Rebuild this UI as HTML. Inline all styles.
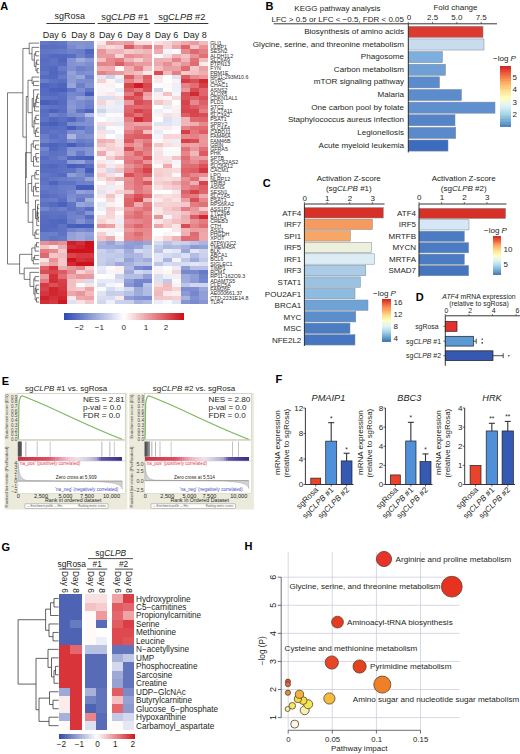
<!DOCTYPE html>
<html><head><meta charset="utf-8"><title>Figure</title>
<style>
html,body{margin:0;padding:0;background:#fff;width:520px;height:754px;overflow:hidden}
svg{display:block}
text{font-family:"Liberation Sans", sans-serif}
</style></head><body>
<svg width="520" height="754" viewBox="0 0 520 754" font-family="Liberation Sans, sans-serif" shape-rendering="auto" fill="#231f20">
<rect x="0" y="0" width="520" height="754" fill="#fff"/>
<text x="0.30" y="9.60" font-size="11" font-weight="bold" fill="#000">A</text>
<text x="69.80" y="19.40" font-size="9" text-anchor="middle">sgRosa</text>
<text x="124.80" y="19.60" font-size="9.3" text-anchor="middle">sg<tspan font-style="italic">CLPB</tspan> #1</text>
<text x="181.80" y="19.60" font-size="9.3" text-anchor="middle">sg<tspan font-style="italic">CLPB</tspan> #2</text>
<line x1="46.40" y1="23.50" x2="95.00" y2="23.50" stroke="#231f20" stroke-width="0.9"/>
<line x1="97.60" y1="23.50" x2="149.80" y2="23.50" stroke="#231f20" stroke-width="0.9"/>
<line x1="154.20" y1="23.50" x2="208.30" y2="23.50" stroke="#231f20" stroke-width="0.9"/>
<text x="54.40" y="37.90" font-size="9" text-anchor="middle">Day 6</text>
<text x="82.90" y="37.90" font-size="9" text-anchor="middle">Day 8</text>
<text x="110.80" y="37.90" font-size="9" text-anchor="middle">Day 6</text>
<text x="138.70" y="37.90" font-size="9" text-anchor="middle">Day 8</text>
<text x="166.60" y="37.90" font-size="9" text-anchor="middle">Day 6</text>
<text x="195.00" y="37.90" font-size="9" text-anchor="middle">Day 8</text>
<rect x="39.50" y="41.00" width="9.18" height="4.30" fill="#6478c6" shape-rendering="crispEdges"/>
<rect x="48.63" y="41.00" width="9.18" height="4.30" fill="#5f73c5" shape-rendering="crispEdges"/>
<rect x="57.77" y="41.00" width="9.18" height="4.30" fill="#6477c6" shape-rendering="crispEdges"/>
<rect x="66.90" y="41.00" width="9.18" height="4.30" fill="#8191d1" shape-rendering="crispEdges"/>
<rect x="76.03" y="41.00" width="9.18" height="4.30" fill="#8493d2" shape-rendering="crispEdges"/>
<rect x="85.17" y="41.00" width="9.18" height="4.30" fill="#8090d0" shape-rendering="crispEdges"/>
<rect x="96.50" y="41.00" width="9.30" height="4.30" fill="#fae7e8" shape-rendering="crispEdges"/>
<rect x="105.75" y="41.00" width="9.30" height="4.30" fill="#ea9ea2" shape-rendering="crispEdges"/>
<rect x="115.00" y="41.00" width="9.30" height="4.30" fill="#eda8ab" shape-rendering="crispEdges"/>
<rect x="124.25" y="41.00" width="9.30" height="4.30" fill="#ea9ca0" shape-rendering="crispEdges"/>
<rect x="133.50" y="41.00" width="9.30" height="4.30" fill="#f8dcde" shape-rendering="crispEdges"/>
<rect x="142.75" y="41.00" width="9.30" height="4.30" fill="#f8dedf" shape-rendering="crispEdges"/>
<rect x="153.80" y="41.00" width="9.13" height="4.30" fill="#f8e0e1" shape-rendering="crispEdges"/>
<rect x="162.88" y="41.00" width="9.13" height="4.30" fill="#f6d4d5" shape-rendering="crispEdges"/>
<rect x="171.97" y="41.00" width="9.13" height="4.30" fill="#f1bdc0" shape-rendering="crispEdges"/>
<rect x="181.05" y="41.00" width="9.13" height="4.30" fill="#edaaad" shape-rendering="crispEdges"/>
<rect x="190.13" y="41.00" width="9.13" height="4.30" fill="#ea999e" shape-rendering="crispEdges"/>
<rect x="199.22" y="41.00" width="9.13" height="4.30" fill="#f1bbbe" shape-rendering="crispEdges"/>
<rect x="39.50" y="45.25" width="9.18" height="4.30" fill="#5a6fc3" shape-rendering="crispEdges"/>
<rect x="48.63" y="45.25" width="9.18" height="4.30" fill="#5a6fc2" shape-rendering="crispEdges"/>
<rect x="57.77" y="45.25" width="9.18" height="4.30" fill="#5d71c4" shape-rendering="crispEdges"/>
<rect x="66.90" y="45.25" width="9.18" height="4.30" fill="#798ace" shape-rendering="crispEdges"/>
<rect x="76.03" y="45.25" width="9.18" height="4.30" fill="#8796d3" shape-rendering="crispEdges"/>
<rect x="85.17" y="45.25" width="9.18" height="4.30" fill="#7f90d0" shape-rendering="crispEdges"/>
<rect x="96.50" y="45.25" width="9.30" height="4.30" fill="#f4cdcf" shape-rendering="crispEdges"/>
<rect x="105.75" y="45.25" width="9.30" height="4.30" fill="#f8dcdd" shape-rendering="crispEdges"/>
<rect x="115.00" y="45.25" width="9.30" height="4.30" fill="#f5cfd1" shape-rendering="crispEdges"/>
<rect x="124.25" y="45.25" width="9.30" height="4.30" fill="#dc5b62" shape-rendering="crispEdges"/>
<rect x="133.50" y="45.25" width="9.30" height="4.30" fill="#e9969a" shape-rendering="crispEdges"/>
<rect x="142.75" y="45.25" width="9.30" height="4.30" fill="#e2777d" shape-rendering="crispEdges"/>
<rect x="153.80" y="45.25" width="9.13" height="4.30" fill="#e9999d" shape-rendering="crispEdges"/>
<rect x="162.88" y="45.25" width="9.13" height="4.30" fill="#f5d1d3" shape-rendering="crispEdges"/>
<rect x="171.97" y="45.25" width="9.13" height="4.30" fill="#eca4a8" shape-rendering="crispEdges"/>
<rect x="181.05" y="45.25" width="9.13" height="4.30" fill="#de646a" shape-rendering="crispEdges"/>
<rect x="190.13" y="45.25" width="9.13" height="4.30" fill="#f3c4c7" shape-rendering="crispEdges"/>
<rect x="199.22" y="45.25" width="9.13" height="4.30" fill="#e89398" shape-rendering="crispEdges"/>
<rect x="39.50" y="49.49" width="9.18" height="4.30" fill="#6276c5" shape-rendering="crispEdges"/>
<rect x="48.63" y="49.49" width="9.18" height="4.30" fill="#6478c6" shape-rendering="crispEdges"/>
<rect x="57.77" y="49.49" width="9.18" height="4.30" fill="#687bc8" shape-rendering="crispEdges"/>
<rect x="66.90" y="49.49" width="9.18" height="4.30" fill="#7082cb" shape-rendering="crispEdges"/>
<rect x="76.03" y="49.49" width="9.18" height="4.30" fill="#6c7ec9" shape-rendering="crispEdges"/>
<rect x="85.17" y="49.49" width="9.18" height="4.30" fill="#5167bf" shape-rendering="crispEdges"/>
<rect x="96.50" y="49.49" width="9.30" height="4.30" fill="#e99599" shape-rendering="crispEdges"/>
<rect x="105.75" y="49.49" width="9.30" height="4.30" fill="#f0b8bb" shape-rendering="crispEdges"/>
<rect x="115.00" y="49.49" width="9.30" height="4.30" fill="#efb4b7" shape-rendering="crispEdges"/>
<rect x="124.25" y="49.49" width="9.30" height="4.30" fill="#f4cacc" shape-rendering="crispEdges"/>
<rect x="133.50" y="49.49" width="9.30" height="4.30" fill="#f2c1c4" shape-rendering="crispEdges"/>
<rect x="142.75" y="49.49" width="9.30" height="4.30" fill="#efb5b8" shape-rendering="crispEdges"/>
<rect x="153.80" y="49.49" width="9.13" height="4.30" fill="#edacaf" shape-rendering="crispEdges"/>
<rect x="162.88" y="49.49" width="9.13" height="4.30" fill="#f3f5fb" shape-rendering="crispEdges"/>
<rect x="171.97" y="49.49" width="9.13" height="4.30" fill="#fefcfc" shape-rendering="crispEdges"/>
<rect x="181.05" y="49.49" width="9.13" height="4.30" fill="#e68b90" shape-rendering="crispEdges"/>
<rect x="190.13" y="49.49" width="9.13" height="4.30" fill="#df686e" shape-rendering="crispEdges"/>
<rect x="199.22" y="49.49" width="9.13" height="4.30" fill="#e48186" shape-rendering="crispEdges"/>
<rect x="39.50" y="53.74" width="9.18" height="4.30" fill="#5b70c3" shape-rendering="crispEdges"/>
<rect x="48.63" y="53.74" width="9.18" height="4.30" fill="#5469c0" shape-rendering="crispEdges"/>
<rect x="57.77" y="53.74" width="9.18" height="4.30" fill="#546ac1" shape-rendering="crispEdges"/>
<rect x="66.90" y="53.74" width="9.18" height="4.30" fill="#596ec2" shape-rendering="crispEdges"/>
<rect x="76.03" y="53.74" width="9.18" height="4.30" fill="#6f82ca" shape-rendering="crispEdges"/>
<rect x="85.17" y="53.74" width="9.18" height="4.30" fill="#5d72c4" shape-rendering="crispEdges"/>
<rect x="96.50" y="53.74" width="9.30" height="4.30" fill="#ea9b9f" shape-rendering="crispEdges"/>
<rect x="105.75" y="53.74" width="9.30" height="4.30" fill="#ea9a9e" shape-rendering="crispEdges"/>
<rect x="115.00" y="53.74" width="9.30" height="4.30" fill="#f7d7d9" shape-rendering="crispEdges"/>
<rect x="124.25" y="53.74" width="9.30" height="4.30" fill="#e78f93" shape-rendering="crispEdges"/>
<rect x="133.50" y="53.74" width="9.30" height="4.30" fill="#e9989c" shape-rendering="crispEdges"/>
<rect x="142.75" y="53.74" width="9.30" height="4.30" fill="#eca5a8" shape-rendering="crispEdges"/>
<rect x="153.80" y="53.74" width="9.13" height="4.30" fill="#fbfcfe" shape-rendering="crispEdges"/>
<rect x="162.88" y="53.74" width="9.13" height="4.30" fill="#f8ddde" shape-rendering="crispEdges"/>
<rect x="171.97" y="53.74" width="9.13" height="4.30" fill="#efb1b5" shape-rendering="crispEdges"/>
<rect x="181.05" y="53.74" width="9.13" height="4.30" fill="#f2c3c6" shape-rendering="crispEdges"/>
<rect x="190.13" y="53.74" width="9.13" height="4.30" fill="#e89498" shape-rendering="crispEdges"/>
<rect x="199.22" y="53.74" width="9.13" height="4.30" fill="#e17177" shape-rendering="crispEdges"/>
<rect x="39.50" y="57.98" width="9.18" height="4.30" fill="#576cc1" shape-rendering="crispEdges"/>
<rect x="48.63" y="57.98" width="9.18" height="4.30" fill="#5f73c4" shape-rendering="crispEdges"/>
<rect x="57.77" y="57.98" width="9.18" height="4.30" fill="#5167bf" shape-rendering="crispEdges"/>
<rect x="66.90" y="57.98" width="9.18" height="4.30" fill="#8494d2" shape-rendering="crispEdges"/>
<rect x="76.03" y="57.98" width="9.18" height="4.30" fill="#a0acdc" shape-rendering="crispEdges"/>
<rect x="85.17" y="57.98" width="9.18" height="4.30" fill="#8c9bd5" shape-rendering="crispEdges"/>
<rect x="96.50" y="57.98" width="9.30" height="4.30" fill="#f2bfc2" shape-rendering="crispEdges"/>
<rect x="105.75" y="57.98" width="9.30" height="4.30" fill="#e68a8f" shape-rendering="crispEdges"/>
<rect x="115.00" y="57.98" width="9.30" height="4.30" fill="#e37b80" shape-rendering="crispEdges"/>
<rect x="124.25" y="57.98" width="9.30" height="4.30" fill="#efb4b7" shape-rendering="crispEdges"/>
<rect x="133.50" y="57.98" width="9.30" height="4.30" fill="#f5cfd1" shape-rendering="crispEdges"/>
<rect x="142.75" y="57.98" width="9.30" height="4.30" fill="#edabaf" shape-rendering="crispEdges"/>
<rect x="153.80" y="57.98" width="9.13" height="4.30" fill="#eeafb2" shape-rendering="crispEdges"/>
<rect x="162.88" y="57.98" width="9.13" height="4.30" fill="#efb3b6" shape-rendering="crispEdges"/>
<rect x="171.97" y="57.98" width="9.13" height="4.30" fill="#e58187" shape-rendering="crispEdges"/>
<rect x="181.05" y="57.98" width="9.13" height="4.30" fill="#efb4b7" shape-rendering="crispEdges"/>
<rect x="190.13" y="57.98" width="9.13" height="4.30" fill="#e17177" shape-rendering="crispEdges"/>
<rect x="199.22" y="57.98" width="9.13" height="4.30" fill="#f1bbbe" shape-rendering="crispEdges"/>
<rect x="39.50" y="62.23" width="9.18" height="4.30" fill="#5a6fc3" shape-rendering="crispEdges"/>
<rect x="48.63" y="62.23" width="9.18" height="4.30" fill="#5d72c4" shape-rendering="crispEdges"/>
<rect x="57.77" y="62.23" width="9.18" height="4.30" fill="#586dc2" shape-rendering="crispEdges"/>
<rect x="66.90" y="62.23" width="9.18" height="4.30" fill="#8393d2" shape-rendering="crispEdges"/>
<rect x="76.03" y="62.23" width="9.18" height="4.30" fill="#8998d4" shape-rendering="crispEdges"/>
<rect x="85.17" y="62.23" width="9.18" height="4.30" fill="#7e8ed0" shape-rendering="crispEdges"/>
<rect x="96.50" y="62.23" width="9.30" height="4.30" fill="#e58388" shape-rendering="crispEdges"/>
<rect x="105.75" y="62.23" width="9.30" height="4.30" fill="#e6888d" shape-rendering="crispEdges"/>
<rect x="115.00" y="62.23" width="9.30" height="4.30" fill="#dd5e65" shape-rendering="crispEdges"/>
<rect x="124.25" y="62.23" width="9.30" height="4.30" fill="#e6888d" shape-rendering="crispEdges"/>
<rect x="133.50" y="62.23" width="9.30" height="4.30" fill="#ea9ea2" shape-rendering="crispEdges"/>
<rect x="142.75" y="62.23" width="9.30" height="4.30" fill="#ea9ca0" shape-rendering="crispEdges"/>
<rect x="153.80" y="62.23" width="9.13" height="4.30" fill="#edaaae" shape-rendering="crispEdges"/>
<rect x="162.88" y="62.23" width="9.13" height="4.30" fill="#e78f94" shape-rendering="crispEdges"/>
<rect x="171.97" y="62.23" width="9.13" height="4.30" fill="#efb4b7" shape-rendering="crispEdges"/>
<rect x="181.05" y="62.23" width="9.13" height="4.30" fill="#e9959a" shape-rendering="crispEdges"/>
<rect x="190.13" y="62.23" width="9.13" height="4.30" fill="#e06b71" shape-rendering="crispEdges"/>
<rect x="199.22" y="62.23" width="9.13" height="4.30" fill="#fbecec" shape-rendering="crispEdges"/>
<rect x="39.50" y="66.47" width="9.18" height="4.30" fill="#596ec2" shape-rendering="crispEdges"/>
<rect x="48.63" y="66.47" width="9.18" height="4.30" fill="#5369c0" shape-rendering="crispEdges"/>
<rect x="57.77" y="66.47" width="9.18" height="4.30" fill="#697cc8" shape-rendering="crispEdges"/>
<rect x="66.90" y="66.47" width="9.18" height="4.30" fill="#7f8fd0" shape-rendering="crispEdges"/>
<rect x="76.03" y="66.47" width="9.18" height="4.30" fill="#6e80ca" shape-rendering="crispEdges"/>
<rect x="85.17" y="66.47" width="9.18" height="4.30" fill="#7788cd" shape-rendering="crispEdges"/>
<rect x="96.50" y="66.47" width="9.30" height="4.30" fill="#eeafb3" shape-rendering="crispEdges"/>
<rect x="105.75" y="66.47" width="9.30" height="4.30" fill="#edabae" shape-rendering="crispEdges"/>
<rect x="115.00" y="66.47" width="9.30" height="4.30" fill="#fef8f9" shape-rendering="crispEdges"/>
<rect x="124.25" y="66.47" width="9.30" height="4.30" fill="#eeadb0" shape-rendering="crispEdges"/>
<rect x="133.50" y="66.47" width="9.30" height="4.30" fill="#e48187" shape-rendering="crispEdges"/>
<rect x="142.75" y="66.47" width="9.30" height="4.30" fill="#f2c1c3" shape-rendering="crispEdges"/>
<rect x="153.80" y="66.47" width="9.13" height="4.30" fill="#f1bdc0" shape-rendering="crispEdges"/>
<rect x="162.88" y="66.47" width="9.13" height="4.30" fill="#eb9fa3" shape-rendering="crispEdges"/>
<rect x="171.97" y="66.47" width="9.13" height="4.30" fill="#eba2a6" shape-rendering="crispEdges"/>
<rect x="181.05" y="66.47" width="9.13" height="4.30" fill="#e06a70" shape-rendering="crispEdges"/>
<rect x="190.13" y="66.47" width="9.13" height="4.30" fill="#f3c7c9" shape-rendering="crispEdges"/>
<rect x="199.22" y="66.47" width="9.13" height="4.30" fill="#eba0a4" shape-rendering="crispEdges"/>
<rect x="39.50" y="70.72" width="9.18" height="4.30" fill="#6175c5" shape-rendering="crispEdges"/>
<rect x="48.63" y="70.72" width="9.18" height="4.30" fill="#5066bf" shape-rendering="crispEdges"/>
<rect x="57.77" y="70.72" width="9.18" height="4.30" fill="#5d71c4" shape-rendering="crispEdges"/>
<rect x="66.90" y="70.72" width="9.18" height="4.30" fill="#94a2d8" shape-rendering="crispEdges"/>
<rect x="76.03" y="70.72" width="9.18" height="4.30" fill="#7b8ccf" shape-rendering="crispEdges"/>
<rect x="85.17" y="70.72" width="9.18" height="4.30" fill="#8191d1" shape-rendering="crispEdges"/>
<rect x="96.50" y="70.72" width="9.30" height="4.30" fill="#e58288" shape-rendering="crispEdges"/>
<rect x="105.75" y="70.72" width="9.30" height="4.30" fill="#e9969a" shape-rendering="crispEdges"/>
<rect x="115.00" y="70.72" width="9.30" height="4.30" fill="#ea9ca0" shape-rendering="crispEdges"/>
<rect x="124.25" y="70.72" width="9.30" height="4.30" fill="#efb2b5" shape-rendering="crispEdges"/>
<rect x="133.50" y="70.72" width="9.30" height="4.30" fill="#f2c0c3" shape-rendering="crispEdges"/>
<rect x="142.75" y="70.72" width="9.30" height="4.30" fill="#fae7e8" shape-rendering="crispEdges"/>
<rect x="153.80" y="70.72" width="9.13" height="4.30" fill="#d94a51" shape-rendering="crispEdges"/>
<rect x="162.88" y="70.72" width="9.13" height="4.30" fill="#f1bbbe" shape-rendering="crispEdges"/>
<rect x="171.97" y="70.72" width="9.13" height="4.30" fill="#e47f84" shape-rendering="crispEdges"/>
<rect x="181.05" y="70.72" width="9.13" height="4.30" fill="#f4cbcd" shape-rendering="crispEdges"/>
<rect x="190.13" y="70.72" width="9.13" height="4.30" fill="#f2c0c2" shape-rendering="crispEdges"/>
<rect x="199.22" y="70.72" width="9.13" height="4.30" fill="#eeafb2" shape-rendering="crispEdges"/>
<rect x="39.50" y="74.96" width="9.18" height="4.30" fill="#576cc1" shape-rendering="crispEdges"/>
<rect x="48.63" y="74.96" width="9.18" height="4.30" fill="#5369c0" shape-rendering="crispEdges"/>
<rect x="57.77" y="74.96" width="9.18" height="4.30" fill="#687bc8" shape-rendering="crispEdges"/>
<rect x="66.90" y="74.96" width="9.18" height="4.30" fill="#8c9bd5" shape-rendering="crispEdges"/>
<rect x="76.03" y="74.96" width="9.18" height="4.30" fill="#9aa7da" shape-rendering="crispEdges"/>
<rect x="85.17" y="74.96" width="9.18" height="4.30" fill="#6c7fc9" shape-rendering="crispEdges"/>
<rect x="96.50" y="74.96" width="9.30" height="4.30" fill="#e1e5f4" shape-rendering="crispEdges"/>
<rect x="105.75" y="74.96" width="9.30" height="4.30" fill="#ccd2ec" shape-rendering="crispEdges"/>
<rect x="115.00" y="74.96" width="9.30" height="4.30" fill="#f0f2f9" shape-rendering="crispEdges"/>
<rect x="124.25" y="74.96" width="9.30" height="4.30" fill="#dd5d64" shape-rendering="crispEdges"/>
<rect x="133.50" y="74.96" width="9.30" height="4.30" fill="#ea9ca0" shape-rendering="crispEdges"/>
<rect x="142.75" y="74.96" width="9.30" height="4.30" fill="#dd5e64" shape-rendering="crispEdges"/>
<rect x="153.80" y="74.96" width="9.13" height="4.30" fill="#f9e4e5" shape-rendering="crispEdges"/>
<rect x="162.88" y="74.96" width="9.13" height="4.30" fill="#fffdfd" shape-rendering="crispEdges"/>
<rect x="171.97" y="74.96" width="9.13" height="4.30" fill="#dee3f3" shape-rendering="crispEdges"/>
<rect x="181.05" y="74.96" width="9.13" height="4.30" fill="#dd5e65" shape-rendering="crispEdges"/>
<rect x="190.13" y="74.96" width="9.13" height="4.30" fill="#e68a8f" shape-rendering="crispEdges"/>
<rect x="199.22" y="74.96" width="9.13" height="4.30" fill="#e9989d" shape-rendering="crispEdges"/>
<rect x="39.50" y="79.21" width="9.18" height="4.30" fill="#6b7dc9" shape-rendering="crispEdges"/>
<rect x="48.63" y="79.21" width="9.18" height="4.30" fill="#5e73c4" shape-rendering="crispEdges"/>
<rect x="57.77" y="79.21" width="9.18" height="4.30" fill="#5a6fc3" shape-rendering="crispEdges"/>
<rect x="66.90" y="79.21" width="9.18" height="4.30" fill="#8e9cd6" shape-rendering="crispEdges"/>
<rect x="76.03" y="79.21" width="9.18" height="4.30" fill="#7d8ecf" shape-rendering="crispEdges"/>
<rect x="85.17" y="79.21" width="9.18" height="4.30" fill="#7d8ed0" shape-rendering="crispEdges"/>
<rect x="96.50" y="79.21" width="9.30" height="4.30" fill="#f5d0d2" shape-rendering="crispEdges"/>
<rect x="105.75" y="79.21" width="9.30" height="4.30" fill="#fdf5f6" shape-rendering="crispEdges"/>
<rect x="115.00" y="79.21" width="9.30" height="4.30" fill="#e1e5f4" shape-rendering="crispEdges"/>
<rect x="124.25" y="79.21" width="9.30" height="4.30" fill="#e5868b" shape-rendering="crispEdges"/>
<rect x="133.50" y="79.21" width="9.30" height="4.30" fill="#edabaf" shape-rendering="crispEdges"/>
<rect x="142.75" y="79.21" width="9.30" height="4.30" fill="#df676e" shape-rendering="crispEdges"/>
<rect x="153.80" y="79.21" width="9.13" height="4.30" fill="#fbeaeb" shape-rendering="crispEdges"/>
<rect x="162.88" y="79.21" width="9.13" height="4.30" fill="#fffefe" shape-rendering="crispEdges"/>
<rect x="171.97" y="79.21" width="9.13" height="4.30" fill="#fcf1f2" shape-rendering="crispEdges"/>
<rect x="181.05" y="79.21" width="9.13" height="4.30" fill="#d53941" shape-rendering="crispEdges"/>
<rect x="190.13" y="79.21" width="9.13" height="4.30" fill="#da4f56" shape-rendering="crispEdges"/>
<rect x="199.22" y="79.21" width="9.13" height="4.30" fill="#d22a33" shape-rendering="crispEdges"/>
<rect x="39.50" y="83.45" width="9.18" height="4.30" fill="#4f65bf" shape-rendering="crispEdges"/>
<rect x="48.63" y="83.45" width="9.18" height="4.30" fill="#556ac1" shape-rendering="crispEdges"/>
<rect x="57.77" y="83.45" width="9.18" height="4.30" fill="#4e65be" shape-rendering="crispEdges"/>
<rect x="66.90" y="83.45" width="9.18" height="4.30" fill="#98a5d9" shape-rendering="crispEdges"/>
<rect x="76.03" y="83.45" width="9.18" height="4.30" fill="#6c7fc9" shape-rendering="crispEdges"/>
<rect x="85.17" y="83.45" width="9.18" height="4.30" fill="#8493d2" shape-rendering="crispEdges"/>
<rect x="96.50" y="83.45" width="9.30" height="4.30" fill="#fdf4f4" shape-rendering="crispEdges"/>
<rect x="105.75" y="83.45" width="9.30" height="4.30" fill="#fcf0f1" shape-rendering="crispEdges"/>
<rect x="115.00" y="83.45" width="9.30" height="4.30" fill="#fefdfd" shape-rendering="crispEdges"/>
<rect x="124.25" y="83.45" width="9.30" height="4.30" fill="#d8444c" shape-rendering="crispEdges"/>
<rect x="133.50" y="83.45" width="9.30" height="4.30" fill="#cf1c26" shape-rendering="crispEdges"/>
<rect x="142.75" y="83.45" width="9.30" height="4.30" fill="#d94950" shape-rendering="crispEdges"/>
<rect x="153.80" y="83.45" width="9.13" height="4.30" fill="#fcfcfe" shape-rendering="crispEdges"/>
<rect x="162.88" y="83.45" width="9.13" height="4.30" fill="#fef9f9" shape-rendering="crispEdges"/>
<rect x="171.97" y="83.45" width="9.13" height="4.30" fill="#eef0f9" shape-rendering="crispEdges"/>
<rect x="181.05" y="83.45" width="9.13" height="4.30" fill="#e58388" shape-rendering="crispEdges"/>
<rect x="190.13" y="83.45" width="9.13" height="4.30" fill="#e16f75" shape-rendering="crispEdges"/>
<rect x="199.22" y="83.45" width="9.13" height="4.30" fill="#d73f47" shape-rendering="crispEdges"/>
<rect x="39.50" y="87.70" width="9.18" height="4.30" fill="#556bc1" shape-rendering="crispEdges"/>
<rect x="48.63" y="87.70" width="9.18" height="4.30" fill="#4b62bd" shape-rendering="crispEdges"/>
<rect x="57.77" y="87.70" width="9.18" height="4.30" fill="#485fbc" shape-rendering="crispEdges"/>
<rect x="66.90" y="87.70" width="9.18" height="4.30" fill="#6075c5" shape-rendering="crispEdges"/>
<rect x="76.03" y="87.70" width="9.18" height="4.30" fill="#7e8ed0" shape-rendering="crispEdges"/>
<rect x="85.17" y="87.70" width="9.18" height="4.30" fill="#6276c5" shape-rendering="crispEdges"/>
<rect x="96.50" y="87.70" width="9.30" height="4.30" fill="#f4f6fb" shape-rendering="crispEdges"/>
<rect x="105.75" y="87.70" width="9.30" height="4.30" fill="#f7f8fc" shape-rendering="crispEdges"/>
<rect x="115.00" y="87.70" width="9.30" height="4.30" fill="#e8ebf7" shape-rendering="crispEdges"/>
<rect x="124.25" y="87.70" width="9.30" height="4.30" fill="#dd5c63" shape-rendering="crispEdges"/>
<rect x="133.50" y="87.70" width="9.30" height="4.30" fill="#e2787d" shape-rendering="crispEdges"/>
<rect x="142.75" y="87.70" width="9.30" height="4.30" fill="#da5058" shape-rendering="crispEdges"/>
<rect x="153.80" y="87.70" width="9.13" height="4.30" fill="#cfd5ed" shape-rendering="crispEdges"/>
<rect x="162.88" y="87.70" width="9.13" height="4.30" fill="#fefcfc" shape-rendering="crispEdges"/>
<rect x="171.97" y="87.70" width="9.13" height="4.30" fill="#eff1f9" shape-rendering="crispEdges"/>
<rect x="181.05" y="87.70" width="9.13" height="4.30" fill="#e9999d" shape-rendering="crispEdges"/>
<rect x="190.13" y="87.70" width="9.13" height="4.30" fill="#d94b53" shape-rendering="crispEdges"/>
<rect x="199.22" y="87.70" width="9.13" height="4.30" fill="#df686e" shape-rendering="crispEdges"/>
<rect x="39.50" y="91.94" width="9.18" height="4.30" fill="#566bc1" shape-rendering="crispEdges"/>
<rect x="48.63" y="91.94" width="9.18" height="4.30" fill="#5369c0" shape-rendering="crispEdges"/>
<rect x="57.77" y="91.94" width="9.18" height="4.30" fill="#5b70c3" shape-rendering="crispEdges"/>
<rect x="66.90" y="91.94" width="9.18" height="4.30" fill="#7587cd" shape-rendering="crispEdges"/>
<rect x="76.03" y="91.94" width="9.18" height="4.30" fill="#7183cb" shape-rendering="crispEdges"/>
<rect x="85.17" y="91.94" width="9.18" height="4.30" fill="#465dbb" shape-rendering="crispEdges"/>
<rect x="96.50" y="91.94" width="9.30" height="4.30" fill="#fcf0f0" shape-rendering="crispEdges"/>
<rect x="105.75" y="91.94" width="9.30" height="4.30" fill="#fae7e8" shape-rendering="crispEdges"/>
<rect x="115.00" y="91.94" width="9.30" height="4.30" fill="#f6f7fc" shape-rendering="crispEdges"/>
<rect x="124.25" y="91.94" width="9.30" height="4.30" fill="#e47d83" shape-rendering="crispEdges"/>
<rect x="133.50" y="91.94" width="9.30" height="4.30" fill="#d74048" shape-rendering="crispEdges"/>
<rect x="142.75" y="91.94" width="9.30" height="4.30" fill="#eb9ea2" shape-rendering="crispEdges"/>
<rect x="153.80" y="91.94" width="9.13" height="4.30" fill="#fbeded" shape-rendering="crispEdges"/>
<rect x="162.88" y="91.94" width="9.13" height="4.30" fill="#f2c2c4" shape-rendering="crispEdges"/>
<rect x="171.97" y="91.94" width="9.13" height="4.30" fill="#f5f6fb" shape-rendering="crispEdges"/>
<rect x="181.05" y="91.94" width="9.13" height="4.30" fill="#d94d55" shape-rendering="crispEdges"/>
<rect x="190.13" y="91.94" width="9.13" height="4.30" fill="#d22a33" shape-rendering="crispEdges"/>
<rect x="199.22" y="91.94" width="9.13" height="4.30" fill="#de656b" shape-rendering="crispEdges"/>
<rect x="39.50" y="96.19" width="9.18" height="4.30" fill="#6074c5" shape-rendering="crispEdges"/>
<rect x="48.63" y="96.19" width="9.18" height="4.30" fill="#5f73c4" shape-rendering="crispEdges"/>
<rect x="57.77" y="96.19" width="9.18" height="4.30" fill="#596ec2" shape-rendering="crispEdges"/>
<rect x="66.90" y="96.19" width="9.18" height="4.30" fill="#7b8ccf" shape-rendering="crispEdges"/>
<rect x="76.03" y="96.19" width="9.18" height="4.30" fill="#93a0d7" shape-rendering="crispEdges"/>
<rect x="85.17" y="96.19" width="9.18" height="4.30" fill="#8493d2" shape-rendering="crispEdges"/>
<rect x="96.50" y="96.19" width="9.30" height="4.30" fill="#dadff2" shape-rendering="crispEdges"/>
<rect x="105.75" y="96.19" width="9.30" height="4.30" fill="#dadff2" shape-rendering="crispEdges"/>
<rect x="115.00" y="96.19" width="9.30" height="4.30" fill="#f8ddde" shape-rendering="crispEdges"/>
<rect x="124.25" y="96.19" width="9.30" height="4.30" fill="#d94d55" shape-rendering="crispEdges"/>
<rect x="133.50" y="96.19" width="9.30" height="4.30" fill="#dc5a61" shape-rendering="crispEdges"/>
<rect x="142.75" y="96.19" width="9.30" height="4.30" fill="#eeacb0" shape-rendering="crispEdges"/>
<rect x="153.80" y="96.19" width="9.13" height="4.30" fill="#fcf1f2" shape-rendering="crispEdges"/>
<rect x="162.88" y="96.19" width="9.13" height="4.30" fill="#fdf4f5" shape-rendering="crispEdges"/>
<rect x="171.97" y="96.19" width="9.13" height="4.30" fill="#f7dadb" shape-rendering="crispEdges"/>
<rect x="181.05" y="96.19" width="9.13" height="4.30" fill="#db535a" shape-rendering="crispEdges"/>
<rect x="190.13" y="96.19" width="9.13" height="4.30" fill="#de6268" shape-rendering="crispEdges"/>
<rect x="199.22" y="96.19" width="9.13" height="4.30" fill="#da5058" shape-rendering="crispEdges"/>
<rect x="39.50" y="100.43" width="9.18" height="4.30" fill="#485fbc" shape-rendering="crispEdges"/>
<rect x="48.63" y="100.43" width="9.18" height="4.30" fill="#4d64be" shape-rendering="crispEdges"/>
<rect x="57.77" y="100.43" width="9.18" height="4.30" fill="#556ac1" shape-rendering="crispEdges"/>
<rect x="66.90" y="100.43" width="9.18" height="4.30" fill="#8796d3" shape-rendering="crispEdges"/>
<rect x="76.03" y="100.43" width="9.18" height="4.30" fill="#7c8dcf" shape-rendering="crispEdges"/>
<rect x="85.17" y="100.43" width="9.18" height="4.30" fill="#7183cb" shape-rendering="crispEdges"/>
<rect x="96.50" y="100.43" width="9.30" height="4.30" fill="#f6d4d6" shape-rendering="crispEdges"/>
<rect x="105.75" y="100.43" width="9.30" height="4.30" fill="#fbeced" shape-rendering="crispEdges"/>
<rect x="115.00" y="100.43" width="9.30" height="4.30" fill="#e5e8f6" shape-rendering="crispEdges"/>
<rect x="124.25" y="100.43" width="9.30" height="4.30" fill="#e9989d" shape-rendering="crispEdges"/>
<rect x="133.50" y="100.43" width="9.30" height="4.30" fill="#d94b52" shape-rendering="crispEdges"/>
<rect x="142.75" y="100.43" width="9.30" height="4.30" fill="#dd5d64" shape-rendering="crispEdges"/>
<rect x="153.80" y="100.43" width="9.13" height="4.30" fill="#f3c6c8" shape-rendering="crispEdges"/>
<rect x="162.88" y="100.43" width="9.13" height="4.30" fill="#f8dcde" shape-rendering="crispEdges"/>
<rect x="171.97" y="100.43" width="9.13" height="4.30" fill="#fdfefe" shape-rendering="crispEdges"/>
<rect x="181.05" y="100.43" width="9.13" height="4.30" fill="#d7434a" shape-rendering="crispEdges"/>
<rect x="190.13" y="100.43" width="9.13" height="4.30" fill="#e6898e" shape-rendering="crispEdges"/>
<rect x="199.22" y="100.43" width="9.13" height="4.30" fill="#dd6067" shape-rendering="crispEdges"/>
<rect x="39.50" y="104.68" width="9.18" height="4.30" fill="#6276c6" shape-rendering="crispEdges"/>
<rect x="48.63" y="104.68" width="9.18" height="4.30" fill="#5f73c4" shape-rendering="crispEdges"/>
<rect x="57.77" y="104.68" width="9.18" height="4.30" fill="#5b6fc3" shape-rendering="crispEdges"/>
<rect x="66.90" y="104.68" width="9.18" height="4.30" fill="#8b9ad5" shape-rendering="crispEdges"/>
<rect x="76.03" y="104.68" width="9.18" height="4.30" fill="#7d8ed0" shape-rendering="crispEdges"/>
<rect x="85.17" y="104.68" width="9.18" height="4.30" fill="#6d7fca" shape-rendering="crispEdges"/>
<rect x="96.50" y="104.68" width="9.30" height="4.30" fill="#e1e5f4" shape-rendering="crispEdges"/>
<rect x="105.75" y="104.68" width="9.30" height="4.30" fill="#edeff8" shape-rendering="crispEdges"/>
<rect x="115.00" y="104.68" width="9.30" height="4.30" fill="#ebedf8" shape-rendering="crispEdges"/>
<rect x="124.25" y="104.68" width="9.30" height="4.30" fill="#df676d" shape-rendering="crispEdges"/>
<rect x="133.50" y="104.68" width="9.30" height="4.30" fill="#e06b71" shape-rendering="crispEdges"/>
<rect x="142.75" y="104.68" width="9.30" height="4.30" fill="#df666d" shape-rendering="crispEdges"/>
<rect x="153.80" y="104.68" width="9.13" height="4.30" fill="#ffffff" shape-rendering="crispEdges"/>
<rect x="162.88" y="104.68" width="9.13" height="4.30" fill="#eaecf7" shape-rendering="crispEdges"/>
<rect x="171.97" y="104.68" width="9.13" height="4.30" fill="#fcf3f3" shape-rendering="crispEdges"/>
<rect x="181.05" y="104.68" width="9.13" height="4.30" fill="#d94b52" shape-rendering="crispEdges"/>
<rect x="190.13" y="104.68" width="9.13" height="4.30" fill="#dd5d64" shape-rendering="crispEdges"/>
<rect x="199.22" y="104.68" width="9.13" height="4.30" fill="#e16f75" shape-rendering="crispEdges"/>
<rect x="39.50" y="108.92" width="9.18" height="4.30" fill="#586dc2" shape-rendering="crispEdges"/>
<rect x="48.63" y="108.92" width="9.18" height="4.30" fill="#4c63be" shape-rendering="crispEdges"/>
<rect x="57.77" y="108.92" width="9.18" height="4.30" fill="#586dc2" shape-rendering="crispEdges"/>
<rect x="66.90" y="108.92" width="9.18" height="4.30" fill="#8595d2" shape-rendering="crispEdges"/>
<rect x="76.03" y="108.92" width="9.18" height="4.30" fill="#6074c5" shape-rendering="crispEdges"/>
<rect x="85.17" y="108.92" width="9.18" height="4.30" fill="#4d64be" shape-rendering="crispEdges"/>
<rect x="96.50" y="108.92" width="9.30" height="4.30" fill="#ced4ed" shape-rendering="crispEdges"/>
<rect x="105.75" y="108.92" width="9.30" height="4.30" fill="#e6e9f6" shape-rendering="crispEdges"/>
<rect x="115.00" y="108.92" width="9.30" height="4.30" fill="#e6e9f6" shape-rendering="crispEdges"/>
<rect x="124.25" y="108.92" width="9.30" height="4.30" fill="#de636a" shape-rendering="crispEdges"/>
<rect x="133.50" y="108.92" width="9.30" height="4.30" fill="#d7424a" shape-rendering="crispEdges"/>
<rect x="142.75" y="108.92" width="9.30" height="4.30" fill="#db555d" shape-rendering="crispEdges"/>
<rect x="153.80" y="108.92" width="9.13" height="4.30" fill="#edf0f9" shape-rendering="crispEdges"/>
<rect x="162.88" y="108.92" width="9.13" height="4.30" fill="#f9fafd" shape-rendering="crispEdges"/>
<rect x="171.97" y="108.92" width="9.13" height="4.30" fill="#fcefef" shape-rendering="crispEdges"/>
<rect x="181.05" y="108.92" width="9.13" height="4.30" fill="#d8454d" shape-rendering="crispEdges"/>
<rect x="190.13" y="108.92" width="9.13" height="4.30" fill="#d7444c" shape-rendering="crispEdges"/>
<rect x="199.22" y="108.92" width="9.13" height="4.30" fill="#e48186" shape-rendering="crispEdges"/>
<rect x="39.50" y="113.17" width="9.18" height="4.30" fill="#5b70c3" shape-rendering="crispEdges"/>
<rect x="48.63" y="113.17" width="9.18" height="4.30" fill="#7082cb" shape-rendering="crispEdges"/>
<rect x="57.77" y="113.17" width="9.18" height="4.30" fill="#6679c7" shape-rendering="crispEdges"/>
<rect x="66.90" y="113.17" width="9.18" height="4.30" fill="#7b8ccf" shape-rendering="crispEdges"/>
<rect x="76.03" y="113.17" width="9.18" height="4.30" fill="#8191d1" shape-rendering="crispEdges"/>
<rect x="85.17" y="113.17" width="9.18" height="4.30" fill="#b0bae2" shape-rendering="crispEdges"/>
<rect x="96.50" y="113.17" width="9.30" height="4.30" fill="#eceff8" shape-rendering="crispEdges"/>
<rect x="105.75" y="113.17" width="9.30" height="4.30" fill="#fefafa" shape-rendering="crispEdges"/>
<rect x="115.00" y="113.17" width="9.30" height="4.30" fill="#fdf8f8" shape-rendering="crispEdges"/>
<rect x="124.25" y="113.17" width="9.30" height="4.30" fill="#db545b" shape-rendering="crispEdges"/>
<rect x="133.50" y="113.17" width="9.30" height="4.30" fill="#e17278" shape-rendering="crispEdges"/>
<rect x="142.75" y="113.17" width="9.30" height="4.30" fill="#da4f57" shape-rendering="crispEdges"/>
<rect x="153.80" y="113.17" width="9.13" height="4.30" fill="#fcf2f2" shape-rendering="crispEdges"/>
<rect x="162.88" y="113.17" width="9.13" height="4.30" fill="#f9e1e2" shape-rendering="crispEdges"/>
<rect x="171.97" y="113.17" width="9.13" height="4.30" fill="#fae9ea" shape-rendering="crispEdges"/>
<rect x="181.05" y="113.17" width="9.13" height="4.30" fill="#dd5d64" shape-rendering="crispEdges"/>
<rect x="190.13" y="113.17" width="9.13" height="4.30" fill="#d8454d" shape-rendering="crispEdges"/>
<rect x="199.22" y="113.17" width="9.13" height="4.30" fill="#da4e56" shape-rendering="crispEdges"/>
<rect x="39.50" y="117.41" width="9.18" height="4.30" fill="#5f73c4" shape-rendering="crispEdges"/>
<rect x="48.63" y="117.41" width="9.18" height="4.30" fill="#5369c0" shape-rendering="crispEdges"/>
<rect x="57.77" y="117.41" width="9.18" height="4.30" fill="#5b70c3" shape-rendering="crispEdges"/>
<rect x="66.90" y="117.41" width="9.18" height="4.30" fill="#5066bf" shape-rendering="crispEdges"/>
<rect x="76.03" y="117.41" width="9.18" height="4.30" fill="#697cc8" shape-rendering="crispEdges"/>
<rect x="85.17" y="117.41" width="9.18" height="4.30" fill="#8191d1" shape-rendering="crispEdges"/>
<rect x="96.50" y="117.41" width="9.30" height="4.30" fill="#fefeff" shape-rendering="crispEdges"/>
<rect x="105.75" y="117.41" width="9.30" height="4.30" fill="#f3f4fa" shape-rendering="crispEdges"/>
<rect x="115.00" y="117.41" width="9.30" height="4.30" fill="#eff1f9" shape-rendering="crispEdges"/>
<rect x="124.25" y="117.41" width="9.30" height="4.30" fill="#e48085" shape-rendering="crispEdges"/>
<rect x="133.50" y="117.41" width="9.30" height="4.30" fill="#d32d36" shape-rendering="crispEdges"/>
<rect x="142.75" y="117.41" width="9.30" height="4.30" fill="#da4e56" shape-rendering="crispEdges"/>
<rect x="153.80" y="117.41" width="9.13" height="4.30" fill="#fffdfd" shape-rendering="crispEdges"/>
<rect x="162.88" y="117.41" width="9.13" height="4.30" fill="#dbe0f2" shape-rendering="crispEdges"/>
<rect x="171.97" y="117.41" width="9.13" height="4.30" fill="#e9ebf7" shape-rendering="crispEdges"/>
<rect x="181.05" y="117.41" width="9.13" height="4.30" fill="#efb5b8" shape-rendering="crispEdges"/>
<rect x="190.13" y="117.41" width="9.13" height="4.30" fill="#df696f" shape-rendering="crispEdges"/>
<rect x="199.22" y="117.41" width="9.13" height="4.30" fill="#de646b" shape-rendering="crispEdges"/>
<rect x="39.50" y="121.66" width="9.18" height="4.30" fill="#4e64be" shape-rendering="crispEdges"/>
<rect x="48.63" y="121.66" width="9.18" height="4.30" fill="#485fbc" shape-rendering="crispEdges"/>
<rect x="57.77" y="121.66" width="9.18" height="4.30" fill="#5369c0" shape-rendering="crispEdges"/>
<rect x="66.90" y="121.66" width="9.18" height="4.30" fill="#798ace" shape-rendering="crispEdges"/>
<rect x="76.03" y="121.66" width="9.18" height="4.30" fill="#8090d1" shape-rendering="crispEdges"/>
<rect x="85.17" y="121.66" width="9.18" height="4.30" fill="#8291d1" shape-rendering="crispEdges"/>
<rect x="96.50" y="121.66" width="9.30" height="4.30" fill="#f8ddde" shape-rendering="crispEdges"/>
<rect x="105.75" y="121.66" width="9.30" height="4.30" fill="#f9e4e5" shape-rendering="crispEdges"/>
<rect x="115.00" y="121.66" width="9.30" height="4.30" fill="#e7eaf6" shape-rendering="crispEdges"/>
<rect x="124.25" y="121.66" width="9.30" height="4.30" fill="#e9979c" shape-rendering="crispEdges"/>
<rect x="133.50" y="121.66" width="9.30" height="4.30" fill="#eca5a9" shape-rendering="crispEdges"/>
<rect x="142.75" y="121.66" width="9.30" height="4.30" fill="#eca6aa" shape-rendering="crispEdges"/>
<rect x="153.80" y="121.66" width="9.13" height="4.30" fill="#e0e4f4" shape-rendering="crispEdges"/>
<rect x="162.88" y="121.66" width="9.13" height="4.30" fill="#e1e5f4" shape-rendering="crispEdges"/>
<rect x="171.97" y="121.66" width="9.13" height="4.30" fill="#eaedf7" shape-rendering="crispEdges"/>
<rect x="181.05" y="121.66" width="9.13" height="4.30" fill="#f0b7ba" shape-rendering="crispEdges"/>
<rect x="190.13" y="121.66" width="9.13" height="4.30" fill="#eeadb1" shape-rendering="crispEdges"/>
<rect x="199.22" y="121.66" width="9.13" height="4.30" fill="#e68a8f" shape-rendering="crispEdges"/>
<rect x="39.50" y="125.90" width="9.18" height="4.30" fill="#5c70c3" shape-rendering="crispEdges"/>
<rect x="48.63" y="125.90" width="9.18" height="4.30" fill="#576cc2" shape-rendering="crispEdges"/>
<rect x="57.77" y="125.90" width="9.18" height="4.30" fill="#5b70c3" shape-rendering="crispEdges"/>
<rect x="66.90" y="125.90" width="9.18" height="4.30" fill="#465dbb" shape-rendering="crispEdges"/>
<rect x="76.03" y="125.90" width="9.18" height="4.30" fill="#5e72c4" shape-rendering="crispEdges"/>
<rect x="85.17" y="125.90" width="9.18" height="4.30" fill="#7183cb" shape-rendering="crispEdges"/>
<rect x="96.50" y="125.90" width="9.30" height="4.30" fill="#dadef1" shape-rendering="crispEdges"/>
<rect x="105.75" y="125.90" width="9.30" height="4.30" fill="#fafbfd" shape-rendering="crispEdges"/>
<rect x="115.00" y="125.90" width="9.30" height="4.30" fill="#f9fafd" shape-rendering="crispEdges"/>
<rect x="124.25" y="125.90" width="9.30" height="4.30" fill="#ea9a9f" shape-rendering="crispEdges"/>
<rect x="133.50" y="125.90" width="9.30" height="4.30" fill="#e47e83" shape-rendering="crispEdges"/>
<rect x="142.75" y="125.90" width="9.30" height="4.30" fill="#e47f85" shape-rendering="crispEdges"/>
<rect x="153.80" y="125.90" width="9.13" height="4.30" fill="#fbeeef" shape-rendering="crispEdges"/>
<rect x="162.88" y="125.90" width="9.13" height="4.30" fill="#fbebec" shape-rendering="crispEdges"/>
<rect x="171.97" y="125.90" width="9.13" height="4.30" fill="#fef9f9" shape-rendering="crispEdges"/>
<rect x="181.05" y="125.90" width="9.13" height="4.30" fill="#e58388" shape-rendering="crispEdges"/>
<rect x="190.13" y="125.90" width="9.13" height="4.30" fill="#e06e74" shape-rendering="crispEdges"/>
<rect x="199.22" y="125.90" width="9.13" height="4.30" fill="#e06c72" shape-rendering="crispEdges"/>
<rect x="39.50" y="130.15" width="9.18" height="4.30" fill="#596ec2" shape-rendering="crispEdges"/>
<rect x="48.63" y="130.15" width="9.18" height="4.30" fill="#6175c5" shape-rendering="crispEdges"/>
<rect x="57.77" y="130.15" width="9.18" height="4.30" fill="#5e72c4" shape-rendering="crispEdges"/>
<rect x="66.90" y="130.15" width="9.18" height="4.30" fill="#7b8ccf" shape-rendering="crispEdges"/>
<rect x="76.03" y="130.15" width="9.18" height="4.30" fill="#8393d2" shape-rendering="crispEdges"/>
<rect x="85.17" y="130.15" width="9.18" height="4.30" fill="#7183cb" shape-rendering="crispEdges"/>
<rect x="96.50" y="130.15" width="9.30" height="4.30" fill="#f9e1e2" shape-rendering="crispEdges"/>
<rect x="105.75" y="130.15" width="9.30" height="4.30" fill="#e7eaf6" shape-rendering="crispEdges"/>
<rect x="115.00" y="130.15" width="9.30" height="4.30" fill="#fefcfc" shape-rendering="crispEdges"/>
<rect x="124.25" y="130.15" width="9.30" height="4.30" fill="#e47f85" shape-rendering="crispEdges"/>
<rect x="133.50" y="130.15" width="9.30" height="4.30" fill="#df666c" shape-rendering="crispEdges"/>
<rect x="142.75" y="130.15" width="9.30" height="4.30" fill="#f2bfc2" shape-rendering="crispEdges"/>
<rect x="153.80" y="130.15" width="9.13" height="4.30" fill="#e8ebf6" shape-rendering="crispEdges"/>
<rect x="162.88" y="130.15" width="9.13" height="4.30" fill="#fafbfd" shape-rendering="crispEdges"/>
<rect x="171.97" y="130.15" width="9.13" height="4.30" fill="#fefcfd" shape-rendering="crispEdges"/>
<rect x="181.05" y="130.15" width="9.13" height="4.30" fill="#d63e46" shape-rendering="crispEdges"/>
<rect x="190.13" y="130.15" width="9.13" height="4.30" fill="#e3797e" shape-rendering="crispEdges"/>
<rect x="199.22" y="130.15" width="9.13" height="4.30" fill="#dd5d63" shape-rendering="crispEdges"/>
<rect x="39.50" y="134.39" width="9.18" height="4.30" fill="#6b7dc9" shape-rendering="crispEdges"/>
<rect x="48.63" y="134.39" width="9.18" height="4.30" fill="#5a6fc3" shape-rendering="crispEdges"/>
<rect x="57.77" y="134.39" width="9.18" height="4.30" fill="#6477c6" shape-rendering="crispEdges"/>
<rect x="66.90" y="134.39" width="9.18" height="4.30" fill="#abb5e0" shape-rendering="crispEdges"/>
<rect x="76.03" y="134.39" width="9.18" height="4.30" fill="#7e8fd0" shape-rendering="crispEdges"/>
<rect x="85.17" y="134.39" width="9.18" height="4.30" fill="#8393d2" shape-rendering="crispEdges"/>
<rect x="96.50" y="134.39" width="9.30" height="4.30" fill="#fae6e7" shape-rendering="crispEdges"/>
<rect x="105.75" y="134.39" width="9.30" height="4.30" fill="#ffffff" shape-rendering="crispEdges"/>
<rect x="115.00" y="134.39" width="9.30" height="4.30" fill="#eff1f9" shape-rendering="crispEdges"/>
<rect x="124.25" y="134.39" width="9.30" height="4.30" fill="#df656b" shape-rendering="crispEdges"/>
<rect x="133.50" y="134.39" width="9.30" height="4.30" fill="#dd5d64" shape-rendering="crispEdges"/>
<rect x="142.75" y="134.39" width="9.30" height="4.30" fill="#dc5960" shape-rendering="crispEdges"/>
<rect x="153.80" y="134.39" width="9.13" height="4.30" fill="#f4f5fb" shape-rendering="crispEdges"/>
<rect x="162.88" y="134.39" width="9.13" height="4.30" fill="#f6d5d7" shape-rendering="crispEdges"/>
<rect x="171.97" y="134.39" width="9.13" height="4.30" fill="#f7d7d8" shape-rendering="crispEdges"/>
<rect x="181.05" y="134.39" width="9.13" height="4.30" fill="#e6898e" shape-rendering="crispEdges"/>
<rect x="190.13" y="134.39" width="9.13" height="4.30" fill="#e58187" shape-rendering="crispEdges"/>
<rect x="199.22" y="134.39" width="9.13" height="4.30" fill="#e9969a" shape-rendering="crispEdges"/>
<rect x="39.50" y="138.64" width="9.18" height="4.30" fill="#6f82ca" shape-rendering="crispEdges"/>
<rect x="48.63" y="138.64" width="9.18" height="4.30" fill="#6579c7" shape-rendering="crispEdges"/>
<rect x="57.77" y="138.64" width="9.18" height="4.30" fill="#6074c5" shape-rendering="crispEdges"/>
<rect x="66.90" y="138.64" width="9.18" height="4.30" fill="#7a8bce" shape-rendering="crispEdges"/>
<rect x="76.03" y="138.64" width="9.18" height="4.30" fill="#6a7dc9" shape-rendering="crispEdges"/>
<rect x="85.17" y="138.64" width="9.18" height="4.30" fill="#7183cb" shape-rendering="crispEdges"/>
<rect x="96.50" y="138.64" width="9.30" height="4.30" fill="#eeb0b3" shape-rendering="crispEdges"/>
<rect x="105.75" y="138.64" width="9.30" height="4.30" fill="#f0babd" shape-rendering="crispEdges"/>
<rect x="115.00" y="138.64" width="9.30" height="4.30" fill="#f9e4e5" shape-rendering="crispEdges"/>
<rect x="124.25" y="138.64" width="9.30" height="4.30" fill="#dc575e" shape-rendering="crispEdges"/>
<rect x="133.50" y="138.64" width="9.30" height="4.30" fill="#e89296" shape-rendering="crispEdges"/>
<rect x="142.75" y="138.64" width="9.30" height="4.30" fill="#e47e83" shape-rendering="crispEdges"/>
<rect x="153.80" y="138.64" width="9.13" height="4.30" fill="#fef8f9" shape-rendering="crispEdges"/>
<rect x="162.88" y="138.64" width="9.13" height="4.30" fill="#fae9ea" shape-rendering="crispEdges"/>
<rect x="171.97" y="138.64" width="9.13" height="4.30" fill="#eceff8" shape-rendering="crispEdges"/>
<rect x="181.05" y="138.64" width="9.13" height="4.30" fill="#d74048" shape-rendering="crispEdges"/>
<rect x="190.13" y="138.64" width="9.13" height="4.30" fill="#d94c54" shape-rendering="crispEdges"/>
<rect x="199.22" y="138.64" width="9.13" height="4.30" fill="#e9989c" shape-rendering="crispEdges"/>
<rect x="39.50" y="142.88" width="9.18" height="4.30" fill="#546ac0" shape-rendering="crispEdges"/>
<rect x="48.63" y="142.88" width="9.18" height="4.30" fill="#4d63be" shape-rendering="crispEdges"/>
<rect x="57.77" y="142.88" width="9.18" height="4.30" fill="#556bc1" shape-rendering="crispEdges"/>
<rect x="66.90" y="142.88" width="9.18" height="4.30" fill="#465dbb" shape-rendering="crispEdges"/>
<rect x="76.03" y="142.88" width="9.18" height="4.30" fill="#5d71c4" shape-rendering="crispEdges"/>
<rect x="85.17" y="142.88" width="9.18" height="4.30" fill="#6478c6" shape-rendering="crispEdges"/>
<rect x="96.50" y="142.88" width="9.30" height="4.30" fill="#f2c1c4" shape-rendering="crispEdges"/>
<rect x="105.75" y="142.88" width="9.30" height="4.30" fill="#f6d3d5" shape-rendering="crispEdges"/>
<rect x="115.00" y="142.88" width="9.30" height="4.30" fill="#f9e4e5" shape-rendering="crispEdges"/>
<rect x="124.25" y="142.88" width="9.30" height="4.30" fill="#e78d92" shape-rendering="crispEdges"/>
<rect x="133.50" y="142.88" width="9.30" height="4.30" fill="#ea9ea2" shape-rendering="crispEdges"/>
<rect x="142.75" y="142.88" width="9.30" height="4.30" fill="#df6970" shape-rendering="crispEdges"/>
<rect x="153.80" y="142.88" width="9.13" height="4.30" fill="#f3c8ca" shape-rendering="crispEdges"/>
<rect x="162.88" y="142.88" width="9.13" height="4.30" fill="#f8dfe0" shape-rendering="crispEdges"/>
<rect x="171.97" y="142.88" width="9.13" height="4.30" fill="#fae8e9" shape-rendering="crispEdges"/>
<rect x="181.05" y="142.88" width="9.13" height="4.30" fill="#eb9fa3" shape-rendering="crispEdges"/>
<rect x="190.13" y="142.88" width="9.13" height="4.30" fill="#eca6aa" shape-rendering="crispEdges"/>
<rect x="199.22" y="142.88" width="9.13" height="4.30" fill="#e9959a" shape-rendering="crispEdges"/>
<rect x="39.50" y="147.13" width="9.18" height="4.30" fill="#7486cc" shape-rendering="crispEdges"/>
<rect x="48.63" y="147.13" width="9.18" height="4.30" fill="#5167bf" shape-rendering="crispEdges"/>
<rect x="57.77" y="147.13" width="9.18" height="4.30" fill="#5b70c3" shape-rendering="crispEdges"/>
<rect x="66.90" y="147.13" width="9.18" height="4.30" fill="#8090d0" shape-rendering="crispEdges"/>
<rect x="76.03" y="147.13" width="9.18" height="4.30" fill="#7f8fd0" shape-rendering="crispEdges"/>
<rect x="85.17" y="147.13" width="9.18" height="4.30" fill="#8494d2" shape-rendering="crispEdges"/>
<rect x="96.50" y="147.13" width="9.30" height="4.30" fill="#f8dfe0" shape-rendering="crispEdges"/>
<rect x="105.75" y="147.13" width="9.30" height="4.30" fill="#f5cfd1" shape-rendering="crispEdges"/>
<rect x="115.00" y="147.13" width="9.30" height="4.30" fill="#f7d7d9" shape-rendering="crispEdges"/>
<rect x="124.25" y="147.13" width="9.30" height="4.30" fill="#d94d54" shape-rendering="crispEdges"/>
<rect x="133.50" y="147.13" width="9.30" height="4.30" fill="#e89195" shape-rendering="crispEdges"/>
<rect x="142.75" y="147.13" width="9.30" height="4.30" fill="#e2777d" shape-rendering="crispEdges"/>
<rect x="153.80" y="147.13" width="9.13" height="4.30" fill="#fae8e9" shape-rendering="crispEdges"/>
<rect x="162.88" y="147.13" width="9.13" height="4.30" fill="#fcfcfe" shape-rendering="crispEdges"/>
<rect x="171.97" y="147.13" width="9.13" height="4.30" fill="#fcfcfe" shape-rendering="crispEdges"/>
<rect x="181.05" y="147.13" width="9.13" height="4.30" fill="#e17177" shape-rendering="crispEdges"/>
<rect x="190.13" y="147.13" width="9.13" height="4.30" fill="#e9979b" shape-rendering="crispEdges"/>
<rect x="199.22" y="147.13" width="9.13" height="4.30" fill="#e17177" shape-rendering="crispEdges"/>
<rect x="39.50" y="151.37" width="9.18" height="4.30" fill="#6579c7" shape-rendering="crispEdges"/>
<rect x="48.63" y="151.37" width="9.18" height="4.30" fill="#5e72c4" shape-rendering="crispEdges"/>
<rect x="57.77" y="151.37" width="9.18" height="4.30" fill="#6175c5" shape-rendering="crispEdges"/>
<rect x="66.90" y="151.37" width="9.18" height="4.30" fill="#8897d3" shape-rendering="crispEdges"/>
<rect x="76.03" y="151.37" width="9.18" height="4.30" fill="#697cc8" shape-rendering="crispEdges"/>
<rect x="85.17" y="151.37" width="9.18" height="4.30" fill="#8595d3" shape-rendering="crispEdges"/>
<rect x="96.50" y="151.37" width="9.30" height="4.30" fill="#edaaae" shape-rendering="crispEdges"/>
<rect x="105.75" y="151.37" width="9.30" height="4.30" fill="#fae8e9" shape-rendering="crispEdges"/>
<rect x="115.00" y="151.37" width="9.30" height="4.30" fill="#f6d6d8" shape-rendering="crispEdges"/>
<rect x="124.25" y="151.37" width="9.30" height="4.30" fill="#e78e93" shape-rendering="crispEdges"/>
<rect x="133.50" y="151.37" width="9.30" height="4.30" fill="#de636a" shape-rendering="crispEdges"/>
<rect x="142.75" y="151.37" width="9.30" height="4.30" fill="#e58288" shape-rendering="crispEdges"/>
<rect x="153.80" y="151.37" width="9.13" height="4.30" fill="#f8dfe0" shape-rendering="crispEdges"/>
<rect x="162.88" y="151.37" width="9.13" height="4.30" fill="#f8f9fc" shape-rendering="crispEdges"/>
<rect x="171.97" y="151.37" width="9.13" height="4.30" fill="#fdf6f6" shape-rendering="crispEdges"/>
<rect x="181.05" y="151.37" width="9.13" height="4.30" fill="#e5858a" shape-rendering="crispEdges"/>
<rect x="190.13" y="151.37" width="9.13" height="4.30" fill="#f0b8bb" shape-rendering="crispEdges"/>
<rect x="199.22" y="151.37" width="9.13" height="4.30" fill="#dc5b62" shape-rendering="crispEdges"/>
<rect x="39.50" y="155.62" width="9.18" height="4.30" fill="#576cc2" shape-rendering="crispEdges"/>
<rect x="48.63" y="155.62" width="9.18" height="4.30" fill="#6175c5" shape-rendering="crispEdges"/>
<rect x="57.77" y="155.62" width="9.18" height="4.30" fill="#6e80ca" shape-rendering="crispEdges"/>
<rect x="66.90" y="155.62" width="9.18" height="4.30" fill="#5167bf" shape-rendering="crispEdges"/>
<rect x="76.03" y="155.62" width="9.18" height="4.30" fill="#4960bc" shape-rendering="crispEdges"/>
<rect x="85.17" y="155.62" width="9.18" height="4.30" fill="#465dbb" shape-rendering="crispEdges"/>
<rect x="96.50" y="155.62" width="9.30" height="4.30" fill="#fdf5f5" shape-rendering="crispEdges"/>
<rect x="105.75" y="155.62" width="9.30" height="4.30" fill="#f4cdcf" shape-rendering="crispEdges"/>
<rect x="115.00" y="155.62" width="9.30" height="4.30" fill="#edaaae" shape-rendering="crispEdges"/>
<rect x="124.25" y="155.62" width="9.30" height="4.30" fill="#e48085" shape-rendering="crispEdges"/>
<rect x="133.50" y="155.62" width="9.30" height="4.30" fill="#e5858a" shape-rendering="crispEdges"/>
<rect x="142.75" y="155.62" width="9.30" height="4.30" fill="#db5259" shape-rendering="crispEdges"/>
<rect x="153.80" y="155.62" width="9.13" height="4.30" fill="#f8dfe1" shape-rendering="crispEdges"/>
<rect x="162.88" y="155.62" width="9.13" height="4.30" fill="#f9e3e4" shape-rendering="crispEdges"/>
<rect x="171.97" y="155.62" width="9.13" height="4.30" fill="#f3c4c7" shape-rendering="crispEdges"/>
<rect x="181.05" y="155.62" width="9.13" height="4.30" fill="#e06c72" shape-rendering="crispEdges"/>
<rect x="190.13" y="155.62" width="9.13" height="4.30" fill="#ea9a9e" shape-rendering="crispEdges"/>
<rect x="199.22" y="155.62" width="9.13" height="4.30" fill="#eb9ea2" shape-rendering="crispEdges"/>
<rect x="39.50" y="159.86" width="9.18" height="4.30" fill="#5e73c4" shape-rendering="crispEdges"/>
<rect x="48.63" y="159.86" width="9.18" height="4.30" fill="#5e73c4" shape-rendering="crispEdges"/>
<rect x="57.77" y="159.86" width="9.18" height="4.30" fill="#5c71c3" shape-rendering="crispEdges"/>
<rect x="66.90" y="159.86" width="9.18" height="4.30" fill="#8c9bd5" shape-rendering="crispEdges"/>
<rect x="76.03" y="159.86" width="9.18" height="4.30" fill="#93a1d7" shape-rendering="crispEdges"/>
<rect x="85.17" y="159.86" width="9.18" height="4.30" fill="#7284cb" shape-rendering="crispEdges"/>
<rect x="96.50" y="159.86" width="9.30" height="4.30" fill="#fae7e8" shape-rendering="crispEdges"/>
<rect x="105.75" y="159.86" width="9.30" height="4.30" fill="#f0f2fa" shape-rendering="crispEdges"/>
<rect x="115.00" y="159.86" width="9.30" height="4.30" fill="#fefbfb" shape-rendering="crispEdges"/>
<rect x="124.25" y="159.86" width="9.30" height="4.30" fill="#e3797f" shape-rendering="crispEdges"/>
<rect x="133.50" y="159.86" width="9.30" height="4.30" fill="#df666c" shape-rendering="crispEdges"/>
<rect x="142.75" y="159.86" width="9.30" height="4.30" fill="#e9969b" shape-rendering="crispEdges"/>
<rect x="153.80" y="159.86" width="9.13" height="4.30" fill="#fae7e8" shape-rendering="crispEdges"/>
<rect x="162.88" y="159.86" width="9.13" height="4.30" fill="#f8e0e1" shape-rendering="crispEdges"/>
<rect x="171.97" y="159.86" width="9.13" height="4.30" fill="#f4f6fb" shape-rendering="crispEdges"/>
<rect x="181.05" y="159.86" width="9.13" height="4.30" fill="#e3797f" shape-rendering="crispEdges"/>
<rect x="190.13" y="159.86" width="9.13" height="4.30" fill="#e78e92" shape-rendering="crispEdges"/>
<rect x="199.22" y="159.86" width="9.13" height="4.30" fill="#e16f75" shape-rendering="crispEdges"/>
<rect x="39.50" y="164.11" width="9.18" height="4.30" fill="#556ac1" shape-rendering="crispEdges"/>
<rect x="48.63" y="164.11" width="9.18" height="4.30" fill="#5268c0" shape-rendering="crispEdges"/>
<rect x="57.77" y="164.11" width="9.18" height="4.30" fill="#5b6fc3" shape-rendering="crispEdges"/>
<rect x="66.90" y="164.11" width="9.18" height="4.30" fill="#465dbb" shape-rendering="crispEdges"/>
<rect x="76.03" y="164.11" width="9.18" height="4.30" fill="#4c63be" shape-rendering="crispEdges"/>
<rect x="85.17" y="164.11" width="9.18" height="4.30" fill="#596ec2" shape-rendering="crispEdges"/>
<rect x="96.50" y="164.11" width="9.30" height="4.30" fill="#f5cdcf" shape-rendering="crispEdges"/>
<rect x="105.75" y="164.11" width="9.30" height="4.30" fill="#fae7e8" shape-rendering="crispEdges"/>
<rect x="115.00" y="164.11" width="9.30" height="4.30" fill="#f7dbdd" shape-rendering="crispEdges"/>
<rect x="124.25" y="164.11" width="9.30" height="4.30" fill="#e89499" shape-rendering="crispEdges"/>
<rect x="133.50" y="164.11" width="9.30" height="4.30" fill="#e37c81" shape-rendering="crispEdges"/>
<rect x="142.75" y="164.11" width="9.30" height="4.30" fill="#dc5960" shape-rendering="crispEdges"/>
<rect x="153.80" y="164.11" width="9.13" height="4.30" fill="#fdf7f7" shape-rendering="crispEdges"/>
<rect x="162.88" y="164.11" width="9.13" height="4.30" fill="#eda9ac" shape-rendering="crispEdges"/>
<rect x="171.97" y="164.11" width="9.13" height="4.30" fill="#fdf5f6" shape-rendering="crispEdges"/>
<rect x="181.05" y="164.11" width="9.13" height="4.30" fill="#e17076" shape-rendering="crispEdges"/>
<rect x="190.13" y="164.11" width="9.13" height="4.30" fill="#e06b72" shape-rendering="crispEdges"/>
<rect x="199.22" y="164.11" width="9.13" height="4.30" fill="#db535a" shape-rendering="crispEdges"/>
<rect x="39.50" y="168.35" width="9.18" height="4.30" fill="#586dc2" shape-rendering="crispEdges"/>
<rect x="48.63" y="168.35" width="9.18" height="4.30" fill="#586dc2" shape-rendering="crispEdges"/>
<rect x="57.77" y="168.35" width="9.18" height="4.30" fill="#5d72c4" shape-rendering="crispEdges"/>
<rect x="66.90" y="168.35" width="9.18" height="4.30" fill="#5e73c4" shape-rendering="crispEdges"/>
<rect x="76.03" y="168.35" width="9.18" height="4.30" fill="#7788cd" shape-rendering="crispEdges"/>
<rect x="85.17" y="168.35" width="9.18" height="4.30" fill="#465dbb" shape-rendering="crispEdges"/>
<rect x="96.50" y="168.35" width="9.30" height="4.30" fill="#f9e2e3" shape-rendering="crispEdges"/>
<rect x="105.75" y="168.35" width="9.30" height="4.30" fill="#d5daf0" shape-rendering="crispEdges"/>
<rect x="115.00" y="168.35" width="9.30" height="4.30" fill="#f2c3c6" shape-rendering="crispEdges"/>
<rect x="124.25" y="168.35" width="9.30" height="4.30" fill="#e58388" shape-rendering="crispEdges"/>
<rect x="133.50" y="168.35" width="9.30" height="4.30" fill="#de6268" shape-rendering="crispEdges"/>
<rect x="142.75" y="168.35" width="9.30" height="4.30" fill="#d7424a" shape-rendering="crispEdges"/>
<rect x="153.80" y="168.35" width="9.13" height="4.30" fill="#f5cfd1" shape-rendering="crispEdges"/>
<rect x="162.88" y="168.35" width="9.13" height="4.30" fill="#f6d5d7" shape-rendering="crispEdges"/>
<rect x="171.97" y="168.35" width="9.13" height="4.30" fill="#f7dbdd" shape-rendering="crispEdges"/>
<rect x="181.05" y="168.35" width="9.13" height="4.30" fill="#de6369" shape-rendering="crispEdges"/>
<rect x="190.13" y="168.35" width="9.13" height="4.30" fill="#dd5d64" shape-rendering="crispEdges"/>
<rect x="199.22" y="168.35" width="9.13" height="4.30" fill="#d53840" shape-rendering="crispEdges"/>
<rect x="39.50" y="172.60" width="9.18" height="4.30" fill="#6376c6" shape-rendering="crispEdges"/>
<rect x="48.63" y="172.60" width="9.18" height="4.30" fill="#5c71c4" shape-rendering="crispEdges"/>
<rect x="57.77" y="172.60" width="9.18" height="4.30" fill="#556ac1" shape-rendering="crispEdges"/>
<rect x="66.90" y="172.60" width="9.18" height="4.30" fill="#919fd7" shape-rendering="crispEdges"/>
<rect x="76.03" y="172.60" width="9.18" height="4.30" fill="#7f8fd0" shape-rendering="crispEdges"/>
<rect x="85.17" y="172.60" width="9.18" height="4.30" fill="#6478c6" shape-rendering="crispEdges"/>
<rect x="96.50" y="172.60" width="9.30" height="4.30" fill="#f4cbce" shape-rendering="crispEdges"/>
<rect x="105.75" y="172.60" width="9.30" height="4.30" fill="#f8dee0" shape-rendering="crispEdges"/>
<rect x="115.00" y="172.60" width="9.30" height="4.30" fill="#f1f3fa" shape-rendering="crispEdges"/>
<rect x="124.25" y="172.60" width="9.30" height="4.30" fill="#da4e55" shape-rendering="crispEdges"/>
<rect x="133.50" y="172.60" width="9.30" height="4.30" fill="#e16e75" shape-rendering="crispEdges"/>
<rect x="142.75" y="172.60" width="9.30" height="4.30" fill="#de6067" shape-rendering="crispEdges"/>
<rect x="153.80" y="172.60" width="9.13" height="4.30" fill="#f4ccce" shape-rendering="crispEdges"/>
<rect x="162.88" y="172.60" width="9.13" height="4.30" fill="#f6d5d7" shape-rendering="crispEdges"/>
<rect x="171.97" y="172.60" width="9.13" height="4.30" fill="#fef9f9" shape-rendering="crispEdges"/>
<rect x="181.05" y="172.60" width="9.13" height="4.30" fill="#e06b71" shape-rendering="crispEdges"/>
<rect x="190.13" y="172.60" width="9.13" height="4.30" fill="#e6868b" shape-rendering="crispEdges"/>
<rect x="199.22" y="172.60" width="9.13" height="4.30" fill="#e78f94" shape-rendering="crispEdges"/>
<rect x="39.50" y="176.85" width="9.18" height="4.30" fill="#5c71c3" shape-rendering="crispEdges"/>
<rect x="48.63" y="176.85" width="9.18" height="4.30" fill="#6478c6" shape-rendering="crispEdges"/>
<rect x="57.77" y="176.85" width="9.18" height="4.30" fill="#697cc8" shape-rendering="crispEdges"/>
<rect x="66.90" y="176.85" width="9.18" height="4.30" fill="#6f81ca" shape-rendering="crispEdges"/>
<rect x="76.03" y="176.85" width="9.18" height="4.30" fill="#7485cc" shape-rendering="crispEdges"/>
<rect x="85.17" y="176.85" width="9.18" height="4.30" fill="#94a2d8" shape-rendering="crispEdges"/>
<rect x="96.50" y="176.85" width="9.30" height="4.30" fill="#f8dfe0" shape-rendering="crispEdges"/>
<rect x="105.75" y="176.85" width="9.30" height="4.30" fill="#f3c4c6" shape-rendering="crispEdges"/>
<rect x="115.00" y="176.85" width="9.30" height="4.30" fill="#edacaf" shape-rendering="crispEdges"/>
<rect x="124.25" y="176.85" width="9.30" height="4.30" fill="#e78f93" shape-rendering="crispEdges"/>
<rect x="133.50" y="176.85" width="9.30" height="4.30" fill="#e17076" shape-rendering="crispEdges"/>
<rect x="142.75" y="176.85" width="9.30" height="4.30" fill="#eba2a6" shape-rendering="crispEdges"/>
<rect x="153.80" y="176.85" width="9.13" height="4.30" fill="#f6d6d8" shape-rendering="crispEdges"/>
<rect x="162.88" y="176.85" width="9.13" height="4.30" fill="#f8dddf" shape-rendering="crispEdges"/>
<rect x="171.97" y="176.85" width="9.13" height="4.30" fill="#f7d8da" shape-rendering="crispEdges"/>
<rect x="181.05" y="176.85" width="9.13" height="4.30" fill="#e89296" shape-rendering="crispEdges"/>
<rect x="190.13" y="176.85" width="9.13" height="4.30" fill="#e06d73" shape-rendering="crispEdges"/>
<rect x="199.22" y="176.85" width="9.13" height="4.30" fill="#f3c6c9" shape-rendering="crispEdges"/>
<rect x="39.50" y="181.09" width="9.18" height="4.30" fill="#5e73c4" shape-rendering="crispEdges"/>
<rect x="48.63" y="181.09" width="9.18" height="4.30" fill="#4e65be" shape-rendering="crispEdges"/>
<rect x="57.77" y="181.09" width="9.18" height="4.30" fill="#6074c5" shape-rendering="crispEdges"/>
<rect x="66.90" y="181.09" width="9.18" height="4.30" fill="#5f73c4" shape-rendering="crispEdges"/>
<rect x="76.03" y="181.09" width="9.18" height="4.30" fill="#6f81ca" shape-rendering="crispEdges"/>
<rect x="85.17" y="181.09" width="9.18" height="4.30" fill="#7283cb" shape-rendering="crispEdges"/>
<rect x="96.50" y="181.09" width="9.30" height="4.30" fill="#fcfdfe" shape-rendering="crispEdges"/>
<rect x="105.75" y="181.09" width="9.30" height="4.30" fill="#f9e2e3" shape-rendering="crispEdges"/>
<rect x="115.00" y="181.09" width="9.30" height="4.30" fill="#fdf6f6" shape-rendering="crispEdges"/>
<rect x="124.25" y="181.09" width="9.30" height="4.30" fill="#e6898e" shape-rendering="crispEdges"/>
<rect x="133.50" y="181.09" width="9.30" height="4.30" fill="#e17177" shape-rendering="crispEdges"/>
<rect x="142.75" y="181.09" width="9.30" height="4.30" fill="#db575e" shape-rendering="crispEdges"/>
<rect x="153.80" y="181.09" width="9.13" height="4.30" fill="#f5cfd1" shape-rendering="crispEdges"/>
<rect x="162.88" y="181.09" width="9.13" height="4.30" fill="#f3c6c9" shape-rendering="crispEdges"/>
<rect x="171.97" y="181.09" width="9.13" height="4.30" fill="#eeb0b3" shape-rendering="crispEdges"/>
<rect x="181.05" y="181.09" width="9.13" height="4.30" fill="#e58287" shape-rendering="crispEdges"/>
<rect x="190.13" y="181.09" width="9.13" height="4.30" fill="#eeafb3" shape-rendering="crispEdges"/>
<rect x="199.22" y="181.09" width="9.13" height="4.30" fill="#d74149" shape-rendering="crispEdges"/>
<rect x="39.50" y="185.34" width="9.18" height="4.30" fill="#687bc8" shape-rendering="crispEdges"/>
<rect x="48.63" y="185.34" width="9.18" height="4.30" fill="#6276c6" shape-rendering="crispEdges"/>
<rect x="57.77" y="185.34" width="9.18" height="4.30" fill="#6b7dc9" shape-rendering="crispEdges"/>
<rect x="66.90" y="185.34" width="9.18" height="4.30" fill="#6c7fc9" shape-rendering="crispEdges"/>
<rect x="76.03" y="185.34" width="9.18" height="4.30" fill="#465dbb" shape-rendering="crispEdges"/>
<rect x="85.17" y="185.34" width="9.18" height="4.30" fill="#465dbb" shape-rendering="crispEdges"/>
<rect x="96.50" y="185.34" width="9.30" height="4.30" fill="#fae5e6" shape-rendering="crispEdges"/>
<rect x="105.75" y="185.34" width="9.30" height="4.30" fill="#ebeef8" shape-rendering="crispEdges"/>
<rect x="115.00" y="185.34" width="9.30" height="4.30" fill="#fbebec" shape-rendering="crispEdges"/>
<rect x="124.25" y="185.34" width="9.30" height="4.30" fill="#e78c91" shape-rendering="crispEdges"/>
<rect x="133.50" y="185.34" width="9.30" height="4.30" fill="#e2757b" shape-rendering="crispEdges"/>
<rect x="142.75" y="185.34" width="9.30" height="4.30" fill="#e89297" shape-rendering="crispEdges"/>
<rect x="153.80" y="185.34" width="9.13" height="4.30" fill="#f8dfe0" shape-rendering="crispEdges"/>
<rect x="162.88" y="185.34" width="9.13" height="4.30" fill="#f6d2d4" shape-rendering="crispEdges"/>
<rect x="171.97" y="185.34" width="9.13" height="4.30" fill="#f4c9cc" shape-rendering="crispEdges"/>
<rect x="181.05" y="185.34" width="9.13" height="4.30" fill="#e6898e" shape-rendering="crispEdges"/>
<rect x="190.13" y="185.34" width="9.13" height="4.30" fill="#e2757b" shape-rendering="crispEdges"/>
<rect x="199.22" y="185.34" width="9.13" height="4.30" fill="#dd5f66" shape-rendering="crispEdges"/>
<rect x="39.50" y="189.58" width="9.18" height="4.30" fill="#5f73c4" shape-rendering="crispEdges"/>
<rect x="48.63" y="189.58" width="9.18" height="4.30" fill="#6478c6" shape-rendering="crispEdges"/>
<rect x="57.77" y="189.58" width="9.18" height="4.30" fill="#687bc8" shape-rendering="crispEdges"/>
<rect x="66.90" y="189.58" width="9.18" height="4.30" fill="#7485cc" shape-rendering="crispEdges"/>
<rect x="76.03" y="189.58" width="9.18" height="4.30" fill="#96a3d9" shape-rendering="crispEdges"/>
<rect x="85.17" y="189.58" width="9.18" height="4.30" fill="#8d9bd5" shape-rendering="crispEdges"/>
<rect x="96.50" y="189.58" width="9.30" height="4.30" fill="#e1e5f4" shape-rendering="crispEdges"/>
<rect x="105.75" y="189.58" width="9.30" height="4.30" fill="#fbebec" shape-rendering="crispEdges"/>
<rect x="115.00" y="189.58" width="9.30" height="4.30" fill="#f6d4d6" shape-rendering="crispEdges"/>
<rect x="124.25" y="189.58" width="9.30" height="4.30" fill="#f2c0c3" shape-rendering="crispEdges"/>
<rect x="133.50" y="189.58" width="9.30" height="4.30" fill="#e37c81" shape-rendering="crispEdges"/>
<rect x="142.75" y="189.58" width="9.30" height="4.30" fill="#e78b90" shape-rendering="crispEdges"/>
<rect x="153.80" y="189.58" width="9.13" height="4.30" fill="#fffefe" shape-rendering="crispEdges"/>
<rect x="162.88" y="189.58" width="9.13" height="4.30" fill="#ffffff" shape-rendering="crispEdges"/>
<rect x="171.97" y="189.58" width="9.13" height="4.30" fill="#fae9ea" shape-rendering="crispEdges"/>
<rect x="181.05" y="189.58" width="9.13" height="4.30" fill="#de6168" shape-rendering="crispEdges"/>
<rect x="190.13" y="189.58" width="9.13" height="4.30" fill="#d74149" shape-rendering="crispEdges"/>
<rect x="199.22" y="189.58" width="9.13" height="4.30" fill="#df666d" shape-rendering="crispEdges"/>
<rect x="39.50" y="193.83" width="9.18" height="4.30" fill="#596ec2" shape-rendering="crispEdges"/>
<rect x="48.63" y="193.83" width="9.18" height="4.30" fill="#5c70c3" shape-rendering="crispEdges"/>
<rect x="57.77" y="193.83" width="9.18" height="4.30" fill="#6377c6" shape-rendering="crispEdges"/>
<rect x="66.90" y="193.83" width="9.18" height="4.30" fill="#7b8ccf" shape-rendering="crispEdges"/>
<rect x="76.03" y="193.83" width="9.18" height="4.30" fill="#7283cb" shape-rendering="crispEdges"/>
<rect x="85.17" y="193.83" width="9.18" height="4.30" fill="#7385cc" shape-rendering="crispEdges"/>
<rect x="96.50" y="193.83" width="9.30" height="4.30" fill="#fae7e8" shape-rendering="crispEdges"/>
<rect x="105.75" y="193.83" width="9.30" height="4.30" fill="#f2c3c6" shape-rendering="crispEdges"/>
<rect x="115.00" y="193.83" width="9.30" height="4.30" fill="#fcf0f0" shape-rendering="crispEdges"/>
<rect x="124.25" y="193.83" width="9.30" height="4.30" fill="#e2757b" shape-rendering="crispEdges"/>
<rect x="133.50" y="193.83" width="9.30" height="4.30" fill="#da5158" shape-rendering="crispEdges"/>
<rect x="142.75" y="193.83" width="9.30" height="4.30" fill="#df666c" shape-rendering="crispEdges"/>
<rect x="153.80" y="193.83" width="9.13" height="4.30" fill="#f7d9db" shape-rendering="crispEdges"/>
<rect x="162.88" y="193.83" width="9.13" height="4.30" fill="#f9e1e2" shape-rendering="crispEdges"/>
<rect x="171.97" y="193.83" width="9.13" height="4.30" fill="#f7d9da" shape-rendering="crispEdges"/>
<rect x="181.05" y="193.83" width="9.13" height="4.30" fill="#e2757b" shape-rendering="crispEdges"/>
<rect x="190.13" y="193.83" width="9.13" height="4.30" fill="#e47d83" shape-rendering="crispEdges"/>
<rect x="199.22" y="193.83" width="9.13" height="4.30" fill="#edabae" shape-rendering="crispEdges"/>
<rect x="39.50" y="198.07" width="9.18" height="4.30" fill="#6679c7" shape-rendering="crispEdges"/>
<rect x="48.63" y="198.07" width="9.18" height="4.30" fill="#6a7dc8" shape-rendering="crispEdges"/>
<rect x="57.77" y="198.07" width="9.18" height="4.30" fill="#5b6fc3" shape-rendering="crispEdges"/>
<rect x="66.90" y="198.07" width="9.18" height="4.30" fill="#8090d0" shape-rendering="crispEdges"/>
<rect x="76.03" y="198.07" width="9.18" height="4.30" fill="#677ac7" shape-rendering="crispEdges"/>
<rect x="85.17" y="198.07" width="9.18" height="4.30" fill="#a3afdd" shape-rendering="crispEdges"/>
<rect x="96.50" y="198.07" width="9.30" height="4.30" fill="#fbfcfe" shape-rendering="crispEdges"/>
<rect x="105.75" y="198.07" width="9.30" height="4.30" fill="#f7d8da" shape-rendering="crispEdges"/>
<rect x="115.00" y="198.07" width="9.30" height="4.30" fill="#f8f9fc" shape-rendering="crispEdges"/>
<rect x="124.25" y="198.07" width="9.30" height="4.30" fill="#df656b" shape-rendering="crispEdges"/>
<rect x="133.50" y="198.07" width="9.30" height="4.30" fill="#d74149" shape-rendering="crispEdges"/>
<rect x="142.75" y="198.07" width="9.30" height="4.30" fill="#f1bbbd" shape-rendering="crispEdges"/>
<rect x="153.80" y="198.07" width="9.13" height="4.30" fill="#fbebec" shape-rendering="crispEdges"/>
<rect x="162.88" y="198.07" width="9.13" height="4.30" fill="#f6d3d5" shape-rendering="crispEdges"/>
<rect x="171.97" y="198.07" width="9.13" height="4.30" fill="#f9e2e3" shape-rendering="crispEdges"/>
<rect x="181.05" y="198.07" width="9.13" height="4.30" fill="#eb9fa3" shape-rendering="crispEdges"/>
<rect x="190.13" y="198.07" width="9.13" height="4.30" fill="#d94d54" shape-rendering="crispEdges"/>
<rect x="199.22" y="198.07" width="9.13" height="4.30" fill="#e6898e" shape-rendering="crispEdges"/>
<rect x="39.50" y="202.32" width="9.18" height="4.30" fill="#5e72c4" shape-rendering="crispEdges"/>
<rect x="48.63" y="202.32" width="9.18" height="4.30" fill="#556ac1" shape-rendering="crispEdges"/>
<rect x="57.77" y="202.32" width="9.18" height="4.30" fill="#4a61bd" shape-rendering="crispEdges"/>
<rect x="66.90" y="202.32" width="9.18" height="4.30" fill="#6175c5" shape-rendering="crispEdges"/>
<rect x="76.03" y="202.32" width="9.18" height="4.30" fill="#98a5d9" shape-rendering="crispEdges"/>
<rect x="85.17" y="202.32" width="9.18" height="4.30" fill="#8f9dd6" shape-rendering="crispEdges"/>
<rect x="96.50" y="202.32" width="9.30" height="4.30" fill="#e8ebf7" shape-rendering="crispEdges"/>
<rect x="105.75" y="202.32" width="9.30" height="4.30" fill="#fcefef" shape-rendering="crispEdges"/>
<rect x="115.00" y="202.32" width="9.30" height="4.30" fill="#fef8f8" shape-rendering="crispEdges"/>
<rect x="124.25" y="202.32" width="9.30" height="4.30" fill="#de6269" shape-rendering="crispEdges"/>
<rect x="133.50" y="202.32" width="9.30" height="4.30" fill="#eeacb0" shape-rendering="crispEdges"/>
<rect x="142.75" y="202.32" width="9.30" height="4.30" fill="#e37a80" shape-rendering="crispEdges"/>
<rect x="153.80" y="202.32" width="9.13" height="4.30" fill="#f5cfd1" shape-rendering="crispEdges"/>
<rect x="162.88" y="202.32" width="9.13" height="4.30" fill="#f6d3d5" shape-rendering="crispEdges"/>
<rect x="171.97" y="202.32" width="9.13" height="4.30" fill="#f5cfd1" shape-rendering="crispEdges"/>
<rect x="181.05" y="202.32" width="9.13" height="4.30" fill="#f3c8cb" shape-rendering="crispEdges"/>
<rect x="190.13" y="202.32" width="9.13" height="4.30" fill="#e37c81" shape-rendering="crispEdges"/>
<rect x="199.22" y="202.32" width="9.13" height="4.30" fill="#e17278" shape-rendering="crispEdges"/>
<rect x="39.50" y="206.56" width="9.18" height="4.30" fill="#7586cc" shape-rendering="crispEdges"/>
<rect x="48.63" y="206.56" width="9.18" height="4.30" fill="#6679c7" shape-rendering="crispEdges"/>
<rect x="57.77" y="206.56" width="9.18" height="4.30" fill="#6e80ca" shape-rendering="crispEdges"/>
<rect x="66.90" y="206.56" width="9.18" height="4.30" fill="#5e72c4" shape-rendering="crispEdges"/>
<rect x="76.03" y="206.56" width="9.18" height="4.30" fill="#6a7dc9" shape-rendering="crispEdges"/>
<rect x="85.17" y="206.56" width="9.18" height="4.30" fill="#5a6fc3" shape-rendering="crispEdges"/>
<rect x="96.50" y="206.56" width="9.30" height="4.30" fill="#eef0f9" shape-rendering="crispEdges"/>
<rect x="105.75" y="206.56" width="9.30" height="4.30" fill="#f5ced0" shape-rendering="crispEdges"/>
<rect x="115.00" y="206.56" width="9.30" height="4.30" fill="#f9e2e3" shape-rendering="crispEdges"/>
<rect x="124.25" y="206.56" width="9.30" height="4.30" fill="#e9969a" shape-rendering="crispEdges"/>
<rect x="133.50" y="206.56" width="9.30" height="4.30" fill="#e58388" shape-rendering="crispEdges"/>
<rect x="142.75" y="206.56" width="9.30" height="4.30" fill="#e16f75" shape-rendering="crispEdges"/>
<rect x="153.80" y="206.56" width="9.13" height="4.30" fill="#f9e3e4" shape-rendering="crispEdges"/>
<rect x="162.88" y="206.56" width="9.13" height="4.30" fill="#f4cccf" shape-rendering="crispEdges"/>
<rect x="171.97" y="206.56" width="9.13" height="4.30" fill="#f1bcbf" shape-rendering="crispEdges"/>
<rect x="181.05" y="206.56" width="9.13" height="4.30" fill="#e47e84" shape-rendering="crispEdges"/>
<rect x="190.13" y="206.56" width="9.13" height="4.30" fill="#e9979c" shape-rendering="crispEdges"/>
<rect x="199.22" y="206.56" width="9.13" height="4.30" fill="#f4cbcd" shape-rendering="crispEdges"/>
<rect x="39.50" y="210.81" width="9.18" height="4.30" fill="#5d71c4" shape-rendering="crispEdges"/>
<rect x="48.63" y="210.81" width="9.18" height="4.30" fill="#5f73c4" shape-rendering="crispEdges"/>
<rect x="57.77" y="210.81" width="9.18" height="4.30" fill="#6074c5" shape-rendering="crispEdges"/>
<rect x="66.90" y="210.81" width="9.18" height="4.30" fill="#6e80ca" shape-rendering="crispEdges"/>
<rect x="76.03" y="210.81" width="9.18" height="4.30" fill="#6477c6" shape-rendering="crispEdges"/>
<rect x="85.17" y="210.81" width="9.18" height="4.30" fill="#8695d3" shape-rendering="crispEdges"/>
<rect x="96.50" y="210.81" width="9.30" height="4.30" fill="#fafbfd" shape-rendering="crispEdges"/>
<rect x="105.75" y="210.81" width="9.30" height="4.30" fill="#f6d3d4" shape-rendering="crispEdges"/>
<rect x="115.00" y="210.81" width="9.30" height="4.30" fill="#fffdfd" shape-rendering="crispEdges"/>
<rect x="124.25" y="210.81" width="9.30" height="4.30" fill="#e5858a" shape-rendering="crispEdges"/>
<rect x="133.50" y="210.81" width="9.30" height="4.30" fill="#e06b71" shape-rendering="crispEdges"/>
<rect x="142.75" y="210.81" width="9.30" height="4.30" fill="#e6898e" shape-rendering="crispEdges"/>
<rect x="153.80" y="210.81" width="9.13" height="4.30" fill="#fae8e9" shape-rendering="crispEdges"/>
<rect x="162.88" y="210.81" width="9.13" height="4.30" fill="#f6d4d6" shape-rendering="crispEdges"/>
<rect x="171.97" y="210.81" width="9.13" height="4.30" fill="#f5d2d4" shape-rendering="crispEdges"/>
<rect x="181.05" y="210.81" width="9.13" height="4.30" fill="#f2c0c2" shape-rendering="crispEdges"/>
<rect x="190.13" y="210.81" width="9.13" height="4.30" fill="#eb9fa3" shape-rendering="crispEdges"/>
<rect x="199.22" y="210.81" width="9.13" height="4.30" fill="#e6888d" shape-rendering="crispEdges"/>
<rect x="39.50" y="215.05" width="9.18" height="4.30" fill="#596ec2" shape-rendering="crispEdges"/>
<rect x="48.63" y="215.05" width="9.18" height="4.30" fill="#5b6fc3" shape-rendering="crispEdges"/>
<rect x="57.77" y="215.05" width="9.18" height="4.30" fill="#596ec2" shape-rendering="crispEdges"/>
<rect x="66.90" y="215.05" width="9.18" height="4.30" fill="#7082cb" shape-rendering="crispEdges"/>
<rect x="76.03" y="215.05" width="9.18" height="4.30" fill="#7385cc" shape-rendering="crispEdges"/>
<rect x="85.17" y="215.05" width="9.18" height="4.30" fill="#566bc1" shape-rendering="crispEdges"/>
<rect x="96.50" y="215.05" width="9.30" height="4.30" fill="#f8dedf" shape-rendering="crispEdges"/>
<rect x="105.75" y="215.05" width="9.30" height="4.30" fill="#f6d6d8" shape-rendering="crispEdges"/>
<rect x="115.00" y="215.05" width="9.30" height="4.30" fill="#fceeef" shape-rendering="crispEdges"/>
<rect x="124.25" y="215.05" width="9.30" height="4.30" fill="#e37a80" shape-rendering="crispEdges"/>
<rect x="133.50" y="215.05" width="9.30" height="4.30" fill="#e06d73" shape-rendering="crispEdges"/>
<rect x="142.75" y="215.05" width="9.30" height="4.30" fill="#e47e83" shape-rendering="crispEdges"/>
<rect x="153.80" y="215.05" width="9.13" height="4.30" fill="#e89499" shape-rendering="crispEdges"/>
<rect x="162.88" y="215.05" width="9.13" height="4.30" fill="#f4f5fb" shape-rendering="crispEdges"/>
<rect x="171.97" y="215.05" width="9.13" height="4.30" fill="#f5ced1" shape-rendering="crispEdges"/>
<rect x="181.05" y="215.05" width="9.13" height="4.30" fill="#eeacb0" shape-rendering="crispEdges"/>
<rect x="190.13" y="215.05" width="9.13" height="4.30" fill="#dc5a61" shape-rendering="crispEdges"/>
<rect x="199.22" y="215.05" width="9.13" height="4.30" fill="#d22a33" shape-rendering="crispEdges"/>
<rect x="39.50" y="219.30" width="9.18" height="4.30" fill="#566bc1" shape-rendering="crispEdges"/>
<rect x="48.63" y="219.30" width="9.18" height="4.30" fill="#5268c0" shape-rendering="crispEdges"/>
<rect x="57.77" y="219.30" width="9.18" height="4.30" fill="#4f66bf" shape-rendering="crispEdges"/>
<rect x="66.90" y="219.30" width="9.18" height="4.30" fill="#6c7ec9" shape-rendering="crispEdges"/>
<rect x="76.03" y="219.30" width="9.18" height="4.30" fill="#8393d2" shape-rendering="crispEdges"/>
<rect x="85.17" y="219.30" width="9.18" height="4.30" fill="#6e80ca" shape-rendering="crispEdges"/>
<rect x="96.50" y="219.30" width="9.30" height="4.30" fill="#f6d4d6" shape-rendering="crispEdges"/>
<rect x="105.75" y="219.30" width="9.30" height="4.30" fill="#fae7e8" shape-rendering="crispEdges"/>
<rect x="115.00" y="219.30" width="9.30" height="4.30" fill="#eef0f9" shape-rendering="crispEdges"/>
<rect x="124.25" y="219.30" width="9.30" height="4.30" fill="#e78f94" shape-rendering="crispEdges"/>
<rect x="133.50" y="219.30" width="9.30" height="4.30" fill="#e6898e" shape-rendering="crispEdges"/>
<rect x="142.75" y="219.30" width="9.30" height="4.30" fill="#e37b81" shape-rendering="crispEdges"/>
<rect x="153.80" y="219.30" width="9.13" height="4.30" fill="#fae6e7" shape-rendering="crispEdges"/>
<rect x="162.88" y="219.30" width="9.13" height="4.30" fill="#f5d1d3" shape-rendering="crispEdges"/>
<rect x="171.97" y="219.30" width="9.13" height="4.30" fill="#f2c0c3" shape-rendering="crispEdges"/>
<rect x="181.05" y="219.30" width="9.13" height="4.30" fill="#eeb1b4" shape-rendering="crispEdges"/>
<rect x="190.13" y="219.30" width="9.13" height="4.30" fill="#e89195" shape-rendering="crispEdges"/>
<rect x="199.22" y="219.30" width="9.13" height="4.30" fill="#e37b80" shape-rendering="crispEdges"/>
<rect x="39.50" y="223.54" width="9.18" height="4.30" fill="#5469c0" shape-rendering="crispEdges"/>
<rect x="48.63" y="223.54" width="9.18" height="4.30" fill="#5369c0" shape-rendering="crispEdges"/>
<rect x="57.77" y="223.54" width="9.18" height="4.30" fill="#5f73c4" shape-rendering="crispEdges"/>
<rect x="66.90" y="223.54" width="9.18" height="4.30" fill="#4960bc" shape-rendering="crispEdges"/>
<rect x="76.03" y="223.54" width="9.18" height="4.30" fill="#465dbb" shape-rendering="crispEdges"/>
<rect x="85.17" y="223.54" width="9.18" height="4.30" fill="#475ebc" shape-rendering="crispEdges"/>
<rect x="96.50" y="223.54" width="9.30" height="4.30" fill="#e89498" shape-rendering="crispEdges"/>
<rect x="105.75" y="223.54" width="9.30" height="4.30" fill="#eba2a6" shape-rendering="crispEdges"/>
<rect x="115.00" y="223.54" width="9.30" height="4.30" fill="#f9e5e6" shape-rendering="crispEdges"/>
<rect x="124.25" y="223.54" width="9.30" height="4.30" fill="#e47e83" shape-rendering="crispEdges"/>
<rect x="133.50" y="223.54" width="9.30" height="4.30" fill="#df656c" shape-rendering="crispEdges"/>
<rect x="142.75" y="223.54" width="9.30" height="4.30" fill="#e47e84" shape-rendering="crispEdges"/>
<rect x="153.80" y="223.54" width="9.13" height="4.30" fill="#eda7ab" shape-rendering="crispEdges"/>
<rect x="162.88" y="223.54" width="9.13" height="4.30" fill="#f4cbcd" shape-rendering="crispEdges"/>
<rect x="171.97" y="223.54" width="9.13" height="4.30" fill="#f9e5e6" shape-rendering="crispEdges"/>
<rect x="181.05" y="223.54" width="9.13" height="4.30" fill="#d94c54" shape-rendering="crispEdges"/>
<rect x="190.13" y="223.54" width="9.13" height="4.30" fill="#e58388" shape-rendering="crispEdges"/>
<rect x="199.22" y="223.54" width="9.13" height="4.30" fill="#e06c72" shape-rendering="crispEdges"/>
<rect x="39.50" y="227.79" width="9.18" height="4.30" fill="#5469c0" shape-rendering="crispEdges"/>
<rect x="48.63" y="227.79" width="9.18" height="4.30" fill="#586dc2" shape-rendering="crispEdges"/>
<rect x="57.77" y="227.79" width="9.18" height="4.30" fill="#5d72c4" shape-rendering="crispEdges"/>
<rect x="66.90" y="227.79" width="9.18" height="4.30" fill="#7284cb" shape-rendering="crispEdges"/>
<rect x="76.03" y="227.79" width="9.18" height="4.30" fill="#7b8ccf" shape-rendering="crispEdges"/>
<rect x="85.17" y="227.79" width="9.18" height="4.30" fill="#7385cc" shape-rendering="crispEdges"/>
<rect x="96.50" y="227.79" width="9.30" height="4.30" fill="#fcf2f2" shape-rendering="crispEdges"/>
<rect x="105.75" y="227.79" width="9.30" height="4.30" fill="#fcf0f0" shape-rendering="crispEdges"/>
<rect x="115.00" y="227.79" width="9.30" height="4.30" fill="#edf0f9" shape-rendering="crispEdges"/>
<rect x="124.25" y="227.79" width="9.30" height="4.30" fill="#ea9a9e" shape-rendering="crispEdges"/>
<rect x="133.50" y="227.79" width="9.30" height="4.30" fill="#e6898e" shape-rendering="crispEdges"/>
<rect x="142.75" y="227.79" width="9.30" height="4.30" fill="#e6888d" shape-rendering="crispEdges"/>
<rect x="153.80" y="227.79" width="9.13" height="4.30" fill="#fdfefe" shape-rendering="crispEdges"/>
<rect x="162.88" y="227.79" width="9.13" height="4.30" fill="#fcfdfe" shape-rendering="crispEdges"/>
<rect x="171.97" y="227.79" width="9.13" height="4.30" fill="#fae6e7" shape-rendering="crispEdges"/>
<rect x="181.05" y="227.79" width="9.13" height="4.30" fill="#efb4b7" shape-rendering="crispEdges"/>
<rect x="190.13" y="227.79" width="9.13" height="4.30" fill="#eb9fa3" shape-rendering="crispEdges"/>
<rect x="199.22" y="227.79" width="9.13" height="4.30" fill="#eca3a7" shape-rendering="crispEdges"/>
<rect x="39.50" y="232.03" width="9.18" height="4.30" fill="#6a7dc9" shape-rendering="crispEdges"/>
<rect x="48.63" y="232.03" width="9.18" height="4.30" fill="#6c7fc9" shape-rendering="crispEdges"/>
<rect x="57.77" y="232.03" width="9.18" height="4.30" fill="#5f73c4" shape-rendering="crispEdges"/>
<rect x="66.90" y="232.03" width="9.18" height="4.30" fill="#92a0d7" shape-rendering="crispEdges"/>
<rect x="76.03" y="232.03" width="9.18" height="4.30" fill="#9eaadb" shape-rendering="crispEdges"/>
<rect x="85.17" y="232.03" width="9.18" height="4.30" fill="#97a4d9" shape-rendering="crispEdges"/>
<rect x="96.50" y="232.03" width="9.30" height="4.30" fill="#f5d0d2" shape-rendering="crispEdges"/>
<rect x="105.75" y="232.03" width="9.30" height="4.30" fill="#f1f3fa" shape-rendering="crispEdges"/>
<rect x="115.00" y="232.03" width="9.30" height="4.30" fill="#ffffff" shape-rendering="crispEdges"/>
<rect x="124.25" y="232.03" width="9.30" height="4.30" fill="#e58489" shape-rendering="crispEdges"/>
<rect x="133.50" y="232.03" width="9.30" height="4.30" fill="#e06b71" shape-rendering="crispEdges"/>
<rect x="142.75" y="232.03" width="9.30" height="4.30" fill="#e78d92" shape-rendering="crispEdges"/>
<rect x="153.80" y="232.03" width="9.13" height="4.30" fill="#fefeff" shape-rendering="crispEdges"/>
<rect x="162.88" y="232.03" width="9.13" height="4.30" fill="#fcf3f4" shape-rendering="crispEdges"/>
<rect x="171.97" y="232.03" width="9.13" height="4.30" fill="#fefbfb" shape-rendering="crispEdges"/>
<rect x="181.05" y="232.03" width="9.13" height="4.30" fill="#eeaeb2" shape-rendering="crispEdges"/>
<rect x="190.13" y="232.03" width="9.13" height="4.30" fill="#df6a70" shape-rendering="crispEdges"/>
<rect x="199.22" y="232.03" width="9.13" height="4.30" fill="#eda8ab" shape-rendering="crispEdges"/>
<rect x="39.50" y="236.28" width="9.18" height="4.30" fill="#6a7dc8" shape-rendering="crispEdges"/>
<rect x="48.63" y="236.28" width="9.18" height="4.30" fill="#6276c6" shape-rendering="crispEdges"/>
<rect x="57.77" y="236.28" width="9.18" height="4.30" fill="#677ac7" shape-rendering="crispEdges"/>
<rect x="66.90" y="236.28" width="9.18" height="4.30" fill="#96a3d8" shape-rendering="crispEdges"/>
<rect x="76.03" y="236.28" width="9.18" height="4.30" fill="#9daadb" shape-rendering="crispEdges"/>
<rect x="85.17" y="236.28" width="9.18" height="4.30" fill="#909ed6" shape-rendering="crispEdges"/>
<rect x="96.50" y="236.28" width="9.30" height="4.30" fill="#f2c2c5" shape-rendering="crispEdges"/>
<rect x="105.75" y="236.28" width="9.30" height="4.30" fill="#edacaf" shape-rendering="crispEdges"/>
<rect x="115.00" y="236.28" width="9.30" height="4.30" fill="#fcf2f2" shape-rendering="crispEdges"/>
<rect x="124.25" y="236.28" width="9.30" height="4.30" fill="#e58489" shape-rendering="crispEdges"/>
<rect x="133.50" y="236.28" width="9.30" height="4.30" fill="#e37c81" shape-rendering="crispEdges"/>
<rect x="142.75" y="236.28" width="9.30" height="4.30" fill="#e89195" shape-rendering="crispEdges"/>
<rect x="153.80" y="236.28" width="9.13" height="4.30" fill="#fbeeef" shape-rendering="crispEdges"/>
<rect x="162.88" y="236.28" width="9.13" height="4.30" fill="#f6d2d4" shape-rendering="crispEdges"/>
<rect x="171.97" y="236.28" width="9.13" height="4.30" fill="#efb3b6" shape-rendering="crispEdges"/>
<rect x="181.05" y="236.28" width="9.13" height="4.30" fill="#df696f" shape-rendering="crispEdges"/>
<rect x="190.13" y="236.28" width="9.13" height="4.30" fill="#e17177" shape-rendering="crispEdges"/>
<rect x="199.22" y="236.28" width="9.13" height="4.30" fill="#eda8ac" shape-rendering="crispEdges"/>
<rect x="39.50" y="240.52" width="9.18" height="4.30" fill="#e89196" shape-rendering="crispEdges"/>
<rect x="48.63" y="240.52" width="9.18" height="4.30" fill="#e58388" shape-rendering="crispEdges"/>
<rect x="57.77" y="240.52" width="9.18" height="4.30" fill="#e89297" shape-rendering="crispEdges"/>
<rect x="66.90" y="240.52" width="9.18" height="4.30" fill="#d01f29" shape-rendering="crispEdges"/>
<rect x="76.03" y="240.52" width="9.18" height="4.30" fill="#d33039" shape-rendering="crispEdges"/>
<rect x="85.17" y="240.52" width="9.18" height="4.30" fill="#cd121c" shape-rendering="crispEdges"/>
<rect x="96.50" y="240.52" width="9.30" height="4.30" fill="#abb6e0" shape-rendering="crispEdges"/>
<rect x="105.75" y="240.52" width="9.30" height="4.30" fill="#95a3d8" shape-rendering="crispEdges"/>
<rect x="115.00" y="240.52" width="9.30" height="4.30" fill="#b4bee4" shape-rendering="crispEdges"/>
<rect x="124.25" y="240.52" width="9.30" height="4.30" fill="#92a0d7" shape-rendering="crispEdges"/>
<rect x="133.50" y="240.52" width="9.30" height="4.30" fill="#8d9cd5" shape-rendering="crispEdges"/>
<rect x="142.75" y="240.52" width="9.30" height="4.30" fill="#9aa6da" shape-rendering="crispEdges"/>
<rect x="153.80" y="240.52" width="9.13" height="4.30" fill="#d4daef" shape-rendering="crispEdges"/>
<rect x="162.88" y="240.52" width="9.13" height="4.30" fill="#b9c1e5" shape-rendering="crispEdges"/>
<rect x="171.97" y="240.52" width="9.13" height="4.30" fill="#ccd3ec" shape-rendering="crispEdges"/>
<rect x="181.05" y="240.52" width="9.13" height="4.30" fill="#c7ceeb" shape-rendering="crispEdges"/>
<rect x="190.13" y="240.52" width="9.13" height="4.30" fill="#b9c2e6" shape-rendering="crispEdges"/>
<rect x="199.22" y="240.52" width="9.13" height="4.30" fill="#aab4e0" shape-rendering="crispEdges"/>
<rect x="39.50" y="244.77" width="9.18" height="4.30" fill="#f3c6c8" shape-rendering="crispEdges"/>
<rect x="48.63" y="244.77" width="9.18" height="4.30" fill="#fae5e6" shape-rendering="crispEdges"/>
<rect x="57.77" y="244.77" width="9.18" height="4.30" fill="#eeadb1" shape-rendering="crispEdges"/>
<rect x="66.90" y="244.77" width="9.18" height="4.30" fill="#d32e37" shape-rendering="crispEdges"/>
<rect x="76.03" y="244.77" width="9.18" height="4.30" fill="#d1232d" shape-rendering="crispEdges"/>
<rect x="85.17" y="244.77" width="9.18" height="4.30" fill="#cd121c" shape-rendering="crispEdges"/>
<rect x="96.50" y="244.77" width="9.30" height="4.30" fill="#a4afde" shape-rendering="crispEdges"/>
<rect x="105.75" y="244.77" width="9.30" height="4.30" fill="#a2aedd" shape-rendering="crispEdges"/>
<rect x="115.00" y="244.77" width="9.30" height="4.30" fill="#9da9db" shape-rendering="crispEdges"/>
<rect x="124.25" y="244.77" width="9.30" height="4.30" fill="#8d9cd5" shape-rendering="crispEdges"/>
<rect x="133.50" y="244.77" width="9.30" height="4.30" fill="#97a4d9" shape-rendering="crispEdges"/>
<rect x="142.75" y="244.77" width="9.30" height="4.30" fill="#c1c9e8" shape-rendering="crispEdges"/>
<rect x="153.80" y="244.77" width="9.13" height="4.30" fill="#c2cae9" shape-rendering="crispEdges"/>
<rect x="162.88" y="244.77" width="9.13" height="4.30" fill="#abb6e0" shape-rendering="crispEdges"/>
<rect x="171.97" y="244.77" width="9.13" height="4.30" fill="#b2bce3" shape-rendering="crispEdges"/>
<rect x="181.05" y="244.77" width="9.13" height="4.30" fill="#a6b1de" shape-rendering="crispEdges"/>
<rect x="190.13" y="244.77" width="9.13" height="4.30" fill="#8b9ad5" shape-rendering="crispEdges"/>
<rect x="199.22" y="244.77" width="9.13" height="4.30" fill="#93a1d7" shape-rendering="crispEdges"/>
<rect x="39.50" y="249.01" width="9.18" height="4.30" fill="#e47e83" shape-rendering="crispEdges"/>
<rect x="48.63" y="249.01" width="9.18" height="4.30" fill="#e78b90" shape-rendering="crispEdges"/>
<rect x="57.77" y="249.01" width="9.18" height="4.30" fill="#f4cbcd" shape-rendering="crispEdges"/>
<rect x="66.90" y="249.01" width="9.18" height="4.30" fill="#cd121c" shape-rendering="crispEdges"/>
<rect x="76.03" y="249.01" width="9.18" height="4.30" fill="#cd121c" shape-rendering="crispEdges"/>
<rect x="85.17" y="249.01" width="9.18" height="4.30" fill="#ce151f" shape-rendering="crispEdges"/>
<rect x="96.50" y="249.01" width="9.30" height="4.30" fill="#cad1ec" shape-rendering="crispEdges"/>
<rect x="105.75" y="249.01" width="9.30" height="4.30" fill="#bac3e6" shape-rendering="crispEdges"/>
<rect x="115.00" y="249.01" width="9.30" height="4.30" fill="#c9d0eb" shape-rendering="crispEdges"/>
<rect x="124.25" y="249.01" width="9.30" height="4.30" fill="#a2addd" shape-rendering="crispEdges"/>
<rect x="133.50" y="249.01" width="9.30" height="4.30" fill="#d6dbf0" shape-rendering="crispEdges"/>
<rect x="142.75" y="249.01" width="9.30" height="4.30" fill="#c9d0eb" shape-rendering="crispEdges"/>
<rect x="153.80" y="249.01" width="9.13" height="4.30" fill="#bbc4e6" shape-rendering="crispEdges"/>
<rect x="162.88" y="249.01" width="9.13" height="4.30" fill="#eceff8" shape-rendering="crispEdges"/>
<rect x="171.97" y="249.01" width="9.13" height="4.30" fill="#e3e6f5" shape-rendering="crispEdges"/>
<rect x="181.05" y="249.01" width="9.13" height="4.30" fill="#9aa7da" shape-rendering="crispEdges"/>
<rect x="190.13" y="249.01" width="9.13" height="4.30" fill="#e1e5f4" shape-rendering="crispEdges"/>
<rect x="199.22" y="249.01" width="9.13" height="4.30" fill="#ced4ed" shape-rendering="crispEdges"/>
<rect x="39.50" y="253.26" width="9.18" height="4.30" fill="#df6970" shape-rendering="crispEdges"/>
<rect x="48.63" y="253.26" width="9.18" height="4.30" fill="#f3c6c9" shape-rendering="crispEdges"/>
<rect x="57.77" y="253.26" width="9.18" height="4.30" fill="#f1bdc0" shape-rendering="crispEdges"/>
<rect x="66.90" y="253.26" width="9.18" height="4.30" fill="#d8464e" shape-rendering="crispEdges"/>
<rect x="76.03" y="253.26" width="9.18" height="4.30" fill="#d53a42" shape-rendering="crispEdges"/>
<rect x="85.17" y="253.26" width="9.18" height="4.30" fill="#d63b43" shape-rendering="crispEdges"/>
<rect x="96.50" y="253.26" width="9.30" height="4.30" fill="#c7ceea" shape-rendering="crispEdges"/>
<rect x="105.75" y="253.26" width="9.30" height="4.30" fill="#c5ccea" shape-rendering="crispEdges"/>
<rect x="115.00" y="253.26" width="9.30" height="4.30" fill="#c0c8e8" shape-rendering="crispEdges"/>
<rect x="124.25" y="253.26" width="9.30" height="4.30" fill="#a9b4e0" shape-rendering="crispEdges"/>
<rect x="133.50" y="253.26" width="9.30" height="4.30" fill="#aeb8e1" shape-rendering="crispEdges"/>
<rect x="142.75" y="253.26" width="9.30" height="4.30" fill="#c8cfeb" shape-rendering="crispEdges"/>
<rect x="153.80" y="253.26" width="9.13" height="4.30" fill="#e1e5f4" shape-rendering="crispEdges"/>
<rect x="162.88" y="253.26" width="9.13" height="4.30" fill="#d4daef" shape-rendering="crispEdges"/>
<rect x="171.97" y="253.26" width="9.13" height="4.30" fill="#ccd3ed" shape-rendering="crispEdges"/>
<rect x="181.05" y="253.26" width="9.13" height="4.30" fill="#dce0f2" shape-rendering="crispEdges"/>
<rect x="190.13" y="253.26" width="9.13" height="4.30" fill="#b3bde3" shape-rendering="crispEdges"/>
<rect x="199.22" y="253.26" width="9.13" height="4.30" fill="#cbd1ec" shape-rendering="crispEdges"/>
<rect x="39.50" y="257.50" width="9.18" height="4.30" fill="#f9e3e4" shape-rendering="crispEdges"/>
<rect x="48.63" y="257.50" width="9.18" height="4.30" fill="#e89095" shape-rendering="crispEdges"/>
<rect x="57.77" y="257.50" width="9.18" height="4.30" fill="#f4c9cc" shape-rendering="crispEdges"/>
<rect x="66.90" y="257.50" width="9.18" height="4.30" fill="#ce141e" shape-rendering="crispEdges"/>
<rect x="76.03" y="257.50" width="9.18" height="4.30" fill="#d4313a" shape-rendering="crispEdges"/>
<rect x="85.17" y="257.50" width="9.18" height="4.30" fill="#d22a33" shape-rendering="crispEdges"/>
<rect x="96.50" y="257.50" width="9.30" height="4.30" fill="#c9d0eb" shape-rendering="crispEdges"/>
<rect x="105.75" y="257.50" width="9.30" height="4.30" fill="#bdc6e7" shape-rendering="crispEdges"/>
<rect x="115.00" y="257.50" width="9.30" height="4.30" fill="#c9d0eb" shape-rendering="crispEdges"/>
<rect x="124.25" y="257.50" width="9.30" height="4.30" fill="#96a3d9" shape-rendering="crispEdges"/>
<rect x="133.50" y="257.50" width="9.30" height="4.30" fill="#adb7e1" shape-rendering="crispEdges"/>
<rect x="142.75" y="257.50" width="9.30" height="4.30" fill="#a0acdc" shape-rendering="crispEdges"/>
<rect x="153.80" y="257.50" width="9.13" height="4.30" fill="#e2e6f4" shape-rendering="crispEdges"/>
<rect x="162.88" y="257.50" width="9.13" height="4.30" fill="#aab5e0" shape-rendering="crispEdges"/>
<rect x="171.97" y="257.50" width="9.13" height="4.30" fill="#f4f5fb" shape-rendering="crispEdges"/>
<rect x="181.05" y="257.50" width="9.13" height="4.30" fill="#bfc7e8" shape-rendering="crispEdges"/>
<rect x="190.13" y="257.50" width="9.13" height="4.30" fill="#9daadb" shape-rendering="crispEdges"/>
<rect x="199.22" y="257.50" width="9.13" height="4.30" fill="#c1c9e8" shape-rendering="crispEdges"/>
<rect x="39.50" y="261.75" width="9.18" height="4.30" fill="#f2c1c3" shape-rendering="crispEdges"/>
<rect x="48.63" y="261.75" width="9.18" height="4.30" fill="#eca3a7" shape-rendering="crispEdges"/>
<rect x="57.77" y="261.75" width="9.18" height="4.30" fill="#f4c9cb" shape-rendering="crispEdges"/>
<rect x="66.90" y="261.75" width="9.18" height="4.30" fill="#d22932" shape-rendering="crispEdges"/>
<rect x="76.03" y="261.75" width="9.18" height="4.30" fill="#cd121c" shape-rendering="crispEdges"/>
<rect x="85.17" y="261.75" width="9.18" height="4.30" fill="#cd121c" shape-rendering="crispEdges"/>
<rect x="96.50" y="261.75" width="9.30" height="4.30" fill="#c6cdea" shape-rendering="crispEdges"/>
<rect x="105.75" y="261.75" width="9.30" height="4.30" fill="#b9c2e5" shape-rendering="crispEdges"/>
<rect x="115.00" y="261.75" width="9.30" height="4.30" fill="#9eaadb" shape-rendering="crispEdges"/>
<rect x="124.25" y="261.75" width="9.30" height="4.30" fill="#a7b2df" shape-rendering="crispEdges"/>
<rect x="133.50" y="261.75" width="9.30" height="4.30" fill="#bac3e6" shape-rendering="crispEdges"/>
<rect x="142.75" y="261.75" width="9.30" height="4.30" fill="#b9c2e6" shape-rendering="crispEdges"/>
<rect x="153.80" y="261.75" width="9.13" height="4.30" fill="#bec6e7" shape-rendering="crispEdges"/>
<rect x="162.88" y="261.75" width="9.13" height="4.30" fill="#d8ddf1" shape-rendering="crispEdges"/>
<rect x="171.97" y="261.75" width="9.13" height="4.30" fill="#d4d9ef" shape-rendering="crispEdges"/>
<rect x="181.05" y="261.75" width="9.13" height="4.30" fill="#d9def1" shape-rendering="crispEdges"/>
<rect x="190.13" y="261.75" width="9.13" height="4.30" fill="#e1e5f4" shape-rendering="crispEdges"/>
<rect x="199.22" y="261.75" width="9.13" height="4.30" fill="#dbe0f2" shape-rendering="crispEdges"/>
<rect x="39.50" y="265.99" width="9.18" height="4.30" fill="#de6168" shape-rendering="crispEdges"/>
<rect x="48.63" y="265.99" width="9.18" height="4.30" fill="#d5363e" shape-rendering="crispEdges"/>
<rect x="57.77" y="265.99" width="9.18" height="4.30" fill="#eeaeb1" shape-rendering="crispEdges"/>
<rect x="66.90" y="265.99" width="9.18" height="4.30" fill="#e9989c" shape-rendering="crispEdges"/>
<rect x="76.03" y="265.99" width="9.18" height="4.30" fill="#e5868b" shape-rendering="crispEdges"/>
<rect x="85.17" y="265.99" width="9.18" height="4.30" fill="#f5d1d3" shape-rendering="crispEdges"/>
<rect x="96.50" y="265.99" width="9.30" height="4.30" fill="#e8ebf7" shape-rendering="crispEdges"/>
<rect x="105.75" y="265.99" width="9.30" height="4.30" fill="#fefafa" shape-rendering="crispEdges"/>
<rect x="115.00" y="265.99" width="9.30" height="4.30" fill="#fcf1f2" shape-rendering="crispEdges"/>
<rect x="124.25" y="265.99" width="9.30" height="4.30" fill="#b0bae2" shape-rendering="crispEdges"/>
<rect x="133.50" y="265.99" width="9.30" height="4.30" fill="#7a8bce" shape-rendering="crispEdges"/>
<rect x="142.75" y="265.99" width="9.30" height="4.30" fill="#6e81ca" shape-rendering="crispEdges"/>
<rect x="153.80" y="265.99" width="9.13" height="4.30" fill="#f4f5fb" shape-rendering="crispEdges"/>
<rect x="162.88" y="265.99" width="9.13" height="4.30" fill="#fefeff" shape-rendering="crispEdges"/>
<rect x="171.97" y="265.99" width="9.13" height="4.30" fill="#ebeef8" shape-rendering="crispEdges"/>
<rect x="181.05" y="265.99" width="9.13" height="4.30" fill="#909ed6" shape-rendering="crispEdges"/>
<rect x="190.13" y="265.99" width="9.13" height="4.30" fill="#b8c1e5" shape-rendering="crispEdges"/>
<rect x="199.22" y="265.99" width="9.13" height="4.30" fill="#b8c1e5" shape-rendering="crispEdges"/>
<rect x="39.50" y="270.24" width="9.18" height="4.30" fill="#d94d54" shape-rendering="crispEdges"/>
<rect x="48.63" y="270.24" width="9.18" height="4.30" fill="#d8464e" shape-rendering="crispEdges"/>
<rect x="57.77" y="270.24" width="9.18" height="4.30" fill="#dc5a61" shape-rendering="crispEdges"/>
<rect x="66.90" y="270.24" width="9.18" height="4.30" fill="#e6898e" shape-rendering="crispEdges"/>
<rect x="76.03" y="270.24" width="9.18" height="4.30" fill="#f6d4d6" shape-rendering="crispEdges"/>
<rect x="85.17" y="270.24" width="9.18" height="4.30" fill="#f1bbbe" shape-rendering="crispEdges"/>
<rect x="96.50" y="270.24" width="9.30" height="4.30" fill="#e2e5f4" shape-rendering="crispEdges"/>
<rect x="105.75" y="270.24" width="9.30" height="4.30" fill="#f5f6fb" shape-rendering="crispEdges"/>
<rect x="115.00" y="270.24" width="9.30" height="4.30" fill="#fcf0f1" shape-rendering="crispEdges"/>
<rect x="124.25" y="270.24" width="9.30" height="4.30" fill="#a0acdc" shape-rendering="crispEdges"/>
<rect x="133.50" y="270.24" width="9.30" height="4.30" fill="#d3d9ef" shape-rendering="crispEdges"/>
<rect x="142.75" y="270.24" width="9.30" height="4.30" fill="#c7ceeb" shape-rendering="crispEdges"/>
<rect x="153.80" y="270.24" width="9.13" height="4.30" fill="#fcf0f0" shape-rendering="crispEdges"/>
<rect x="162.88" y="270.24" width="9.13" height="4.30" fill="#fdf6f6" shape-rendering="crispEdges"/>
<rect x="171.97" y="270.24" width="9.13" height="4.30" fill="#f6d3d5" shape-rendering="crispEdges"/>
<rect x="181.05" y="270.24" width="9.13" height="4.30" fill="#7788cd" shape-rendering="crispEdges"/>
<rect x="190.13" y="270.24" width="9.13" height="4.30" fill="#7889ce" shape-rendering="crispEdges"/>
<rect x="199.22" y="270.24" width="9.13" height="4.30" fill="#667ac7" shape-rendering="crispEdges"/>
<rect x="39.50" y="274.48" width="9.18" height="4.30" fill="#ea9ca0" shape-rendering="crispEdges"/>
<rect x="48.63" y="274.48" width="9.18" height="4.30" fill="#d33038" shape-rendering="crispEdges"/>
<rect x="57.77" y="274.48" width="9.18" height="4.30" fill="#e17076" shape-rendering="crispEdges"/>
<rect x="66.90" y="274.48" width="9.18" height="4.30" fill="#eda9ac" shape-rendering="crispEdges"/>
<rect x="76.03" y="274.48" width="9.18" height="4.30" fill="#e9979b" shape-rendering="crispEdges"/>
<rect x="85.17" y="274.48" width="9.18" height="4.30" fill="#ea9a9f" shape-rendering="crispEdges"/>
<rect x="96.50" y="274.48" width="9.30" height="4.30" fill="#ffffff" shape-rendering="crispEdges"/>
<rect x="105.75" y="274.48" width="9.30" height="4.30" fill="#fefafa" shape-rendering="crispEdges"/>
<rect x="115.00" y="274.48" width="9.30" height="4.30" fill="#ced4ed" shape-rendering="crispEdges"/>
<rect x="124.25" y="274.48" width="9.30" height="4.30" fill="#b4bde4" shape-rendering="crispEdges"/>
<rect x="133.50" y="274.48" width="9.30" height="4.30" fill="#b3bde3" shape-rendering="crispEdges"/>
<rect x="142.75" y="274.48" width="9.30" height="4.30" fill="#93a0d7" shape-rendering="crispEdges"/>
<rect x="153.80" y="274.48" width="9.13" height="4.30" fill="#dadef1" shape-rendering="crispEdges"/>
<rect x="162.88" y="274.48" width="9.13" height="4.30" fill="#eceff8" shape-rendering="crispEdges"/>
<rect x="171.97" y="274.48" width="9.13" height="4.30" fill="#eff1f9" shape-rendering="crispEdges"/>
<rect x="181.05" y="274.48" width="9.13" height="4.30" fill="#9daadb" shape-rendering="crispEdges"/>
<rect x="190.13" y="274.48" width="9.13" height="4.30" fill="#909ed6" shape-rendering="crispEdges"/>
<rect x="199.22" y="274.48" width="9.13" height="4.30" fill="#7183cb" shape-rendering="crispEdges"/>
<rect x="39.50" y="278.73" width="9.18" height="4.30" fill="#e47d83" shape-rendering="crispEdges"/>
<rect x="48.63" y="278.73" width="9.18" height="4.30" fill="#d32d36" shape-rendering="crispEdges"/>
<rect x="57.77" y="278.73" width="9.18" height="4.30" fill="#d74048" shape-rendering="crispEdges"/>
<rect x="66.90" y="278.73" width="9.18" height="4.30" fill="#f2c0c3" shape-rendering="crispEdges"/>
<rect x="76.03" y="278.73" width="9.18" height="4.30" fill="#f5ced0" shape-rendering="crispEdges"/>
<rect x="85.17" y="278.73" width="9.18" height="4.30" fill="#d7dcf0" shape-rendering="crispEdges"/>
<rect x="96.50" y="278.73" width="9.30" height="4.30" fill="#e7eaf6" shape-rendering="crispEdges"/>
<rect x="105.75" y="278.73" width="9.30" height="4.30" fill="#e6e9f6" shape-rendering="crispEdges"/>
<rect x="115.00" y="278.73" width="9.30" height="4.30" fill="#dde1f2" shape-rendering="crispEdges"/>
<rect x="124.25" y="278.73" width="9.30" height="4.30" fill="#909ed6" shape-rendering="crispEdges"/>
<rect x="133.50" y="278.73" width="9.30" height="4.30" fill="#7486cc" shape-rendering="crispEdges"/>
<rect x="142.75" y="278.73" width="9.30" height="4.30" fill="#7586cc" shape-rendering="crispEdges"/>
<rect x="153.80" y="278.73" width="9.13" height="4.30" fill="#dbe0f2" shape-rendering="crispEdges"/>
<rect x="162.88" y="278.73" width="9.13" height="4.30" fill="#c2cae9" shape-rendering="crispEdges"/>
<rect x="171.97" y="278.73" width="9.13" height="4.30" fill="#fef8f9" shape-rendering="crispEdges"/>
<rect x="181.05" y="278.73" width="9.13" height="4.30" fill="#a2addd" shape-rendering="crispEdges"/>
<rect x="190.13" y="278.73" width="9.13" height="4.30" fill="#8c9ad5" shape-rendering="crispEdges"/>
<rect x="199.22" y="278.73" width="9.13" height="4.30" fill="#7687cd" shape-rendering="crispEdges"/>
<rect x="39.50" y="282.97" width="9.18" height="4.30" fill="#d63b43" shape-rendering="crispEdges"/>
<rect x="48.63" y="282.97" width="9.18" height="4.30" fill="#da5159" shape-rendering="crispEdges"/>
<rect x="57.77" y="282.97" width="9.18" height="4.30" fill="#d63c44" shape-rendering="crispEdges"/>
<rect x="66.90" y="282.97" width="9.18" height="4.30" fill="#f2c0c3" shape-rendering="crispEdges"/>
<rect x="76.03" y="282.97" width="9.18" height="4.30" fill="#fbfcfe" shape-rendering="crispEdges"/>
<rect x="85.17" y="282.97" width="9.18" height="4.30" fill="#f9e3e4" shape-rendering="crispEdges"/>
<rect x="96.50" y="282.97" width="9.30" height="4.30" fill="#d8ddf1" shape-rendering="crispEdges"/>
<rect x="105.75" y="282.97" width="9.30" height="4.30" fill="#f5f6fb" shape-rendering="crispEdges"/>
<rect x="115.00" y="282.97" width="9.30" height="4.30" fill="#fef9f9" shape-rendering="crispEdges"/>
<rect x="124.25" y="282.97" width="9.30" height="4.30" fill="#8695d3" shape-rendering="crispEdges"/>
<rect x="133.50" y="282.97" width="9.30" height="4.30" fill="#7082cb" shape-rendering="crispEdges"/>
<rect x="142.75" y="282.97" width="9.30" height="4.30" fill="#bac3e6" shape-rendering="crispEdges"/>
<rect x="153.80" y="282.97" width="9.13" height="4.30" fill="#f7dbdd" shape-rendering="crispEdges"/>
<rect x="162.88" y="282.97" width="9.13" height="4.30" fill="#f1bbbe" shape-rendering="crispEdges"/>
<rect x="171.97" y="282.97" width="9.13" height="4.30" fill="#f3f5fb" shape-rendering="crispEdges"/>
<rect x="181.05" y="282.97" width="9.13" height="4.30" fill="#bec6e7" shape-rendering="crispEdges"/>
<rect x="190.13" y="282.97" width="9.13" height="4.30" fill="#d1d7ee" shape-rendering="crispEdges"/>
<rect x="199.22" y="282.97" width="9.13" height="4.30" fill="#d0d6ee" shape-rendering="crispEdges"/>
<rect x="39.50" y="287.22" width="9.18" height="4.30" fill="#d7434b" shape-rendering="crispEdges"/>
<rect x="48.63" y="287.22" width="9.18" height="4.30" fill="#d1252e" shape-rendering="crispEdges"/>
<rect x="57.77" y="287.22" width="9.18" height="4.30" fill="#d5363f" shape-rendering="crispEdges"/>
<rect x="66.90" y="287.22" width="9.18" height="4.30" fill="#f2c2c5" shape-rendering="crispEdges"/>
<rect x="76.03" y="287.22" width="9.18" height="4.30" fill="#f4cdcf" shape-rendering="crispEdges"/>
<rect x="85.17" y="287.22" width="9.18" height="4.30" fill="#eca5a9" shape-rendering="crispEdges"/>
<rect x="96.50" y="287.22" width="9.30" height="4.30" fill="#fafbfd" shape-rendering="crispEdges"/>
<rect x="105.75" y="287.22" width="9.30" height="4.30" fill="#d7dcf0" shape-rendering="crispEdges"/>
<rect x="115.00" y="287.22" width="9.30" height="4.30" fill="#e9ebf7" shape-rendering="crispEdges"/>
<rect x="124.25" y="287.22" width="9.30" height="4.30" fill="#d0d6ee" shape-rendering="crispEdges"/>
<rect x="133.50" y="287.22" width="9.30" height="4.30" fill="#9daadb" shape-rendering="crispEdges"/>
<rect x="142.75" y="287.22" width="9.30" height="4.30" fill="#b3bce3" shape-rendering="crispEdges"/>
<rect x="153.80" y="287.22" width="9.13" height="4.30" fill="#f2c1c4" shape-rendering="crispEdges"/>
<rect x="162.88" y="287.22" width="9.13" height="4.30" fill="#f2bfc2" shape-rendering="crispEdges"/>
<rect x="171.97" y="287.22" width="9.13" height="4.30" fill="#f6d5d6" shape-rendering="crispEdges"/>
<rect x="181.05" y="287.22" width="9.13" height="4.30" fill="#7d8dcf" shape-rendering="crispEdges"/>
<rect x="190.13" y="287.22" width="9.13" height="4.30" fill="#7e8ed0" shape-rendering="crispEdges"/>
<rect x="199.22" y="287.22" width="9.13" height="4.30" fill="#9aa7da" shape-rendering="crispEdges"/>
<rect x="39.50" y="291.46" width="9.18" height="4.30" fill="#d4353e" shape-rendering="crispEdges"/>
<rect x="48.63" y="291.46" width="9.18" height="4.30" fill="#d12730" shape-rendering="crispEdges"/>
<rect x="57.77" y="291.46" width="9.18" height="4.30" fill="#d33039" shape-rendering="crispEdges"/>
<rect x="66.90" y="291.46" width="9.18" height="4.30" fill="#eca7ab" shape-rendering="crispEdges"/>
<rect x="76.03" y="291.46" width="9.18" height="4.30" fill="#e9959a" shape-rendering="crispEdges"/>
<rect x="85.17" y="291.46" width="9.18" height="4.30" fill="#f1babd" shape-rendering="crispEdges"/>
<rect x="96.50" y="291.46" width="9.30" height="4.30" fill="#dfe3f3" shape-rendering="crispEdges"/>
<rect x="105.75" y="291.46" width="9.30" height="4.30" fill="#c7ceeb" shape-rendering="crispEdges"/>
<rect x="115.00" y="291.46" width="9.30" height="4.30" fill="#c9d0eb" shape-rendering="crispEdges"/>
<rect x="124.25" y="291.46" width="9.30" height="4.30" fill="#b7c0e5" shape-rendering="crispEdges"/>
<rect x="133.50" y="291.46" width="9.30" height="4.30" fill="#9fabdc" shape-rendering="crispEdges"/>
<rect x="142.75" y="291.46" width="9.30" height="4.30" fill="#b2bbe3" shape-rendering="crispEdges"/>
<rect x="153.80" y="291.46" width="9.13" height="4.30" fill="#f1bbbe" shape-rendering="crispEdges"/>
<rect x="162.88" y="291.46" width="9.13" height="4.30" fill="#fae9ea" shape-rendering="crispEdges"/>
<rect x="171.97" y="291.46" width="9.13" height="4.30" fill="#fbeeef" shape-rendering="crispEdges"/>
<rect x="181.05" y="291.46" width="9.13" height="4.30" fill="#8b99d4" shape-rendering="crispEdges"/>
<rect x="190.13" y="291.46" width="9.13" height="4.30" fill="#7687cd" shape-rendering="crispEdges"/>
<rect x="199.22" y="291.46" width="9.13" height="4.30" fill="#919fd7" shape-rendering="crispEdges"/>
<rect x="39.50" y="295.71" width="9.18" height="4.30" fill="#d0222b" shape-rendering="crispEdges"/>
<rect x="48.63" y="295.71" width="9.18" height="4.30" fill="#d4323a" shape-rendering="crispEdges"/>
<rect x="57.77" y="295.71" width="9.18" height="4.30" fill="#d1262f" shape-rendering="crispEdges"/>
<rect x="66.90" y="295.71" width="9.18" height="4.30" fill="#fae9ea" shape-rendering="crispEdges"/>
<rect x="76.03" y="295.71" width="9.18" height="4.30" fill="#edaaae" shape-rendering="crispEdges"/>
<rect x="85.17" y="295.71" width="9.18" height="4.30" fill="#eba3a6" shape-rendering="crispEdges"/>
<rect x="96.50" y="295.71" width="9.30" height="4.30" fill="#d8ddf1" shape-rendering="crispEdges"/>
<rect x="105.75" y="295.71" width="9.30" height="4.30" fill="#d8ddf1" shape-rendering="crispEdges"/>
<rect x="115.00" y="295.71" width="9.30" height="4.30" fill="#fbeaeb" shape-rendering="crispEdges"/>
<rect x="124.25" y="295.71" width="9.30" height="4.30" fill="#8f9dd6" shape-rendering="crispEdges"/>
<rect x="133.50" y="295.71" width="9.30" height="4.30" fill="#8292d1" shape-rendering="crispEdges"/>
<rect x="142.75" y="295.71" width="9.30" height="4.30" fill="#7d8ed0" shape-rendering="crispEdges"/>
<rect x="153.80" y="295.71" width="9.13" height="4.30" fill="#f3c7c9" shape-rendering="crispEdges"/>
<rect x="162.88" y="295.71" width="9.13" height="4.30" fill="#f4cacc" shape-rendering="crispEdges"/>
<rect x="171.97" y="295.71" width="9.13" height="4.30" fill="#f5cfd1" shape-rendering="crispEdges"/>
<rect x="181.05" y="295.71" width="9.13" height="4.30" fill="#a9b4e0" shape-rendering="crispEdges"/>
<rect x="190.13" y="295.71" width="9.13" height="4.30" fill="#8292d1" shape-rendering="crispEdges"/>
<rect x="199.22" y="295.71" width="9.13" height="4.30" fill="#919fd7" shape-rendering="crispEdges"/>
<rect x="39.50" y="299.95" width="9.18" height="4.30" fill="#d32d35" shape-rendering="crispEdges"/>
<rect x="48.63" y="299.95" width="9.18" height="4.30" fill="#d53841" shape-rendering="crispEdges"/>
<rect x="57.77" y="299.95" width="9.18" height="4.30" fill="#ce1721" shape-rendering="crispEdges"/>
<rect x="66.90" y="299.95" width="9.18" height="4.30" fill="#dde1f2" shape-rendering="crispEdges"/>
<rect x="76.03" y="299.95" width="9.18" height="4.30" fill="#f9e2e3" shape-rendering="crispEdges"/>
<rect x="85.17" y="299.95" width="9.18" height="4.30" fill="#f3c6c9" shape-rendering="crispEdges"/>
<rect x="96.50" y="299.95" width="9.30" height="4.30" fill="#d1d7ee" shape-rendering="crispEdges"/>
<rect x="105.75" y="299.95" width="9.30" height="4.30" fill="#eef0f9" shape-rendering="crispEdges"/>
<rect x="115.00" y="299.95" width="9.30" height="4.30" fill="#cad1ec" shape-rendering="crispEdges"/>
<rect x="124.25" y="299.95" width="9.30" height="4.30" fill="#c8cfeb" shape-rendering="crispEdges"/>
<rect x="133.50" y="299.95" width="9.30" height="4.30" fill="#a7b2df" shape-rendering="crispEdges"/>
<rect x="142.75" y="299.95" width="9.30" height="4.30" fill="#b1bbe2" shape-rendering="crispEdges"/>
<rect x="153.80" y="299.95" width="9.13" height="4.30" fill="#ebedf8" shape-rendering="crispEdges"/>
<rect x="162.88" y="299.95" width="9.13" height="4.30" fill="#f7f8fc" shape-rendering="crispEdges"/>
<rect x="171.97" y="299.95" width="9.13" height="4.30" fill="#e1e4f4" shape-rendering="crispEdges"/>
<rect x="181.05" y="299.95" width="9.13" height="4.30" fill="#8595d2" shape-rendering="crispEdges"/>
<rect x="190.13" y="299.95" width="9.13" height="4.30" fill="#7b8bcf" shape-rendering="crispEdges"/>
<rect x="199.22" y="299.95" width="9.13" height="4.30" fill="#8796d3" shape-rendering="crispEdges"/>
<text x="210.20" y="44.97" font-size="5.3" fill="#2a2a2a">GLI1</text>
<text x="210.20" y="49.22" font-size="5.3" fill="#2a2a2a">ULBP1</text>
<text x="210.20" y="53.46" font-size="5.3" fill="#2a2a2a">SESN2</text>
<text x="210.20" y="57.71" font-size="5.3" fill="#2a2a2a">ALDH1L2</text>
<text x="210.20" y="61.95" font-size="5.3" fill="#2a2a2a">SLC6A9</text>
<text x="210.20" y="66.20" font-size="5.3" fill="#2a2a2a">PTPN13</text>
<text x="210.20" y="70.44" font-size="5.3" fill="#2a2a2a">FYN</text>
<text x="210.20" y="74.69" font-size="5.3" fill="#2a2a2a">PRM1E</text>
<text x="210.20" y="78.93" font-size="5.3" fill="#2a2a2a">RP11-293M10.6</text>
<text x="210.20" y="83.18" font-size="5.3" fill="#2a2a2a">GYPC</text>
<text x="210.20" y="87.42" font-size="5.3" fill="#2a2a2a">CHAC1</text>
<text x="210.20" y="91.67" font-size="5.3" fill="#2a2a2a">ASNS2</text>
<text x="210.20" y="95.91" font-size="5.3" fill="#2a2a2a">ALOX5</text>
<text x="210.20" y="100.16" font-size="5.3" fill="#2a2a2a">CDKN1AL1</text>
<text x="210.20" y="104.40" font-size="5.3" fill="#2a2a2a">PLD1</text>
<text x="210.20" y="108.65" font-size="5.3" fill="#2a2a2a">STC2</text>
<text x="210.20" y="112.90" font-size="5.3" fill="#2a2a2a">SLC7A11</text>
<text x="210.20" y="117.14" font-size="5.3" fill="#2a2a2a">SLC3A2</text>
<text x="210.20" y="121.39" font-size="5.3" fill="#2a2a2a">PSAT1</text>
<text x="210.20" y="125.63" font-size="5.3" fill="#2a2a2a">SPRY2</text>
<text x="210.20" y="129.88" font-size="5.3" fill="#2a2a2a">SLC4A4</text>
<text x="210.20" y="134.12" font-size="5.3" fill="#2a2a2a">CARD11</text>
<text x="210.20" y="138.37" font-size="5.3" fill="#2a2a2a">FAM46A</text>
<text x="210.20" y="142.61" font-size="5.3" fill="#2a2a2a">FAM46B</text>
<text x="210.20" y="146.86" font-size="5.3" fill="#2a2a2a">GRIN</text>
<text x="210.20" y="151.10" font-size="5.3" fill="#2a2a2a">GFRA5</text>
<text x="210.20" y="155.35" font-size="5.3" fill="#2a2a2a">PHK</text>
<text x="210.20" y="159.59" font-size="5.3" fill="#2a2a2a">SPTB</text>
<text x="210.20" y="163.84" font-size="5.3" fill="#2a2a2a">SOCS2AS2</text>
<text x="210.20" y="168.08" font-size="5.3" fill="#2a2a2a">SLC6A12</text>
<text x="210.20" y="172.33" font-size="5.3" fill="#2a2a2a">CACM1</text>
<text x="210.20" y="176.57" font-size="5.3" fill="#2a2a2a">LPO</text>
<text x="210.20" y="180.82" font-size="5.3" fill="#2a2a2a">NLRP12</text>
<text x="210.20" y="185.06" font-size="5.3" fill="#2a2a2a">TRIB3</text>
<text x="210.20" y="189.31" font-size="5.3" fill="#2a2a2a">ASNS</text>
<text x="210.20" y="193.55" font-size="5.3" fill="#2a2a2a">SESN1</text>
<text x="210.20" y="197.80" font-size="5.3" fill="#2a2a2a">SLC7A5</text>
<text x="210.20" y="202.04" font-size="5.3" fill="#2a2a2a">PSAT1</text>
<text x="210.20" y="206.29" font-size="5.3" fill="#2a2a2a">RPS6KA2</text>
<text x="210.20" y="210.53" font-size="5.3" fill="#2a2a2a">ASS1P7</text>
<text x="210.20" y="214.78" font-size="5.3" fill="#2a2a2a">TTC39B</text>
<text x="210.20" y="219.02" font-size="5.3" fill="#2a2a2a">BATF3</text>
<text x="210.20" y="223.27" font-size="5.3" fill="#2a2a2a">CREB3</text>
<text x="210.20" y="227.51" font-size="5.3" fill="#2a2a2a">CTH</text>
<text x="210.20" y="231.76" font-size="5.3" fill="#2a2a2a">ASS1</text>
<text x="210.20" y="236.00" font-size="5.3" fill="#2a2a2a">PHGDH</text>
<text x="210.20" y="240.25" font-size="5.3" fill="#2a2a2a">XPOT</text>
<text x="210.20" y="244.50" font-size="5.3" fill="#2a2a2a">ATP6V1C2</text>
<text x="210.20" y="248.74" font-size="5.3" fill="#2a2a2a">TMEM45A</text>
<text x="210.20" y="252.99" font-size="5.3" fill="#2a2a2a">BLK</text>
<text x="210.20" y="257.23" font-size="5.3" fill="#2a2a2a">ABCA1</text>
<text x="210.20" y="261.48" font-size="5.3" fill="#2a2a2a">BCL6</text>
<text x="210.20" y="265.72" font-size="5.3" fill="#2a2a2a">SIGLEC1</text>
<text x="210.20" y="269.97" font-size="5.3" fill="#2a2a2a">TIMP1</text>
<text x="210.20" y="274.21" font-size="5.3" fill="#2a2a2a">RCM1</text>
<text x="210.20" y="278.46" font-size="5.3" fill="#2a2a2a">RP11-162O9.3</text>
<text x="210.20" y="282.70" font-size="5.3" fill="#2a2a2a">ADAMTS5</text>
<text x="210.20" y="286.95" font-size="5.3" fill="#2a2a2a">CLEC5A</text>
<text x="210.20" y="291.19" font-size="5.3" fill="#2a2a2a">FAM26F</text>
<text x="210.20" y="295.44" font-size="5.3" fill="#2a2a2a">AE000661.37</text>
<text x="210.20" y="299.68" font-size="5.3" fill="#2a2a2a">CTD-2231E14.8</text>
<text x="210.20" y="303.93" font-size="5.3" fill="#2a2a2a">TLR4</text>
<path d="M29.20 43.12L39.20 43.12M32.00 47.37L39.20 47.37M35.71 51.61L39.20 51.61M35.71 55.86L39.20 55.86M35.71 51.61L35.71 55.86M34.32 53.74L35.71 53.74M36.71 60.10L39.20 60.10M36.71 64.35L39.20 64.35M36.71 60.10L36.71 64.35M35.95 62.23L36.71 62.23M37.17 68.59L39.20 68.59M37.17 72.84L39.20 72.84M37.17 68.59L37.17 72.84M35.95 70.72L37.17 70.72M35.95 62.23L35.95 70.72M34.32 66.47L35.95 66.47M34.32 53.74L34.32 66.47M32.00 60.10L34.32 60.10M32.00 47.37L32.00 60.10M29.20 53.74L32.00 53.74M29.20 43.12L29.20 53.74M32.06 77.08L39.20 77.08M33.37 81.33L39.20 81.33M33.37 85.57L39.20 85.57M33.37 81.33L33.37 85.57M32.06 83.45L33.37 83.45M32.06 77.08L32.06 83.45M28.00 80.27L32.06 80.27M33.62 89.82L39.20 89.82M37.37 94.06L39.20 94.06M37.37 98.31L39.20 98.31M37.37 94.06L37.37 98.31M36.58 96.19L37.37 96.19M36.58 102.55L39.20 102.55M36.58 96.19L36.58 102.55M35.76 99.37L36.58 99.37M35.76 106.80L39.20 106.80M35.76 99.37L35.76 106.80M34.63 103.09L35.76 103.09M34.63 111.05L39.20 111.05M34.63 103.09L34.63 111.05M33.62 107.07L34.63 107.07M33.62 89.82L33.62 107.07M32.21 98.44L33.62 98.44M35.93 115.29L39.20 115.29M35.93 119.54L39.20 119.54M35.93 115.29L35.93 119.54M34.93 117.41L35.93 117.41M34.93 123.78L39.20 123.78M34.93 117.41L34.93 123.78M33.98 120.60L34.93 120.60M36.78 128.03L39.20 128.03M36.78 132.27L39.20 132.27M36.78 128.03L36.78 132.27M35.40 130.15L36.78 130.15M35.40 136.52L39.20 136.52M35.40 130.15L35.40 136.52M33.98 133.33L35.40 133.33M33.98 120.60L33.98 133.33M32.21 126.96L33.98 126.96M32.21 98.44L32.21 126.96M28.00 112.70L32.21 112.70M28.00 80.27L28.00 112.70M26.30 96.49L28.00 96.49M33.29 140.76L39.20 140.76M35.51 145.01L39.20 145.01M35.51 149.25L39.20 149.25M35.51 145.01L35.51 149.25M33.29 147.13L35.51 147.13M33.29 140.76L33.29 147.13M31.20 143.95L33.29 143.95M35.78 153.50L39.20 153.50M36.62 157.74L39.20 157.74M36.62 161.99L39.20 161.99M36.62 157.74L36.62 161.99M35.78 159.86L36.62 159.86M35.78 153.50L35.78 159.86M33.50 156.68L35.78 156.68M33.50 166.23L39.20 166.23M33.50 156.68L33.50 166.23M31.20 161.46L33.50 161.46M31.20 143.95L31.20 161.46M25.60 152.70L31.20 152.70M36.22 170.48L39.20 170.48M36.22 174.72L39.20 174.72M36.22 170.48L36.22 174.72M34.86 172.60L36.22 172.60M34.86 178.97L39.20 178.97M34.86 172.60L34.86 178.97M31.68 175.78L34.86 175.78M35.38 183.21L39.20 183.21M36.08 187.46L39.20 187.46M36.08 191.70L39.20 191.70M36.08 187.46L36.08 191.70M35.38 189.58L36.08 189.58M35.38 183.21L35.38 189.58M33.45 186.40L35.38 186.40M33.45 195.95L39.20 195.95M33.45 186.40L33.45 195.95M31.68 191.17L33.45 191.17M31.68 175.78L31.68 191.17M28.18 183.48L31.68 183.48M35.50 200.19L39.20 200.19M37.70 204.44L39.20 204.44M37.70 208.68L39.20 208.68M37.70 204.44L37.70 208.68M37.52 206.56L37.70 206.56M37.82 212.93L39.20 212.93M38.08 217.17L39.20 217.17M38.08 221.42L39.20 221.42M38.08 217.17L38.08 221.42M37.82 219.30L38.08 219.30M37.82 212.93L37.82 219.30M37.52 216.11L37.82 216.11M37.52 206.56L37.52 216.11M36.77 211.34L37.52 211.34M36.77 225.66L39.20 225.66M36.77 211.34L36.77 225.66M35.50 218.50L36.77 218.50M35.50 200.19L35.50 218.50M32.89 209.35L35.50 209.35M36.10 229.91L39.20 229.91M36.10 234.15L39.20 234.15M36.10 229.91L36.10 234.15M34.94 232.03L36.10 232.03M34.94 238.40L39.20 238.40M34.94 232.03L34.94 238.40M32.89 235.22L34.94 235.22M32.89 209.35L32.89 235.22M28.18 222.28L32.89 222.28M28.18 183.48L28.18 222.28M25.60 202.88L28.18 202.88M25.60 152.70L25.60 202.88M26.30 177.79L25.60 177.79M26.30 96.49L26.30 177.79M22.90 48.43L29.20 48.43M22.90 137.14L26.30 137.14M22.90 48.43L22.90 137.14M36.50 242.65L39.20 242.65M36.50 246.89L39.20 246.89M36.50 242.65L36.50 246.89M35.06 244.77L36.50 244.77M35.06 251.14L39.20 251.14M35.06 244.77L35.06 251.14M31.80 247.95L35.06 247.95M34.63 255.38L39.20 255.38M34.63 259.63L39.20 259.63M34.63 255.38L34.63 259.63M33.28 257.50L34.63 257.50M33.28 263.87L39.20 263.87M33.28 257.50L33.28 263.87M31.80 260.69L33.28 260.69M31.80 247.95L31.80 260.69M19.60 254.32L31.80 254.32M24.20 268.12L39.20 268.12M29.95 272.36L39.20 272.36M34.91 276.61L39.20 276.61M34.91 280.85L39.20 280.85M34.91 276.61L34.91 280.85M33.82 278.73L34.91 278.73M35.96 285.10L39.20 285.10M36.71 289.34L39.20 289.34M36.71 293.59L39.20 293.59M36.71 289.34L36.71 293.59M35.96 291.46L36.71 291.46M35.96 285.10L35.96 291.46M35.11 288.28L35.96 288.28M36.49 297.83L39.20 297.83M36.49 302.08L39.20 302.08M36.49 297.83L36.49 302.08M35.11 299.95L36.49 299.95M35.11 288.28L35.11 299.95M33.82 294.12L35.11 294.12M33.82 278.73L33.82 294.12M29.95 286.42L33.82 286.42M29.95 272.36L29.95 286.42M24.20 279.39L29.95 279.39M24.20 268.12L24.20 279.39M19.60 273.75L24.20 273.75M19.60 254.32L19.60 273.75M7.50 92.78L22.90 92.78M7.50 264.04L19.60 264.04M7.50 92.78L7.50 264.04" stroke="#231f20" stroke-width="0.6" fill="none"/>
<rect x="64.40" y="312.50" width="2.10" height="7.30" fill="#324cb4" shape-rendering="crispEdges"/>
<rect x="66.40" y="312.50" width="2.10" height="7.30" fill="#3952b6" shape-rendering="crispEdges"/>
<rect x="68.39" y="312.50" width="2.10" height="7.30" fill="#3f58b9" shape-rendering="crispEdges"/>
<rect x="70.39" y="312.50" width="2.10" height="7.30" fill="#465ebb" shape-rendering="crispEdges"/>
<rect x="72.39" y="312.50" width="2.10" height="7.30" fill="#4d64be" shape-rendering="crispEdges"/>
<rect x="74.38" y="312.50" width="2.10" height="7.30" fill="#546ac1" shape-rendering="crispEdges"/>
<rect x="76.38" y="312.50" width="2.10" height="7.30" fill="#5b70c3" shape-rendering="crispEdges"/>
<rect x="78.38" y="312.50" width="2.10" height="7.30" fill="#6276c6" shape-rendering="crispEdges"/>
<rect x="80.37" y="312.50" width="2.10" height="7.30" fill="#697cc8" shape-rendering="crispEdges"/>
<rect x="82.37" y="312.50" width="2.10" height="7.30" fill="#7082cb" shape-rendering="crispEdges"/>
<rect x="84.37" y="312.50" width="2.10" height="7.30" fill="#7788cd" shape-rendering="crispEdges"/>
<rect x="86.36" y="312.50" width="2.10" height="7.30" fill="#7e8ed0" shape-rendering="crispEdges"/>
<rect x="88.36" y="312.50" width="2.10" height="7.30" fill="#8595d2" shape-rendering="crispEdges"/>
<rect x="90.36" y="312.50" width="2.10" height="7.30" fill="#8c9bd5" shape-rendering="crispEdges"/>
<rect x="92.35" y="312.50" width="2.10" height="7.30" fill="#93a1d8" shape-rendering="crispEdges"/>
<rect x="94.35" y="312.50" width="2.10" height="7.30" fill="#9aa7da" shape-rendering="crispEdges"/>
<rect x="96.35" y="312.50" width="2.10" height="7.30" fill="#a1addd" shape-rendering="crispEdges"/>
<rect x="98.34" y="312.50" width="2.10" height="7.30" fill="#a8b3df" shape-rendering="crispEdges"/>
<rect x="100.34" y="312.50" width="2.10" height="7.30" fill="#afb9e2" shape-rendering="crispEdges"/>
<rect x="102.34" y="312.50" width="2.10" height="7.30" fill="#b6bfe4" shape-rendering="crispEdges"/>
<rect x="104.33" y="312.50" width="2.10" height="7.30" fill="#bdc5e7" shape-rendering="crispEdges"/>
<rect x="106.33" y="312.50" width="2.10" height="7.30" fill="#c4cbe9" shape-rendering="crispEdges"/>
<rect x="108.33" y="312.50" width="2.10" height="7.30" fill="#cbd1ec" shape-rendering="crispEdges"/>
<rect x="110.32" y="312.50" width="2.10" height="7.30" fill="#d2d7ee" shape-rendering="crispEdges"/>
<rect x="112.32" y="312.50" width="2.10" height="7.30" fill="#d9def1" shape-rendering="crispEdges"/>
<rect x="114.32" y="312.50" width="2.10" height="7.30" fill="#e0e4f4" shape-rendering="crispEdges"/>
<rect x="116.31" y="312.50" width="2.10" height="7.30" fill="#e7eaf6" shape-rendering="crispEdges"/>
<rect x="118.31" y="312.50" width="2.10" height="7.30" fill="#eef0f9" shape-rendering="crispEdges"/>
<rect x="120.31" y="312.50" width="2.10" height="7.30" fill="#f5f6fb" shape-rendering="crispEdges"/>
<rect x="122.30" y="312.50" width="2.10" height="7.30" fill="#fcfcfe" shape-rendering="crispEdges"/>
<rect x="124.30" y="312.50" width="2.10" height="7.30" fill="#fefbfb" shape-rendering="crispEdges"/>
<rect x="126.30" y="312.50" width="2.10" height="7.30" fill="#fcf3f3" shape-rendering="crispEdges"/>
<rect x="128.29" y="312.50" width="2.10" height="7.30" fill="#fbebec" shape-rendering="crispEdges"/>
<rect x="130.29" y="312.50" width="2.10" height="7.30" fill="#f9e3e4" shape-rendering="crispEdges"/>
<rect x="132.29" y="312.50" width="2.10" height="7.30" fill="#f7dbdc" shape-rendering="crispEdges"/>
<rect x="134.28" y="312.50" width="2.10" height="7.30" fill="#f6d3d5" shape-rendering="crispEdges"/>
<rect x="136.28" y="312.50" width="2.10" height="7.30" fill="#f4cbcd" shape-rendering="crispEdges"/>
<rect x="138.28" y="312.50" width="2.10" height="7.30" fill="#f2c3c5" shape-rendering="crispEdges"/>
<rect x="140.27" y="312.50" width="2.10" height="7.30" fill="#f1bbbd" shape-rendering="crispEdges"/>
<rect x="142.27" y="312.50" width="2.10" height="7.30" fill="#efb3b6" shape-rendering="crispEdges"/>
<rect x="144.27" y="312.50" width="2.10" height="7.30" fill="#edaaae" shape-rendering="crispEdges"/>
<rect x="146.26" y="312.50" width="2.10" height="7.30" fill="#eba2a6" shape-rendering="crispEdges"/>
<rect x="148.26" y="312.50" width="2.10" height="7.30" fill="#ea9a9f" shape-rendering="crispEdges"/>
<rect x="150.26" y="312.50" width="2.10" height="7.30" fill="#e89297" shape-rendering="crispEdges"/>
<rect x="152.25" y="312.50" width="2.10" height="7.30" fill="#e68a8f" shape-rendering="crispEdges"/>
<rect x="154.25" y="312.50" width="2.10" height="7.30" fill="#e58287" shape-rendering="crispEdges"/>
<rect x="156.25" y="312.50" width="2.10" height="7.30" fill="#e37a80" shape-rendering="crispEdges"/>
<rect x="158.24" y="312.50" width="2.10" height="7.30" fill="#e17278" shape-rendering="crispEdges"/>
<rect x="160.24" y="312.50" width="2.10" height="7.30" fill="#e06a70" shape-rendering="crispEdges"/>
<rect x="162.24" y="312.50" width="2.10" height="7.30" fill="#de6269" shape-rendering="crispEdges"/>
<rect x="164.23" y="312.50" width="2.10" height="7.30" fill="#dc5a61" shape-rendering="crispEdges"/>
<rect x="166.23" y="312.50" width="2.10" height="7.30" fill="#da5259" shape-rendering="crispEdges"/>
<rect x="168.23" y="312.50" width="2.10" height="7.30" fill="#d94a51" shape-rendering="crispEdges"/>
<rect x="170.22" y="312.50" width="2.10" height="7.30" fill="#d7424a" shape-rendering="crispEdges"/>
<rect x="172.22" y="312.50" width="2.10" height="7.30" fill="#d53a42" shape-rendering="crispEdges"/>
<rect x="174.22" y="312.50" width="2.10" height="7.30" fill="#d4323a" shape-rendering="crispEdges"/>
<rect x="176.21" y="312.50" width="2.10" height="7.30" fill="#d22a33" shape-rendering="crispEdges"/>
<rect x="178.21" y="312.50" width="2.10" height="7.30" fill="#d0222b" shape-rendering="crispEdges"/>
<rect x="180.21" y="312.50" width="2.10" height="7.30" fill="#cf1a23" shape-rendering="crispEdges"/>
<rect x="182.20" y="312.50" width="2.10" height="7.30" fill="#cd121c" shape-rendering="crispEdges"/>
<text x="79.20" y="330.00" font-size="8" text-anchor="middle">−2</text>
<text x="99.40" y="330.00" font-size="8" text-anchor="middle">−1</text>
<text x="123.70" y="330.00" font-size="8" text-anchor="middle">0</text>
<text x="146.00" y="330.00" font-size="8" text-anchor="middle">1</text>
<text x="166.00" y="330.00" font-size="8" text-anchor="middle">2</text>
<text x="265.40" y="9.80" font-size="11" font-weight="bold" fill="#000">B</text>
<text x="337.50" y="11.00" font-size="8" text-anchor="middle">KEGG pathway analysis</text>
<text x="337.70" y="21.80" font-size="8" text-anchor="middle">LFC &gt; 0.5 or LFC &lt; −0.5, FDR &lt; 0.05</text>
<line x1="273.70" y1="23.80" x2="497.00" y2="23.80" stroke="#231f20" stroke-width="0.9"/>
<text x="455.50" y="10.00" font-size="8" text-anchor="middle">Fold change</text>
<text x="409.10" y="20.00" font-size="8" text-anchor="middle">0</text>
<line x1="408.30" y1="23.80" x2="408.30" y2="21.80" stroke="#231f20" stroke-width="0.6"/>
<text x="432.60" y="20.00" font-size="8" text-anchor="middle">2.5</text>
<line x1="432.60" y1="23.80" x2="432.60" y2="21.80" stroke="#231f20" stroke-width="0.6"/>
<text x="456.90" y="20.00" font-size="8" text-anchor="middle">5.0</text>
<line x1="456.90" y1="23.80" x2="456.90" y2="21.80" stroke="#231f20" stroke-width="0.6"/>
<text x="481.20" y="20.00" font-size="8" text-anchor="middle">7.5</text>
<line x1="481.20" y1="23.80" x2="481.20" y2="21.80" stroke="#231f20" stroke-width="0.6"/>
<rect x="408.30" y="26.30" width="74.70" height="11.10" fill="#dc3a2e" stroke="#7d8a99" stroke-width="0.5"/>
<text x="404.00" y="33.95" font-size="8.1" text-anchor="end">Biosynthesis of amino acids</text>
<rect x="408.30" y="38.93" width="75.70" height="11.10" fill="#c9dcee" stroke="#7d8a99" stroke-width="0.5"/>
<text x="404.00" y="46.58" font-size="8.1" text-anchor="end">Glycine, serine, and threonine metabolism</text>
<rect x="408.30" y="51.57" width="34.20" height="11.10" fill="#7eaede" stroke="#7d8a99" stroke-width="0.5"/>
<text x="404.00" y="59.22" font-size="8.1" text-anchor="end">Phagosome</text>
<rect x="408.30" y="64.20" width="37.20" height="11.10" fill="#6f9fd4" stroke="#7d8a99" stroke-width="0.5"/>
<text x="404.00" y="71.85" font-size="8.1" text-anchor="end">Carbon metabolism</text>
<rect x="408.30" y="76.83" width="31.20" height="11.10" fill="#5a8bcc" stroke="#7d8a99" stroke-width="0.5"/>
<text x="404.00" y="84.48" font-size="8.1" text-anchor="end">mTOR signaling pathway</text>
<rect x="408.30" y="89.47" width="53.20" height="11.10" fill="#5d8ccd" stroke="#7d8a99" stroke-width="0.5"/>
<text x="404.00" y="97.12" font-size="8.1" text-anchor="end">Malaria</text>
<rect x="408.30" y="102.10" width="86.70" height="11.10" fill="#5f8fce" stroke="#7d8a99" stroke-width="0.5"/>
<text x="404.00" y="109.75" font-size="8.1" text-anchor="end">One carbon pool by folate</text>
<rect x="408.30" y="114.73" width="46.70" height="11.10" fill="#5585c8" stroke="#7d8a99" stroke-width="0.5"/>
<text x="404.00" y="122.38" font-size="8.1" text-anchor="end">Staphylococcus aureus infection</text>
<rect x="408.30" y="127.37" width="47.45" height="11.10" fill="#5b8acb" stroke="#7d8a99" stroke-width="0.5"/>
<text x="404.00" y="135.02" font-size="8.1" text-anchor="end">Legionellosis</text>
<rect x="408.30" y="140.00" width="39.70" height="11.10" fill="#3d6bbd" stroke="#7d8a99" stroke-width="0.5"/>
<text x="404.00" y="147.65" font-size="8.1" text-anchor="end">Acute myeloid leukemia</text>
<line x1="408.30" y1="23.80" x2="408.30" y2="152.50" stroke="#231f20" stroke-width="0.9"/>
<text x="493.00" y="60.90" font-size="8">−log <tspan font-style="italic">P</tspan></text>
<rect x="499.50" y="65.50" width="11.80" height="1.64" fill="#cd2627" shape-rendering="crispEdges"/>
<rect x="499.50" y="67.04" width="11.80" height="1.64" fill="#d73027" shape-rendering="crispEdges"/>
<rect x="499.50" y="68.58" width="11.80" height="1.64" fill="#dd3d2d" shape-rendering="crispEdges"/>
<rect x="499.50" y="70.11" width="11.80" height="1.64" fill="#e34932" shape-rendering="crispEdges"/>
<rect x="499.50" y="71.65" width="11.80" height="1.64" fill="#e95538" shape-rendering="crispEdges"/>
<rect x="499.50" y="73.19" width="11.80" height="1.64" fill="#ef623e" shape-rendering="crispEdges"/>
<rect x="499.50" y="74.72" width="11.80" height="1.64" fill="#f46e43" shape-rendering="crispEdges"/>
<rect x="499.50" y="76.26" width="11.80" height="1.64" fill="#f67b4a" shape-rendering="crispEdges"/>
<rect x="499.50" y="77.80" width="11.80" height="1.64" fill="#f88850" shape-rendering="crispEdges"/>
<rect x="499.50" y="79.34" width="11.80" height="1.64" fill="#fa9656" shape-rendering="crispEdges"/>
<rect x="499.50" y="80.88" width="11.80" height="1.64" fill="#fba35c" shape-rendering="crispEdges"/>
<rect x="499.50" y="82.41" width="11.80" height="1.64" fill="#fdaf62" shape-rendering="crispEdges"/>
<rect x="499.50" y="83.95" width="11.80" height="1.64" fill="#fdba6c" shape-rendering="crispEdges"/>
<rect x="499.50" y="85.49" width="11.80" height="1.64" fill="#fdc475" shape-rendering="crispEdges"/>
<rect x="499.50" y="87.03" width="11.80" height="1.64" fill="#fece7f" shape-rendering="crispEdges"/>
<rect x="499.50" y="88.56" width="11.80" height="1.64" fill="#fed888" shape-rendering="crispEdges"/>
<rect x="499.50" y="90.10" width="11.80" height="1.64" fill="#fee192" shape-rendering="crispEdges"/>
<rect x="499.50" y="91.64" width="11.80" height="1.64" fill="#fee89b" shape-rendering="crispEdges"/>
<rect x="499.50" y="93.17" width="11.80" height="1.64" fill="#feeea5" shape-rendering="crispEdges"/>
<rect x="499.50" y="94.71" width="11.80" height="1.64" fill="#fff4ae" shape-rendering="crispEdges"/>
<rect x="499.50" y="96.25" width="11.80" height="1.64" fill="#fffab8" shape-rendering="crispEdges"/>
<rect x="499.50" y="97.79" width="11.80" height="1.64" fill="#fdfec2" shape-rendering="crispEdges"/>
<rect x="499.50" y="99.33" width="11.80" height="1.64" fill="#f7fcce" shape-rendering="crispEdges"/>
<rect x="499.50" y="100.86" width="11.80" height="1.64" fill="#f1f9d9" shape-rendering="crispEdges"/>
<rect x="499.50" y="102.40" width="11.80" height="1.64" fill="#ebf7e5" shape-rendering="crispEdges"/>
<rect x="499.50" y="103.94" width="11.80" height="1.64" fill="#e4f5f0" shape-rendering="crispEdges"/>
<rect x="499.50" y="105.47" width="11.80" height="1.64" fill="#dcf1f7" shape-rendering="crispEdges"/>
<rect x="499.50" y="107.01" width="11.80" height="1.64" fill="#d2ecf4" shape-rendering="crispEdges"/>
<rect x="499.50" y="108.55" width="11.80" height="1.64" fill="#c7e7f1" shape-rendering="crispEdges"/>
<rect x="499.50" y="110.09" width="11.80" height="1.64" fill="#bce1ee" shape-rendering="crispEdges"/>
<rect x="499.50" y="111.62" width="11.80" height="1.64" fill="#b2dceb" shape-rendering="crispEdges"/>
<rect x="499.50" y="113.16" width="11.80" height="1.64" fill="#a7d6e7" shape-rendering="crispEdges"/>
<rect x="499.50" y="114.70" width="11.80" height="1.64" fill="#9ccde2" shape-rendering="crispEdges"/>
<rect x="499.50" y="116.24" width="11.80" height="1.64" fill="#90c4dd" shape-rendering="crispEdges"/>
<rect x="499.50" y="117.78" width="11.80" height="1.64" fill="#85bbd9" shape-rendering="crispEdges"/>
<rect x="499.50" y="119.31" width="11.80" height="1.64" fill="#7ab2d4" shape-rendering="crispEdges"/>
<rect x="499.50" y="120.85" width="11.80" height="1.64" fill="#70a8ce" shape-rendering="crispEdges"/>
<rect x="499.50" y="122.39" width="11.80" height="1.64" fill="#669dc8" shape-rendering="crispEdges"/>
<rect x="499.50" y="123.93" width="11.80" height="1.64" fill="#5d91c3" shape-rendering="crispEdges"/>
<rect x="499.50" y="125.46" width="11.80" height="1.64" fill="#5386bd" shape-rendering="crispEdges"/>
<text x="512.50" y="79.90" font-size="8">5</text>
<text x="512.50" y="92.40" font-size="8">4</text>
<text x="512.50" y="104.90" font-size="8">3</text>
<text x="512.50" y="116.70" font-size="8">2</text>
<text x="262.80" y="187.20" font-size="11" font-weight="bold" fill="#000">C</text>
<text x="348.80" y="181.40" font-size="8" text-anchor="middle">Activation Z-score</text>
<text x="348.80" y="191.40" font-size="8" text-anchor="middle">(sg<tspan font-style="italic">CLPB</tspan> #1)</text>
<text x="304.70" y="201.40" font-size="8" text-anchor="middle">0</text>
<line x1="304.40" y1="204.00" x2="304.40" y2="202.00" stroke="#231f20" stroke-width="0.6"/>
<text x="327.35" y="201.40" font-size="8" text-anchor="middle">1</text>
<line x1="327.05" y1="204.00" x2="327.05" y2="202.00" stroke="#231f20" stroke-width="0.6"/>
<text x="350.00" y="201.40" font-size="8" text-anchor="middle">2</text>
<line x1="349.70" y1="204.00" x2="349.70" y2="202.00" stroke="#231f20" stroke-width="0.6"/>
<text x="372.65" y="201.40" font-size="8" text-anchor="middle">3</text>
<line x1="372.35" y1="204.00" x2="372.35" y2="202.00" stroke="#231f20" stroke-width="0.6"/>
<line x1="304.40" y1="204.00" x2="384.50" y2="204.00" stroke="#231f20" stroke-width="0.9"/>
<rect x="304.40" y="207.60" width="78.90" height="10.40" fill="#d73027" stroke="#7d8a99" stroke-width="0.5"/>
<text x="301.30" y="215.70" font-size="8" text-anchor="end">ATF4</text>
<rect x="304.40" y="219.15" width="68.10" height="10.40" fill="#f69a5e" stroke="#7d8a99" stroke-width="0.5"/>
<text x="301.30" y="227.25" font-size="8" text-anchor="end">IRF7</text>
<rect x="304.40" y="230.70" width="46.00" height="10.40" fill="#f7a663" stroke="#7d8a99" stroke-width="0.5"/>
<text x="301.30" y="238.80" font-size="8" text-anchor="end">SPI1</text>
<rect x="304.40" y="242.25" width="67.30" height="10.40" fill="#edf0dc" stroke="#7d8a99" stroke-width="0.5"/>
<text x="301.30" y="250.35" font-size="8" text-anchor="end">IRF5</text>
<rect x="304.40" y="253.80" width="70.00" height="10.40" fill="#ddedf6" stroke="#7d8a99" stroke-width="0.5"/>
<text x="301.30" y="261.90" font-size="8" text-anchor="end">IRF1</text>
<rect x="304.40" y="265.35" width="61.40" height="10.40" fill="#abcbe6" stroke="#7d8a99" stroke-width="0.5"/>
<text x="301.30" y="273.45" font-size="8" text-anchor="end">IRF3</text>
<rect x="304.40" y="276.90" width="56.00" height="10.40" fill="#9cc2e2" stroke="#7d8a99" stroke-width="0.5"/>
<text x="301.30" y="285.00" font-size="8" text-anchor="end">STAT1</text>
<rect x="304.40" y="288.45" width="50.60" height="10.40" fill="#8ebbe0" stroke="#7d8a99" stroke-width="0.5"/>
<text x="301.30" y="296.55" font-size="8" text-anchor="end">POU2AF1</text>
<rect x="304.40" y="300.00" width="63.60" height="10.40" fill="#6fa2d5" stroke="#7d8a99" stroke-width="0.5"/>
<text x="301.30" y="308.10" font-size="8" text-anchor="end">BRCA1</text>
<rect x="304.40" y="311.55" width="51.40" height="10.40" fill="#5b8ecb" stroke="#7d8a99" stroke-width="0.5"/>
<text x="301.30" y="319.65" font-size="8" text-anchor="end">MYC</text>
<rect x="304.40" y="323.10" width="45.60" height="10.40" fill="#4c7dc3" stroke="#7d8a99" stroke-width="0.5"/>
<text x="301.30" y="331.20" font-size="8" text-anchor="end">MSC</text>
<rect x="304.40" y="334.65" width="50.60" height="10.40" fill="#4676bf" stroke="#7d8a99" stroke-width="0.5"/>
<text x="301.30" y="342.75" font-size="8" text-anchor="end">NFE2L2</text>
<line x1="304.40" y1="204.00" x2="304.40" y2="346.00" stroke="#231f20" stroke-width="0.9"/>
<text x="373.00" y="295.80" font-size="8">−log <tspan font-style="italic">P</tspan></text>
<rect x="382.00" y="298.90" width="8.80" height="1.17" fill="#d22b27" shape-rendering="crispEdges"/>
<rect x="382.00" y="299.96" width="8.80" height="1.17" fill="#da372a" shape-rendering="crispEdges"/>
<rect x="382.00" y="301.03" width="8.80" height="1.17" fill="#e04330" shape-rendering="crispEdges"/>
<rect x="382.00" y="302.09" width="8.80" height="1.17" fill="#e65035" shape-rendering="crispEdges"/>
<rect x="382.00" y="303.16" width="8.80" height="1.17" fill="#ec5c3b" shape-rendering="crispEdges"/>
<rect x="382.00" y="304.22" width="8.80" height="1.17" fill="#f26941" shape-rendering="crispEdges"/>
<rect x="382.00" y="305.29" width="8.80" height="1.17" fill="#f57647" shape-rendering="crispEdges"/>
<rect x="382.00" y="306.35" width="8.80" height="1.17" fill="#f7834d" shape-rendering="crispEdges"/>
<rect x="382.00" y="307.42" width="8.80" height="1.17" fill="#f99053" shape-rendering="crispEdges"/>
<rect x="382.00" y="308.48" width="8.80" height="1.17" fill="#fb9e59" shape-rendering="crispEdges"/>
<rect x="382.00" y="309.55" width="8.80" height="1.17" fill="#fdab60" shape-rendering="crispEdges"/>
<rect x="382.00" y="310.62" width="8.80" height="1.17" fill="#fdb668" shape-rendering="crispEdges"/>
<rect x="382.00" y="311.68" width="8.80" height="1.17" fill="#fdc072" shape-rendering="crispEdges"/>
<rect x="382.00" y="312.75" width="8.80" height="1.17" fill="#feca7c" shape-rendering="crispEdges"/>
<rect x="382.00" y="313.81" width="8.80" height="1.17" fill="#fed585" shape-rendering="crispEdges"/>
<rect x="382.00" y="314.88" width="8.80" height="1.17" fill="#fedf8f" shape-rendering="crispEdges"/>
<rect x="382.00" y="315.94" width="8.80" height="1.17" fill="#fee699" shape-rendering="crispEdges"/>
<rect x="382.00" y="317.00" width="8.80" height="1.17" fill="#feeca2" shape-rendering="crispEdges"/>
<rect x="382.00" y="318.07" width="8.80" height="1.17" fill="#fff2ac" shape-rendering="crispEdges"/>
<rect x="382.00" y="319.13" width="8.80" height="1.17" fill="#fff9b5" shape-rendering="crispEdges"/>
<rect x="382.00" y="320.20" width="8.80" height="1.17" fill="#ffffbf" shape-rendering="crispEdges"/>
<rect x="382.00" y="321.26" width="8.80" height="1.17" fill="#f9fdcb" shape-rendering="crispEdges"/>
<rect x="382.00" y="322.33" width="8.80" height="1.17" fill="#f2fad7" shape-rendering="crispEdges"/>
<rect x="382.00" y="323.39" width="8.80" height="1.17" fill="#ecf8e2" shape-rendering="crispEdges"/>
<rect x="382.00" y="324.46" width="8.80" height="1.17" fill="#e6f5ee" shape-rendering="crispEdges"/>
<rect x="382.00" y="325.52" width="8.80" height="1.17" fill="#dff2f8" shape-rendering="crispEdges"/>
<rect x="382.00" y="326.59" width="8.80" height="1.17" fill="#d4edf5" shape-rendering="crispEdges"/>
<rect x="382.00" y="327.65" width="8.80" height="1.17" fill="#c9e8f1" shape-rendering="crispEdges"/>
<rect x="382.00" y="328.72" width="8.80" height="1.17" fill="#bee2ee" shape-rendering="crispEdges"/>
<rect x="382.00" y="329.78" width="8.80" height="1.17" fill="#b3ddeb" shape-rendering="crispEdges"/>
<rect x="382.00" y="330.85" width="8.80" height="1.17" fill="#a8d7e8" shape-rendering="crispEdges"/>
<rect x="382.00" y="331.92" width="8.80" height="1.17" fill="#9dcee3" shape-rendering="crispEdges"/>
<rect x="382.00" y="332.98" width="8.80" height="1.17" fill="#92c5de" shape-rendering="crispEdges"/>
<rect x="382.00" y="334.05" width="8.80" height="1.17" fill="#86bcd9" shape-rendering="crispEdges"/>
<rect x="382.00" y="335.11" width="8.80" height="1.17" fill="#7bb3d4" shape-rendering="crispEdges"/>
<rect x="382.00" y="336.18" width="8.80" height="1.17" fill="#70a9cf" shape-rendering="crispEdges"/>
<rect x="382.00" y="337.24" width="8.80" height="1.17" fill="#679dc9" shape-rendering="crispEdges"/>
<rect x="382.00" y="338.31" width="8.80" height="1.17" fill="#5d92c3" shape-rendering="crispEdges"/>
<rect x="382.00" y="339.37" width="8.80" height="1.17" fill="#5386bd" shape-rendering="crispEdges"/>
<rect x="382.00" y="340.44" width="8.80" height="1.17" fill="#4a7bb7" shape-rendering="crispEdges"/>
<text x="393.60" y="305.20" font-size="8">16</text>
<text x="393.60" y="317.10" font-size="8">12</text>
<text x="393.60" y="328.70" font-size="8">8</text>
<text x="393.60" y="341.10" font-size="8">4</text>
<text x="463.70" y="181.00" font-size="8" text-anchor="middle">Activation Z-score</text>
<text x="463.70" y="190.60" font-size="8" text-anchor="middle">(sg<tspan font-style="italic">CLPB</tspan> #2)</text>
<text x="419.30" y="200.30" font-size="8" text-anchor="middle">0</text>
<line x1="419.00" y1="204.00" x2="419.00" y2="202.00" stroke="#231f20" stroke-width="0.6"/>
<text x="441.95" y="200.30" font-size="8" text-anchor="middle">1</text>
<line x1="441.65" y1="204.00" x2="441.65" y2="202.00" stroke="#231f20" stroke-width="0.6"/>
<text x="464.60" y="200.30" font-size="8" text-anchor="middle">2</text>
<line x1="464.30" y1="204.00" x2="464.30" y2="202.00" stroke="#231f20" stroke-width="0.6"/>
<text x="487.25" y="200.30" font-size="8" text-anchor="middle">3</text>
<line x1="486.95" y1="204.00" x2="486.95" y2="202.00" stroke="#231f20" stroke-width="0.6"/>
<line x1="419.00" y1="204.00" x2="506.50" y2="204.00" stroke="#231f20" stroke-width="0.9"/>
<rect x="419.00" y="208.30" width="86.60" height="10.20" fill="#d73027" stroke="#7d8a99" stroke-width="0.5"/>
<text x="416.00" y="215.80" font-size="8" text-anchor="end">ATF4</text>
<rect x="419.00" y="219.75" width="50.00" height="10.20" fill="#d5e6f4" stroke="#7d8a99" stroke-width="0.5"/>
<text x="416.00" y="227.25" font-size="8" text-anchor="end">IRF5</text>
<rect x="419.00" y="231.20" width="45.30" height="10.20" fill="#4a7bc3" stroke="#7d8a99" stroke-width="0.5"/>
<text x="416.00" y="238.70" font-size="8" text-anchor="end">MRTFB</text>
<rect x="419.00" y="242.65" width="49.60" height="10.20" fill="#4a7bc3" stroke="#7d8a99" stroke-width="0.5"/>
<text x="416.00" y="250.15" font-size="8" text-anchor="end">MYCN</text>
<rect x="419.00" y="254.10" width="45.30" height="10.20" fill="#4a7bc3" stroke="#7d8a99" stroke-width="0.5"/>
<text x="416.00" y="261.60" font-size="8" text-anchor="end">MRTFA</text>
<rect x="419.00" y="265.55" width="49.60" height="10.20" fill="#4575be" stroke="#7d8a99" stroke-width="0.5"/>
<text x="416.00" y="273.05" font-size="8" text-anchor="end">SMAD7</text>
<line x1="419.00" y1="204.00" x2="419.00" y2="277.00" stroke="#231f20" stroke-width="0.9"/>
<text x="484.00" y="232.80" font-size="8">−log <tspan font-style="italic">P</tspan></text>
<rect x="492.60" y="235.70" width="8.60" height="1.07" fill="#d22b27" shape-rendering="crispEdges"/>
<rect x="492.60" y="236.67" width="8.60" height="1.07" fill="#da372a" shape-rendering="crispEdges"/>
<rect x="492.60" y="237.64" width="8.60" height="1.07" fill="#e04330" shape-rendering="crispEdges"/>
<rect x="492.60" y="238.62" width="8.60" height="1.07" fill="#e65035" shape-rendering="crispEdges"/>
<rect x="492.60" y="239.59" width="8.60" height="1.07" fill="#ec5c3b" shape-rendering="crispEdges"/>
<rect x="492.60" y="240.56" width="8.60" height="1.07" fill="#f26941" shape-rendering="crispEdges"/>
<rect x="492.60" y="241.53" width="8.60" height="1.07" fill="#f57647" shape-rendering="crispEdges"/>
<rect x="492.60" y="242.51" width="8.60" height="1.07" fill="#f7834d" shape-rendering="crispEdges"/>
<rect x="492.60" y="243.48" width="8.60" height="1.07" fill="#f99053" shape-rendering="crispEdges"/>
<rect x="492.60" y="244.45" width="8.60" height="1.07" fill="#fb9e59" shape-rendering="crispEdges"/>
<rect x="492.60" y="245.43" width="8.60" height="1.07" fill="#fdab60" shape-rendering="crispEdges"/>
<rect x="492.60" y="246.40" width="8.60" height="1.07" fill="#fdb668" shape-rendering="crispEdges"/>
<rect x="492.60" y="247.37" width="8.60" height="1.07" fill="#fdc072" shape-rendering="crispEdges"/>
<rect x="492.60" y="248.34" width="8.60" height="1.07" fill="#feca7c" shape-rendering="crispEdges"/>
<rect x="492.60" y="249.31" width="8.60" height="1.07" fill="#fed585" shape-rendering="crispEdges"/>
<rect x="492.60" y="250.29" width="8.60" height="1.07" fill="#fedf8f" shape-rendering="crispEdges"/>
<rect x="492.60" y="251.26" width="8.60" height="1.07" fill="#fee699" shape-rendering="crispEdges"/>
<rect x="492.60" y="252.23" width="8.60" height="1.07" fill="#feeca2" shape-rendering="crispEdges"/>
<rect x="492.60" y="253.21" width="8.60" height="1.07" fill="#fff2ac" shape-rendering="crispEdges"/>
<rect x="492.60" y="254.18" width="8.60" height="1.07" fill="#fff9b5" shape-rendering="crispEdges"/>
<rect x="492.60" y="255.15" width="8.60" height="1.07" fill="#ffffbf" shape-rendering="crispEdges"/>
<rect x="492.60" y="256.12" width="8.60" height="1.07" fill="#f9fdcb" shape-rendering="crispEdges"/>
<rect x="492.60" y="257.10" width="8.60" height="1.07" fill="#f2fad7" shape-rendering="crispEdges"/>
<rect x="492.60" y="258.07" width="8.60" height="1.07" fill="#ecf8e2" shape-rendering="crispEdges"/>
<rect x="492.60" y="259.04" width="8.60" height="1.07" fill="#e6f5ee" shape-rendering="crispEdges"/>
<rect x="492.60" y="260.01" width="8.60" height="1.07" fill="#dff2f8" shape-rendering="crispEdges"/>
<rect x="492.60" y="260.99" width="8.60" height="1.07" fill="#d4edf5" shape-rendering="crispEdges"/>
<rect x="492.60" y="261.96" width="8.60" height="1.07" fill="#c9e8f1" shape-rendering="crispEdges"/>
<rect x="492.60" y="262.93" width="8.60" height="1.07" fill="#bee2ee" shape-rendering="crispEdges"/>
<rect x="492.60" y="263.90" width="8.60" height="1.07" fill="#b3ddeb" shape-rendering="crispEdges"/>
<rect x="492.60" y="264.88" width="8.60" height="1.07" fill="#a8d7e8" shape-rendering="crispEdges"/>
<rect x="492.60" y="265.85" width="8.60" height="1.07" fill="#9dcee3" shape-rendering="crispEdges"/>
<rect x="492.60" y="266.82" width="8.60" height="1.07" fill="#92c5de" shape-rendering="crispEdges"/>
<rect x="492.60" y="267.79" width="8.60" height="1.07" fill="#86bcd9" shape-rendering="crispEdges"/>
<rect x="492.60" y="268.76" width="8.60" height="1.07" fill="#7bb3d4" shape-rendering="crispEdges"/>
<rect x="492.60" y="269.74" width="8.60" height="1.07" fill="#70a9cf" shape-rendering="crispEdges"/>
<rect x="492.60" y="270.71" width="8.60" height="1.07" fill="#679dc9" shape-rendering="crispEdges"/>
<rect x="492.60" y="271.68" width="8.60" height="1.07" fill="#5d92c3" shape-rendering="crispEdges"/>
<rect x="492.60" y="272.66" width="8.60" height="1.07" fill="#5386bd" shape-rendering="crispEdges"/>
<rect x="492.60" y="273.63" width="8.60" height="1.07" fill="#4a7bb7" shape-rendering="crispEdges"/>
<text x="503.50" y="252.40" font-size="8">10</text>
<text x="503.50" y="266.90" font-size="8">5</text>
<text x="415.80" y="301.20" font-size="11" font-weight="bold" fill="#000">D</text>
<text x="479.00" y="298.60" font-size="6.9" text-anchor="middle"><tspan font-style="italic">ATF4</tspan> mRNA expression</text>
<text x="479.00" y="306.20" font-size="6.9" text-anchor="middle">(relative to sgRosa)</text>
<text x="446.50" y="312.60" font-size="6.9" text-anchor="middle">0</text>
<line x1="445.30" y1="315.80" x2="445.30" y2="314.00" stroke="#231f20" stroke-width="0.6"/>
<text x="470.10" y="312.60" font-size="6.9" text-anchor="middle">2</text>
<line x1="468.90" y1="315.80" x2="468.90" y2="314.00" stroke="#231f20" stroke-width="0.6"/>
<text x="493.70" y="312.60" font-size="6.9" text-anchor="middle">4</text>
<line x1="492.50" y1="315.80" x2="492.50" y2="314.00" stroke="#231f20" stroke-width="0.6"/>
<text x="517.30" y="312.60" font-size="6.9" text-anchor="middle">6</text>
<line x1="516.10" y1="315.80" x2="516.10" y2="314.00" stroke="#231f20" stroke-width="0.6"/>
<line x1="445.30" y1="315.80" x2="520.00" y2="315.80" stroke="#231f20" stroke-width="0.9"/>
<line x1="445.30" y1="315.80" x2="445.30" y2="365.80" stroke="#231f20" stroke-width="0.9"/>
<rect x="445.30" y="321.50" width="11.70" height="9.80" fill="#e3312d" stroke="#231f20" stroke-width="0.7"/>
<line x1="443.30" y1="326.40" x2="445.30" y2="326.40" stroke="#231f20" stroke-width="0.6"/>
<text x="438.50" y="328.90" font-size="6.9" text-anchor="end">sgRosa</text>
<rect x="445.30" y="336.30" width="28.10" height="9.80" fill="#5b9bd5" stroke="#231f20" stroke-width="0.7"/>
<line x1="473.40" y1="341.20" x2="476.20" y2="341.20" stroke="#231f20" stroke-width="0.8"/>
<line x1="476.20" y1="338.70" x2="476.20" y2="343.70" stroke="#231f20" stroke-width="0.8"/>
<circle cx="482.2" cy="339.20" r="0.8" fill="#333"/>
<circle cx="482.2" cy="342.90" r="0.8" fill="#333"/>
<line x1="443.30" y1="341.20" x2="445.30" y2="341.20" stroke="#231f20" stroke-width="0.6"/>
<text x="441.00" y="343.70" font-size="6.9" text-anchor="end">sg<tspan font-style="italic">CLPB</tspan> #1</text>
<rect x="445.30" y="350.80" width="47.70" height="9.80" fill="#3558b0" stroke="#231f20" stroke-width="0.7"/>
<line x1="493.00" y1="355.70" x2="503.20" y2="355.70" stroke="#231f20" stroke-width="0.8"/>
<line x1="503.20" y1="353.20" x2="503.20" y2="358.20" stroke="#231f20" stroke-width="0.8"/>
<circle cx="508.9" cy="355.70" r="0.8" fill="#333"/>
<line x1="443.30" y1="355.70" x2="445.30" y2="355.70" stroke="#231f20" stroke-width="0.6"/>
<text x="441.00" y="358.20" font-size="6.9" text-anchor="end">sg<tspan font-style="italic">CLPB</tspan> #2</text>
<text x="1.80" y="385.00" font-size="11" font-weight="bold" fill="#000">E</text>
<rect x="4.60" y="392.90" width="122.80" height="116.60" fill="#ecebdb"/>
<text x="66.20" y="390.80" font-size="8" text-anchor="middle">sg<tspan font-style="italic">CLPB</tspan> #1 vs. sgRosa</text>
<rect x="17.90" y="393.60" width="107.30" height="46.00" fill="#ffffff" stroke="#b9b9b0" stroke-width="0.5"/>
<text x="17.30" y="398.60" font-size="4.6" text-anchor="end" fill="#444">0.9</text>
<text x="17.30" y="403.31" font-size="4.6" text-anchor="end" fill="#444">0.8</text>
<text x="17.30" y="408.02" font-size="4.6" text-anchor="end" fill="#444">0.7</text>
<text x="17.30" y="412.73" font-size="4.6" text-anchor="end" fill="#444">0.6</text>
<text x="17.30" y="417.44" font-size="4.6" text-anchor="end" fill="#444">0.5</text>
<text x="17.30" y="422.16" font-size="4.6" text-anchor="end" fill="#444">0.4</text>
<text x="17.30" y="426.87" font-size="4.6" text-anchor="end" fill="#444">0.3</text>
<text x="17.30" y="431.58" font-size="4.6" text-anchor="end" fill="#444">0.2</text>
<text x="17.30" y="436.29" font-size="4.6" text-anchor="end" fill="#444">0.1</text>
<text x="17.30" y="441.00" font-size="4.6" text-anchor="end" fill="#444">0.0</text>
<text x="8.40" y="416.50" font-size="4.4" text-anchor="middle" fill="#444" transform="rotate(-90 8.40 416.50)">Enrichment score (ES)</text>
<path d="M18.40 439.2 L18.90 405 C19.30 398 20.10 396.2 22.10 395.8 C52.10 407 82.20 424 122.20 439.3" stroke="#7db65c" stroke-width="1.2" fill="none"/>
<text x="82.90" y="401.60" font-size="8.1">NES = 2.81</text>
<text x="82.90" y="409.90" font-size="8.1">p-val = 0.0</text>
<text x="82.90" y="418.20" font-size="8.1">FDR = 0.0</text>
<rect x="17.90" y="440.80" width="107.30" height="20.20" fill="#ffffff" stroke="#c9c9c0" stroke-width="0.5"/>
<rect x="25.60" y="441.60" width="0.60" height="15.00" fill="#777"/>
<rect x="36.80" y="441.60" width="0.60" height="15.00" fill="#999"/>
<rect x="49.80" y="441.60" width="0.60" height="15.00" fill="#aaa"/>
<rect x="101.60" y="441.60" width="0.60" height="15.00" fill="#888"/>
<rect x="109.60" y="441.60" width="0.60" height="15.00" fill="#888"/>
<rect x="113.90" y="441.60" width="0.60" height="15.00" fill="#aaa"/>
<rect x="17.90" y="441.60" width="0.42" height="15.00" fill="#1e1e1e"/>
<rect x="18.27" y="441.60" width="0.42" height="15.00" fill="#1e1e1e"/>
<rect x="18.64" y="441.60" width="0.42" height="15.00" fill="#1e1e1e"/>
<rect x="19.01" y="441.60" width="0.42" height="15.00" fill="#1e1e1e"/>
<rect x="19.38" y="441.60" width="0.42" height="15.00" fill="#1e1e1e"/>
<rect x="19.75" y="441.60" width="0.42" height="15.00" fill="#1e1e1e"/>
<rect x="20.12" y="441.60" width="0.42" height="15.00" fill="#1e1e1e"/>
<rect x="20.49" y="441.60" width="0.42" height="15.00" fill="#1e1e1e"/>
<rect x="20.86" y="441.60" width="0.42" height="15.00" fill="#1e1e1e"/>
<rect x="21.23" y="441.60" width="0.42" height="15.00" fill="#1e1e1e"/>
<rect x="17.90" y="456.60" width="2.14" height="4.20" fill="#ce2e42" shape-rendering="crispEdges"/>
<rect x="19.99" y="456.60" width="2.14" height="4.20" fill="#cf3044" shape-rendering="crispEdges"/>
<rect x="22.07" y="456.60" width="2.14" height="4.20" fill="#d03347" shape-rendering="crispEdges"/>
<rect x="24.16" y="456.60" width="2.14" height="4.20" fill="#d13549" shape-rendering="crispEdges"/>
<rect x="26.24" y="456.60" width="2.14" height="4.20" fill="#d2384c" shape-rendering="crispEdges"/>
<rect x="28.33" y="456.60" width="2.14" height="4.20" fill="#d33a4e" shape-rendering="crispEdges"/>
<rect x="30.42" y="456.60" width="2.14" height="4.20" fill="#d43c50" shape-rendering="crispEdges"/>
<rect x="32.50" y="456.60" width="2.14" height="4.20" fill="#d63e52" shape-rendering="crispEdges"/>
<rect x="34.59" y="456.60" width="2.14" height="4.20" fill="#d74155" shape-rendering="crispEdges"/>
<rect x="36.67" y="456.60" width="2.14" height="4.20" fill="#d84357" shape-rendering="crispEdges"/>
<rect x="38.76" y="456.60" width="2.14" height="4.20" fill="#d9465a" shape-rendering="crispEdges"/>
<rect x="40.85" y="456.60" width="2.14" height="4.20" fill="#da485c" shape-rendering="crispEdges"/>
<rect x="42.93" y="456.60" width="2.14" height="4.20" fill="#db4a5e" shape-rendering="crispEdges"/>
<rect x="45.02" y="456.60" width="2.14" height="4.20" fill="#dc4c60" shape-rendering="crispEdges"/>
<rect x="47.10" y="456.60" width="2.14" height="4.20" fill="#dd4f63" shape-rendering="crispEdges"/>
<rect x="49.19" y="456.60" width="2.14" height="4.20" fill="#e0576b" shape-rendering="crispEdges"/>
<rect x="51.28" y="456.60" width="2.14" height="4.20" fill="#e36579" shape-rendering="crispEdges"/>
<rect x="53.36" y="456.60" width="2.14" height="4.20" fill="#e67387" shape-rendering="crispEdges"/>
<rect x="55.45" y="456.60" width="2.14" height="4.20" fill="#e98195" shape-rendering="crispEdges"/>
<rect x="57.53" y="456.60" width="2.14" height="4.20" fill="#ec8fa3" shape-rendering="crispEdges"/>
<rect x="59.62" y="456.60" width="2.14" height="4.20" fill="#ee9baf" shape-rendering="crispEdges"/>
<rect x="61.71" y="456.60" width="2.14" height="4.20" fill="#efa6b9" shape-rendering="crispEdges"/>
<rect x="63.79" y="456.60" width="2.14" height="4.20" fill="#f0b2c3" shape-rendering="crispEdges"/>
<rect x="65.88" y="456.60" width="2.14" height="4.20" fill="#f1bccd" shape-rendering="crispEdges"/>
<rect x="67.96" y="456.60" width="2.14" height="4.20" fill="#f2c8d7" shape-rendering="crispEdges"/>
<rect x="70.05" y="456.60" width="2.14" height="4.20" fill="#f1d0de" shape-rendering="crispEdges"/>
<rect x="72.14" y="456.60" width="2.14" height="4.20" fill="#f0d6e3" shape-rendering="crispEdges"/>
<rect x="74.22" y="456.60" width="2.14" height="4.20" fill="#eedbe7" shape-rendering="crispEdges"/>
<rect x="76.31" y="456.60" width="2.14" height="4.20" fill="#ede1ec" shape-rendering="crispEdges"/>
<rect x="78.39" y="456.60" width="2.14" height="4.20" fill="#e9e1ed" shape-rendering="crispEdges"/>
<rect x="80.48" y="456.60" width="2.14" height="4.20" fill="#e3dbeb" shape-rendering="crispEdges"/>
<rect x="82.57" y="456.60" width="2.14" height="4.20" fill="#dcd5e9" shape-rendering="crispEdges"/>
<rect x="84.65" y="456.60" width="2.14" height="4.20" fill="#d6cfe7" shape-rendering="crispEdges"/>
<rect x="86.74" y="456.60" width="2.14" height="4.20" fill="#d0c9e5" shape-rendering="crispEdges"/>
<rect x="88.82" y="456.60" width="2.14" height="4.20" fill="#c9c1e2" shape-rendering="crispEdges"/>
<rect x="90.91" y="456.60" width="2.14" height="4.20" fill="#c0b8dd" shape-rendering="crispEdges"/>
<rect x="93.00" y="456.60" width="2.14" height="4.20" fill="#b7aed9" shape-rendering="crispEdges"/>
<rect x="95.08" y="456.60" width="2.14" height="4.20" fill="#aea5d4" shape-rendering="crispEdges"/>
<rect x="97.17" y="456.60" width="2.14" height="4.20" fill="#978dc8" shape-rendering="crispEdges"/>
<rect x="99.25" y="456.60" width="2.14" height="4.20" fill="#7268b4" shape-rendering="crispEdges"/>
<rect x="101.34" y="456.60" width="2.14" height="4.20" fill="#5d53a8" shape-rendering="crispEdges"/>
<rect x="103.43" y="456.60" width="2.14" height="4.20" fill="#594fa5" shape-rendering="crispEdges"/>
<rect x="105.51" y="456.60" width="2.14" height="4.20" fill="#554ba1" shape-rendering="crispEdges"/>
<rect x="107.60" y="456.60" width="2.14" height="4.20" fill="#51479e" shape-rendering="crispEdges"/>
<rect x="109.68" y="456.60" width="2.14" height="4.20" fill="#4d439a" shape-rendering="crispEdges"/>
<rect x="111.77" y="456.60" width="2.14" height="4.20" fill="#493f97" shape-rendering="crispEdges"/>
<rect x="113.86" y="456.60" width="2.14" height="4.20" fill="#453b93" shape-rendering="crispEdges"/>
<rect x="115.94" y="456.60" width="2.14" height="4.20" fill="#413790" shape-rendering="crispEdges"/>
<rect x="118.03" y="456.60" width="2.14" height="4.20" fill="#3d338c" shape-rendering="crispEdges"/>
<rect x="120.11" y="456.60" width="2.14" height="4.20" fill="#392f89" shape-rendering="crispEdges"/>
<rect x="17.90" y="461.00" width="107.30" height="32.40" fill="#ffffff" stroke="#c9c9c0" stroke-width="0.5"/>
<text x="19.10" y="465.40" font-size="4.55" fill="#e03c4c">'na_pos' (positively correlated)</text>
<path d="M18.30 481.10 L18.30 462.6 C18.70 474 20.40 480.10 27.90 480.60 L97.20 481.60 C114.20 482.60 121.20 484.10 122.20 489.10 L122.20 481.10 Z" stroke="#9a9a9a" stroke-width="0.4" fill="#d2d2d2"/>
<line x1="17.90" y1="481.10" x2="122.20" y2="481.10" stroke="#8a8a8a" stroke-width="0.6"/>
<text x="76.30" y="478.80" font-size="4.75" text-anchor="middle">Zero cross at 5,909</text>
<text x="86.80" y="491.20" font-size="4.55" text-anchor="middle" fill="#4a4ac8">'na_neg' (negatively correlated)</text>
<text x="17.10" y="464.50" font-size="5.3" text-anchor="end" fill="#444">4</text>
<text x="17.10" y="469.20" font-size="5.3" text-anchor="end" fill="#444">3</text>
<text x="17.10" y="473.90" font-size="5.3" text-anchor="end" fill="#444">2</text>
<text x="17.10" y="478.50" font-size="5.3" text-anchor="end" fill="#444">1</text>
<text x="17.10" y="483.10" font-size="5.3" text-anchor="end" fill="#444">0</text>
<text x="17.10" y="487.80" font-size="5.3" text-anchor="end" fill="#444">−1</text>
<text x="17.10" y="492.50" font-size="5.3" text-anchor="end" fill="#444">−2</text>
<text x="8.40" y="477.00" font-size="4.4" text-anchor="middle" fill="#444" transform="rotate(-90 8.40 477.00)">Ranked list metric (PreRanked)</text>
<text x="18.40" y="497.70" font-size="5.6" text-anchor="middle">0</text>
<text x="41.00" y="497.70" font-size="5.6" text-anchor="middle">2,500</text>
<text x="65.40" y="497.70" font-size="5.6" text-anchor="middle">5,000</text>
<text x="87.00" y="497.70" font-size="5.6" text-anchor="middle">7,500</text>
<text x="111.50" y="497.70" font-size="5.6" text-anchor="middle">10,000</text>
<text x="73.20" y="501.90" font-size="5.3" text-anchor="middle">Rank in ordered dataset</text>
<rect x="25.00" y="503.90" width="83.00" height="4.60" fill="#ffffff" stroke="#777" stroke-width="0.4"/>
<text x="27.00" y="507.30" font-size="2.8" fill="#555">— Enrichment profile — Hits</text>
<text x="106.00" y="507.30" font-size="2.8" text-anchor="end" fill="#555">Ranking metric scores</text>
<rect x="128.90" y="392.90" width="125.00" height="116.60" fill="#ecebdb"/>
<text x="194.00" y="390.80" font-size="8" text-anchor="middle">sg<tspan font-style="italic">CLPB</tspan> #2 vs. sgRosa</text>
<rect x="144.60" y="393.60" width="107.10" height="46.00" fill="#ffffff" stroke="#b9b9b0" stroke-width="0.5"/>
<text x="144.00" y="398.60" font-size="4.6" text-anchor="end" fill="#444">0.9</text>
<text x="144.00" y="403.31" font-size="4.6" text-anchor="end" fill="#444">0.8</text>
<text x="144.00" y="408.02" font-size="4.6" text-anchor="end" fill="#444">0.7</text>
<text x="144.00" y="412.73" font-size="4.6" text-anchor="end" fill="#444">0.6</text>
<text x="144.00" y="417.44" font-size="4.6" text-anchor="end" fill="#444">0.5</text>
<text x="144.00" y="422.16" font-size="4.6" text-anchor="end" fill="#444">0.4</text>
<text x="144.00" y="426.87" font-size="4.6" text-anchor="end" fill="#444">0.3</text>
<text x="144.00" y="431.58" font-size="4.6" text-anchor="end" fill="#444">0.2</text>
<text x="144.00" y="436.29" font-size="4.6" text-anchor="end" fill="#444">0.1</text>
<text x="144.00" y="441.00" font-size="4.6" text-anchor="end" fill="#444">0.0</text>
<text x="132.70" y="416.50" font-size="4.4" text-anchor="middle" fill="#444" transform="rotate(-90 132.70 416.50)">Enrichment score (ES)</text>
<path d="M145.10 439.2 L145.60 405 C146.00 398 146.80 396.2 148.80 395.8 C178.80 407 208.70 424 248.70 439.3" stroke="#7db65c" stroke-width="1.2" fill="none"/>
<text x="208.60" y="401.60" font-size="8.1">NES = 2.80</text>
<text x="208.60" y="409.90" font-size="8.1">p-val = 0.0</text>
<text x="208.60" y="418.20" font-size="8.1">FDR = 0.0</text>
<rect x="144.60" y="440.80" width="107.10" height="20.20" fill="#ffffff" stroke="#c9c9c0" stroke-width="0.5"/>
<rect x="149.20" y="441.60" width="0.60" height="15.00" fill="#666"/>
<rect x="151.60" y="441.60" width="0.60" height="15.00" fill="#777"/>
<rect x="155.30" y="441.60" width="0.60" height="15.00" fill="#888"/>
<rect x="159.70" y="441.60" width="0.60" height="15.00" fill="#999"/>
<rect x="170.80" y="441.60" width="0.60" height="15.00" fill="#aaa"/>
<rect x="232.20" y="441.60" width="0.60" height="15.00" fill="#999"/>
<rect x="238.00" y="441.60" width="0.60" height="15.00" fill="#999"/>
<rect x="144.70" y="441.60" width="0.58" height="15.00" fill="#141414"/>
<rect x="145.23" y="441.60" width="0.58" height="15.00" fill="#181818"/>
<rect x="145.76" y="441.60" width="0.58" height="15.00" fill="#212121"/>
<rect x="146.29" y="441.60" width="0.58" height="15.00" fill="#2c2c2c"/>
<rect x="146.82" y="441.60" width="0.58" height="15.00" fill="#393939"/>
<rect x="147.35" y="441.60" width="0.58" height="15.00" fill="#494949"/>
<rect x="147.88" y="441.60" width="0.58" height="15.00" fill="#595959"/>
<rect x="148.41" y="441.60" width="0.58" height="15.00" fill="#6b6b6b"/>
<rect x="148.94" y="441.60" width="0.58" height="15.00" fill="#7f7f7f"/>
<rect x="149.47" y="441.60" width="0.58" height="15.00" fill="#949494"/>
<rect x="144.60" y="456.60" width="2.13" height="4.20" fill="#ce2e42" shape-rendering="crispEdges"/>
<rect x="146.68" y="456.60" width="2.13" height="4.20" fill="#cf3044" shape-rendering="crispEdges"/>
<rect x="148.76" y="456.60" width="2.13" height="4.20" fill="#d03347" shape-rendering="crispEdges"/>
<rect x="150.85" y="456.60" width="2.13" height="4.20" fill="#d13549" shape-rendering="crispEdges"/>
<rect x="152.93" y="456.60" width="2.13" height="4.20" fill="#d2384c" shape-rendering="crispEdges"/>
<rect x="155.01" y="456.60" width="2.13" height="4.20" fill="#d33a4e" shape-rendering="crispEdges"/>
<rect x="157.09" y="456.60" width="2.13" height="4.20" fill="#d43c50" shape-rendering="crispEdges"/>
<rect x="159.17" y="456.60" width="2.13" height="4.20" fill="#d63e52" shape-rendering="crispEdges"/>
<rect x="161.26" y="456.60" width="2.13" height="4.20" fill="#d74155" shape-rendering="crispEdges"/>
<rect x="163.34" y="456.60" width="2.13" height="4.20" fill="#d84357" shape-rendering="crispEdges"/>
<rect x="165.42" y="456.60" width="2.13" height="4.20" fill="#d9465a" shape-rendering="crispEdges"/>
<rect x="167.50" y="456.60" width="2.13" height="4.20" fill="#da485c" shape-rendering="crispEdges"/>
<rect x="169.58" y="456.60" width="2.13" height="4.20" fill="#db4a5e" shape-rendering="crispEdges"/>
<rect x="171.67" y="456.60" width="2.13" height="4.20" fill="#dc4c60" shape-rendering="crispEdges"/>
<rect x="173.75" y="456.60" width="2.13" height="4.20" fill="#dd4f63" shape-rendering="crispEdges"/>
<rect x="175.83" y="456.60" width="2.13" height="4.20" fill="#e0576b" shape-rendering="crispEdges"/>
<rect x="177.91" y="456.60" width="2.13" height="4.20" fill="#e36579" shape-rendering="crispEdges"/>
<rect x="179.99" y="456.60" width="2.13" height="4.20" fill="#e67387" shape-rendering="crispEdges"/>
<rect x="182.08" y="456.60" width="2.13" height="4.20" fill="#e98195" shape-rendering="crispEdges"/>
<rect x="184.16" y="456.60" width="2.13" height="4.20" fill="#ec8fa3" shape-rendering="crispEdges"/>
<rect x="186.24" y="456.60" width="2.13" height="4.20" fill="#ee9baf" shape-rendering="crispEdges"/>
<rect x="188.32" y="456.60" width="2.13" height="4.20" fill="#efa6b9" shape-rendering="crispEdges"/>
<rect x="190.40" y="456.60" width="2.13" height="4.20" fill="#f0b2c3" shape-rendering="crispEdges"/>
<rect x="192.49" y="456.60" width="2.13" height="4.20" fill="#f1bccd" shape-rendering="crispEdges"/>
<rect x="194.57" y="456.60" width="2.13" height="4.20" fill="#f2c8d7" shape-rendering="crispEdges"/>
<rect x="196.65" y="456.60" width="2.13" height="4.20" fill="#f1d0de" shape-rendering="crispEdges"/>
<rect x="198.73" y="456.60" width="2.13" height="4.20" fill="#f0d6e3" shape-rendering="crispEdges"/>
<rect x="200.81" y="456.60" width="2.13" height="4.20" fill="#eedbe7" shape-rendering="crispEdges"/>
<rect x="202.90" y="456.60" width="2.13" height="4.20" fill="#ede1ec" shape-rendering="crispEdges"/>
<rect x="204.98" y="456.60" width="2.13" height="4.20" fill="#e9e1ed" shape-rendering="crispEdges"/>
<rect x="207.06" y="456.60" width="2.13" height="4.20" fill="#e3dbeb" shape-rendering="crispEdges"/>
<rect x="209.14" y="456.60" width="2.13" height="4.20" fill="#dcd5e9" shape-rendering="crispEdges"/>
<rect x="211.22" y="456.60" width="2.13" height="4.20" fill="#d6cfe7" shape-rendering="crispEdges"/>
<rect x="213.31" y="456.60" width="2.13" height="4.20" fill="#d0c9e5" shape-rendering="crispEdges"/>
<rect x="215.39" y="456.60" width="2.13" height="4.20" fill="#c9c1e2" shape-rendering="crispEdges"/>
<rect x="217.47" y="456.60" width="2.13" height="4.20" fill="#c0b8dd" shape-rendering="crispEdges"/>
<rect x="219.55" y="456.60" width="2.13" height="4.20" fill="#b7aed9" shape-rendering="crispEdges"/>
<rect x="221.63" y="456.60" width="2.13" height="4.20" fill="#aea5d4" shape-rendering="crispEdges"/>
<rect x="223.72" y="456.60" width="2.13" height="4.20" fill="#978dc8" shape-rendering="crispEdges"/>
<rect x="225.80" y="456.60" width="2.13" height="4.20" fill="#7268b4" shape-rendering="crispEdges"/>
<rect x="227.88" y="456.60" width="2.13" height="4.20" fill="#5d53a8" shape-rendering="crispEdges"/>
<rect x="229.96" y="456.60" width="2.13" height="4.20" fill="#594fa5" shape-rendering="crispEdges"/>
<rect x="232.04" y="456.60" width="2.13" height="4.20" fill="#554ba1" shape-rendering="crispEdges"/>
<rect x="234.13" y="456.60" width="2.13" height="4.20" fill="#51479e" shape-rendering="crispEdges"/>
<rect x="236.21" y="456.60" width="2.13" height="4.20" fill="#4d439a" shape-rendering="crispEdges"/>
<rect x="238.29" y="456.60" width="2.13" height="4.20" fill="#493f97" shape-rendering="crispEdges"/>
<rect x="240.37" y="456.60" width="2.13" height="4.20" fill="#453b93" shape-rendering="crispEdges"/>
<rect x="242.45" y="456.60" width="2.13" height="4.20" fill="#413790" shape-rendering="crispEdges"/>
<rect x="244.54" y="456.60" width="2.13" height="4.20" fill="#3d338c" shape-rendering="crispEdges"/>
<rect x="246.62" y="456.60" width="2.13" height="4.20" fill="#392f89" shape-rendering="crispEdges"/>
<rect x="144.60" y="461.00" width="107.10" height="32.40" fill="#ffffff" stroke="#c9c9c0" stroke-width="0.5"/>
<text x="145.80" y="465.40" font-size="4.55" fill="#e03c4c">'na_pos' (positively correlated)</text>
<path d="M145.00 480.60 L145.00 462.6 C145.40 474 147.10 479.60 154.60 480.10 L223.70 481.10 C240.70 482.10 247.70 483.60 248.70 488.60 L248.70 480.60 Z" stroke="#9a9a9a" stroke-width="0.4" fill="#d2d2d2"/>
<line x1="144.60" y1="480.60" x2="248.70" y2="480.60" stroke="#8a8a8a" stroke-width="0.6"/>
<text x="194.50" y="478.80" font-size="4.75" text-anchor="middle">Zero cross at 5,514</text>
<text x="211.30" y="491.20" font-size="4.55" text-anchor="middle" fill="#4a4ac8">'na_neg' (negatively correlated)</text>
<text x="143.80" y="465.60" font-size="5.3" text-anchor="end" fill="#444">5.0</text>
<text x="143.80" y="473.40" font-size="5.3" text-anchor="end" fill="#444">2.5</text>
<text x="143.80" y="482.50" font-size="5.3" text-anchor="end" fill="#444">0.0</text>
<text x="143.80" y="492.10" font-size="5.3" text-anchor="end" fill="#444">−2.5</text>
<text x="132.70" y="477.00" font-size="4.4" text-anchor="middle" fill="#444" transform="rotate(-90 132.70 477.00)">Ranked list metric (PreRanked)</text>
<text x="145.40" y="497.70" font-size="5.6" text-anchor="middle">0</text>
<text x="167.30" y="497.70" font-size="5.6" text-anchor="middle">2,500</text>
<text x="189.40" y="497.70" font-size="5.6" text-anchor="middle">5,000</text>
<text x="209.40" y="497.70" font-size="5.6" text-anchor="middle">7,500</text>
<text x="238.70" y="497.70" font-size="5.6" text-anchor="middle">10,000</text>
<text x="199.70" y="501.90" font-size="5.3" text-anchor="middle">Rank in Ordered Dataset</text>
<rect x="151.00" y="503.90" width="84.30" height="4.60" fill="#ffffff" stroke="#777" stroke-width="0.4"/>
<text x="153.00" y="507.30" font-size="2.8" fill="#555">— Enrichment profile — Hits</text>
<text x="233.30" y="507.30" font-size="2.8" text-anchor="end" fill="#555">Ranking metric scores</text>
<text x="275.60" y="382.90" font-size="11" font-weight="bold" fill="#000">F</text>
<text x="328.40" y="401.20" font-size="9.2" text-anchor="middle" font-style="italic">PMAIP1</text>
<line x1="305.40" y1="408.00" x2="305.40" y2="484.50" stroke="#231f20" stroke-width="0.9"/>
<line x1="305.40" y1="484.50" x2="353.50" y2="484.50" stroke="#231f20" stroke-width="0.9"/>
<line x1="303.40" y1="484.50" x2="305.40" y2="484.50" stroke="#231f20" stroke-width="0.7"/>
<text x="303.10" y="487.30" font-size="8" text-anchor="end">0</text>
<line x1="303.40" y1="459.00" x2="305.40" y2="459.00" stroke="#231f20" stroke-width="0.7"/>
<text x="303.10" y="461.80" font-size="8" text-anchor="end">4</text>
<line x1="303.40" y1="433.50" x2="305.40" y2="433.50" stroke="#231f20" stroke-width="0.7"/>
<text x="303.10" y="436.30" font-size="8" text-anchor="end">8</text>
<line x1="303.40" y1="408.00" x2="305.40" y2="408.00" stroke="#231f20" stroke-width="0.7"/>
<text x="303.10" y="410.80" font-size="8" text-anchor="end">12</text>
<rect x="310.80" y="478.12" width="9.90" height="6.38" fill="#e9432c" stroke="#231f20" stroke-width="0.7"/>
<line x1="315.75" y1="484.50" x2="315.75" y2="486.50" stroke="#231f20" stroke-width="0.7"/>
<rect x="325.70" y="441.15" width="11.00" height="43.35" fill="#4f90d8" stroke="#231f20" stroke-width="0.7"/>
<line x1="331.20" y1="484.50" x2="331.20" y2="486.50" stroke="#231f20" stroke-width="0.7"/>
<line x1="331.20" y1="441.15" x2="331.20" y2="422.66" stroke="#333" stroke-width="1.1"/>
<line x1="328.20" y1="422.66" x2="334.20" y2="422.66" stroke="#333" stroke-width="1.1"/>
<text x="331.20" y="420.60" font-size="6.5" text-anchor="middle">*</text>
<rect x="341.20" y="460.91" width="10.80" height="23.59" fill="#3659b2" stroke="#231f20" stroke-width="0.7"/>
<line x1="346.60" y1="484.50" x2="346.60" y2="486.50" stroke="#231f20" stroke-width="0.7"/>
<line x1="346.60" y1="460.91" x2="346.60" y2="453.26" stroke="#333" stroke-width="1.1"/>
<line x1="343.60" y1="453.26" x2="349.60" y2="453.26" stroke="#333" stroke-width="1.1"/>
<text x="346.60" y="451.90" font-size="6.5" text-anchor="middle">*</text>
<text x="280.40" y="442.70" font-size="8.1" text-anchor="middle" transform="rotate(-90 280.40 442.70)">mRNA expression</text>
<text x="289.50" y="443.20" font-size="7.95" text-anchor="middle" transform="rotate(-90 289.50 443.20)">(relative to sgRosa)</text>
<text x="318.75" y="490.40" font-size="8.0" text-anchor="end" transform="rotate(-45 318.75 490.40)">sgRosa</text>
<text x="334.20" y="490.40" font-size="8.0" text-anchor="end" transform="rotate(-45 334.20 490.40)">sg<tspan font-style="italic">CLPB</tspan> #1</text>
<text x="349.60" y="490.40" font-size="8.0" text-anchor="end" transform="rotate(-45 349.60 490.40)">sg<tspan font-style="italic">CLPB</tspan> #2</text>
<text x="409.30" y="401.20" font-size="9.2" text-anchor="middle" font-style="italic">BBC3</text>
<line x1="385.40" y1="408.00" x2="385.40" y2="484.50" stroke="#231f20" stroke-width="0.9"/>
<line x1="385.40" y1="484.50" x2="432.50" y2="484.50" stroke="#231f20" stroke-width="0.9"/>
<line x1="383.40" y1="484.50" x2="385.40" y2="484.50" stroke="#231f20" stroke-width="0.7"/>
<text x="383.10" y="487.30" font-size="8" text-anchor="end">0</text>
<line x1="383.40" y1="465.38" x2="385.40" y2="465.38" stroke="#231f20" stroke-width="0.7"/>
<text x="383.10" y="468.18" font-size="8" text-anchor="end">2</text>
<line x1="383.40" y1="446.25" x2="385.40" y2="446.25" stroke="#231f20" stroke-width="0.7"/>
<text x="383.10" y="449.05" font-size="8" text-anchor="end">4</text>
<line x1="383.40" y1="427.12" x2="385.40" y2="427.12" stroke="#231f20" stroke-width="0.7"/>
<text x="383.10" y="429.93" font-size="8" text-anchor="end">6</text>
<line x1="383.40" y1="408.00" x2="385.40" y2="408.00" stroke="#231f20" stroke-width="0.7"/>
<text x="383.10" y="410.80" font-size="8" text-anchor="end">8</text>
<rect x="390.40" y="474.94" width="9.90" height="9.56" fill="#e9432c" stroke="#231f20" stroke-width="0.7"/>
<line x1="395.35" y1="484.50" x2="395.35" y2="486.50" stroke="#231f20" stroke-width="0.7"/>
<rect x="405.70" y="440.99" width="10.30" height="43.51" fill="#4f90d8" stroke="#231f20" stroke-width="0.7"/>
<line x1="410.85" y1="484.50" x2="410.85" y2="486.50" stroke="#231f20" stroke-width="0.7"/>
<line x1="410.85" y1="440.99" x2="410.85" y2="422.34" stroke="#333" stroke-width="1.1"/>
<line x1="407.85" y1="422.34" x2="413.85" y2="422.34" stroke="#333" stroke-width="1.1"/>
<text x="410.85" y="420.00" font-size="6.5" text-anchor="middle">*</text>
<rect x="420.00" y="461.55" width="11.00" height="22.95" fill="#3659b2" stroke="#231f20" stroke-width="0.7"/>
<line x1="425.50" y1="484.50" x2="425.50" y2="486.50" stroke="#231f20" stroke-width="0.7"/>
<line x1="425.50" y1="461.55" x2="425.50" y2="453.90" stroke="#333" stroke-width="1.1"/>
<line x1="422.50" y1="453.90" x2="428.50" y2="453.90" stroke="#333" stroke-width="1.1"/>
<text x="425.50" y="451.90" font-size="6.5" text-anchor="middle">*</text>
<text x="363.30" y="442.70" font-size="8.1" text-anchor="middle" transform="rotate(-90 363.30 442.70)">mRNA expression</text>
<text x="372.40" y="443.20" font-size="7.95" text-anchor="middle" transform="rotate(-90 372.40 443.20)">(relative to sgRosa)</text>
<text x="398.35" y="490.40" font-size="8.0" text-anchor="end" transform="rotate(-45 398.35 490.40)">sgRosa</text>
<text x="413.85" y="490.40" font-size="8.0" text-anchor="end" transform="rotate(-45 413.85 490.40)">sg<tspan font-style="italic">CLPB</tspan> #1</text>
<text x="428.50" y="490.40" font-size="8.0" text-anchor="end" transform="rotate(-45 428.50 490.40)">sg<tspan font-style="italic">CLPB</tspan> #2</text>
<text x="492.00" y="401.20" font-size="9.2" text-anchor="middle" font-style="italic">HRK</text>
<line x1="464.70" y1="408.00" x2="464.70" y2="484.50" stroke="#231f20" stroke-width="0.9"/>
<line x1="464.70" y1="484.50" x2="514.90" y2="484.50" stroke="#231f20" stroke-width="0.9"/>
<line x1="462.70" y1="484.50" x2="464.70" y2="484.50" stroke="#231f20" stroke-width="0.7"/>
<text x="462.40" y="487.30" font-size="8" text-anchor="end">0</text>
<line x1="462.70" y1="465.38" x2="464.70" y2="465.38" stroke="#231f20" stroke-width="0.7"/>
<text x="462.40" y="468.18" font-size="8" text-anchor="end">1</text>
<line x1="462.70" y1="446.25" x2="464.70" y2="446.25" stroke="#231f20" stroke-width="0.7"/>
<text x="462.40" y="449.05" font-size="8" text-anchor="end">2</text>
<line x1="462.70" y1="427.12" x2="464.70" y2="427.12" stroke="#231f20" stroke-width="0.7"/>
<text x="462.40" y="429.93" font-size="8" text-anchor="end">3</text>
<line x1="462.70" y1="408.00" x2="464.70" y2="408.00" stroke="#231f20" stroke-width="0.7"/>
<text x="462.40" y="410.80" font-size="8" text-anchor="end">4</text>
<rect x="470.10" y="465.38" width="10.90" height="19.12" fill="#e9432c" stroke="#231f20" stroke-width="0.7"/>
<line x1="475.55" y1="484.50" x2="475.55" y2="486.50" stroke="#231f20" stroke-width="0.7"/>
<rect x="486.20" y="430.95" width="11.30" height="53.55" fill="#4f90d8" stroke="#231f20" stroke-width="0.7"/>
<line x1="491.85" y1="484.50" x2="491.85" y2="486.50" stroke="#231f20" stroke-width="0.7"/>
<line x1="491.85" y1="430.95" x2="491.85" y2="423.30" stroke="#333" stroke-width="1.1"/>
<line x1="488.85" y1="423.30" x2="494.85" y2="423.30" stroke="#333" stroke-width="1.1"/>
<text x="491.85" y="421.00" font-size="6.5" text-anchor="middle">**</text>
<rect x="502.10" y="430.95" width="11.30" height="53.55" fill="#3659b2" stroke="#231f20" stroke-width="0.7"/>
<line x1="507.75" y1="484.50" x2="507.75" y2="486.50" stroke="#231f20" stroke-width="0.7"/>
<line x1="507.75" y1="430.95" x2="507.75" y2="421.39" stroke="#333" stroke-width="1.1"/>
<line x1="504.75" y1="421.39" x2="510.75" y2="421.39" stroke="#333" stroke-width="1.1"/>
<text x="507.75" y="418.80" font-size="6.5" text-anchor="middle">**</text>
<text x="441.30" y="442.70" font-size="8.1" text-anchor="middle" transform="rotate(-90 441.30 442.70)">mRNA expression</text>
<text x="450.40" y="443.20" font-size="7.95" text-anchor="middle" transform="rotate(-90 450.40 443.20)">(relative to sgRosa)</text>
<text x="478.55" y="490.40" font-size="8.0" text-anchor="end" transform="rotate(-45 478.55 490.40)">sgRosa</text>
<text x="494.85" y="490.40" font-size="8.0" text-anchor="end" transform="rotate(-45 494.85 490.40)">sg<tspan font-style="italic">CLPB</tspan> #1</text>
<text x="510.75" y="490.40" font-size="8.0" text-anchor="end" transform="rotate(-45 510.75 490.40)">sg<tspan font-style="italic">CLPB</tspan> #2</text>
<text x="1.60" y="551.20" font-size="11" font-weight="bold" fill="#000">G</text>
<text x="110.70" y="556.40" font-size="8.4" text-anchor="middle">sg<tspan font-style="italic">CLPB</tspan></text>
<line x1="88.00" y1="558.60" x2="133.00" y2="558.60" stroke="#231f20" stroke-width="0.8"/>
<text x="71.70" y="567.00" font-size="8.4" text-anchor="middle">sgRosa</text>
<text x="97.20" y="567.00" font-size="8.4" text-anchor="middle">#1</text>
<text x="123.60" y="567.00" font-size="8.4" text-anchor="middle">#2</text>
<line x1="59.20" y1="569.10" x2="80.40" y2="569.10" stroke="#231f20" stroke-width="0.8"/>
<line x1="87.00" y1="569.10" x2="107.30" y2="569.10" stroke="#231f20" stroke-width="0.8"/>
<line x1="115.00" y1="569.10" x2="133.00" y2="569.10" stroke="#231f20" stroke-width="0.8"/>
<text x="62.00" y="571.00" font-size="8.4" transform="rotate(90 62.00 571.00)">Day 6</text>
<text x="73.15" y="571.00" font-size="8.4" transform="rotate(90 73.15 571.00)">Day 8</text>
<text x="87.75" y="571.00" font-size="8.4" transform="rotate(90 87.75 571.00)">Day 6</text>
<text x="99.00" y="571.00" font-size="8.4" transform="rotate(90 99.00 571.00)">Day 8</text>
<text x="114.70" y="571.00" font-size="8.4" transform="rotate(90 114.70 571.00)">Day 6</text>
<text x="125.75" y="571.00" font-size="8.4" transform="rotate(90 125.75 571.00)">Day 8</text>
<rect x="59.20" y="594.30" width="11.25" height="8.53" fill="#4e63b3" shape-rendering="crispEdges"/>
<rect x="70.40" y="594.30" width="11.15" height="8.53" fill="#4e63b3" shape-rendering="crispEdges"/>
<rect x="84.80" y="594.30" width="11.55" height="8.53" fill="#f9e1e2" shape-rendering="crispEdges"/>
<rect x="96.30" y="594.30" width="11.05" height="8.53" fill="#f9e1e2" shape-rendering="crispEdges"/>
<rect x="111.70" y="594.30" width="11.65" height="8.53" fill="#eea4a7" shape-rendering="crispEdges"/>
<rect x="123.30" y="594.30" width="10.55" height="8.53" fill="#db3f45" shape-rendering="crispEdges"/>
<text x="136.00" y="601.54" font-size="8.2">Hydroxyproline</text>
<rect x="59.20" y="602.77" width="11.25" height="8.53" fill="#4e63b3" shape-rendering="crispEdges"/>
<rect x="70.40" y="602.77" width="11.15" height="8.53" fill="#4e63b3" shape-rendering="crispEdges"/>
<rect x="84.80" y="602.77" width="11.55" height="8.53" fill="#f4c2c4" shape-rendering="crispEdges"/>
<rect x="96.30" y="602.77" width="11.05" height="8.53" fill="#f6ccce" shape-rendering="crispEdges"/>
<rect x="111.70" y="602.77" width="11.65" height="8.53" fill="#e15d62" shape-rendering="crispEdges"/>
<rect x="123.30" y="602.77" width="10.55" height="8.53" fill="#e3676c" shape-rendering="crispEdges"/>
<text x="136.00" y="610.01" font-size="8.2">C5−carnitines</text>
<rect x="59.20" y="611.25" width="11.25" height="8.53" fill="#4e63b3" shape-rendering="crispEdges"/>
<rect x="70.40" y="611.25" width="11.15" height="8.53" fill="#4e63b3" shape-rendering="crispEdges"/>
<rect x="84.80" y="611.25" width="11.55" height="8.53" fill="#fefafa" shape-rendering="crispEdges"/>
<rect x="96.30" y="611.25" width="11.05" height="8.53" fill="#ec9a9d" shape-rendering="crispEdges"/>
<rect x="111.70" y="611.25" width="11.65" height="8.53" fill="#e3676c" shape-rendering="crispEdges"/>
<rect x="123.30" y="611.25" width="10.55" height="8.53" fill="#eea4a7" shape-rendering="crispEdges"/>
<text x="136.00" y="618.49" font-size="8.2">Propionylcarnitine</text>
<rect x="59.20" y="619.72" width="11.25" height="8.53" fill="#4e63b3" shape-rendering="crispEdges"/>
<rect x="70.40" y="619.72" width="11.15" height="8.53" fill="#697bbf" shape-rendering="crispEdges"/>
<rect x="84.80" y="619.72" width="11.55" height="8.53" fill="#fefafa" shape-rendering="crispEdges"/>
<rect x="96.30" y="619.72" width="11.05" height="8.53" fill="#576bb7" shape-rendering="crispEdges"/>
<rect x="111.70" y="619.72" width="11.65" height="8.53" fill="#e15d62" shape-rendering="crispEdges"/>
<rect x="123.30" y="619.72" width="10.55" height="8.53" fill="#db3f45" shape-rendering="crispEdges"/>
<text x="136.00" y="626.96" font-size="8.2">Serine</text>
<rect x="59.20" y="628.20" width="11.25" height="8.53" fill="#4e63b3" shape-rendering="crispEdges"/>
<rect x="70.40" y="628.20" width="11.15" height="8.53" fill="#4e63b3" shape-rendering="crispEdges"/>
<rect x="84.80" y="628.20" width="11.55" height="8.53" fill="#fefafa" shape-rendering="crispEdges"/>
<rect x="96.30" y="628.20" width="11.05" height="8.53" fill="#ffffff" shape-rendering="crispEdges"/>
<rect x="111.70" y="628.20" width="11.65" height="8.53" fill="#dd494f" shape-rendering="crispEdges"/>
<rect x="123.30" y="628.20" width="10.55" height="8.53" fill="#dd494f" shape-rendering="crispEdges"/>
<text x="136.00" y="635.44" font-size="8.2">Methionine</text>
<rect x="59.20" y="636.67" width="11.25" height="8.53" fill="#4e63b3" shape-rendering="crispEdges"/>
<rect x="70.40" y="636.67" width="11.15" height="8.53" fill="#4e63b3" shape-rendering="crispEdges"/>
<rect x="84.80" y="636.67" width="11.55" height="8.53" fill="#fefafa" shape-rendering="crispEdges"/>
<rect x="96.30" y="636.67" width="11.05" height="8.53" fill="#edeff7" shape-rendering="crispEdges"/>
<rect x="111.70" y="636.67" width="11.65" height="8.53" fill="#dd494f" shape-rendering="crispEdges"/>
<rect x="123.30" y="636.67" width="10.55" height="8.53" fill="#df5359" shape-rendering="crispEdges"/>
<text x="136.00" y="643.91" font-size="8.2">Leucine</text>
<rect x="59.20" y="645.15" width="11.25" height="8.53" fill="#da343b" shape-rendering="crispEdges"/>
<rect x="70.40" y="645.15" width="11.15" height="8.53" fill="#e3676c" shape-rendering="crispEdges"/>
<rect x="84.80" y="645.15" width="11.55" height="8.53" fill="#b8c1e1" shape-rendering="crispEdges"/>
<rect x="96.30" y="645.15" width="11.05" height="8.53" fill="#b8c1e1" shape-rendering="crispEdges"/>
<rect x="111.70" y="645.15" width="11.65" height="8.53" fill="#6073bb" shape-rendering="crispEdges"/>
<rect x="123.30" y="645.15" width="10.55" height="8.53" fill="#6073bb" shape-rendering="crispEdges"/>
<text x="136.00" y="652.39" font-size="8.2">N−acetyllysine</text>
<rect x="59.20" y="653.62" width="11.25" height="8.53" fill="#da343b" shape-rendering="crispEdges"/>
<rect x="70.40" y="653.62" width="11.15" height="8.53" fill="#da343b" shape-rendering="crispEdges"/>
<rect x="84.80" y="653.62" width="11.55" height="8.53" fill="#576bb7" shape-rendering="crispEdges"/>
<rect x="96.30" y="653.62" width="11.05" height="8.53" fill="#576bb7" shape-rendering="crispEdges"/>
<rect x="111.70" y="653.62" width="11.65" height="8.53" fill="#a7b1d9" shape-rendering="crispEdges"/>
<rect x="123.30" y="653.62" width="10.55" height="8.53" fill="#c1c9e5" shape-rendering="crispEdges"/>
<text x="136.00" y="660.86" font-size="8.2">UMP</text>
<rect x="59.20" y="662.10" width="11.25" height="8.53" fill="#da343b" shape-rendering="crispEdges"/>
<rect x="70.40" y="662.10" width="11.15" height="8.53" fill="#da343b" shape-rendering="crispEdges"/>
<rect x="84.80" y="662.10" width="11.55" height="8.53" fill="#576bb7" shape-rendering="crispEdges"/>
<rect x="96.30" y="662.10" width="11.05" height="8.53" fill="#576bb7" shape-rendering="crispEdges"/>
<rect x="111.70" y="662.10" width="11.65" height="8.53" fill="#d3d8ec" shape-rendering="crispEdges"/>
<rect x="123.30" y="662.10" width="10.55" height="8.53" fill="#6073bb" shape-rendering="crispEdges"/>
<text x="136.00" y="669.34" font-size="8.2">Phosphocreatine</text>
<rect x="59.20" y="670.57" width="11.25" height="8.53" fill="#da343b" shape-rendering="crispEdges"/>
<rect x="70.40" y="670.57" width="11.15" height="8.53" fill="#da343b" shape-rendering="crispEdges"/>
<rect x="84.80" y="670.57" width="11.55" height="8.53" fill="#576bb7" shape-rendering="crispEdges"/>
<rect x="96.30" y="670.57" width="11.05" height="8.53" fill="#576bb7" shape-rendering="crispEdges"/>
<rect x="111.70" y="670.57" width="11.65" height="8.53" fill="#9ea9d5" shape-rendering="crispEdges"/>
<rect x="123.30" y="670.57" width="10.55" height="8.53" fill="#6073bb" shape-rendering="crispEdges"/>
<text x="136.00" y="677.81" font-size="8.2">Sarcosine</text>
<rect x="59.20" y="679.05" width="11.25" height="8.53" fill="#da343b" shape-rendering="crispEdges"/>
<rect x="70.40" y="679.05" width="11.15" height="8.53" fill="#da343b" shape-rendering="crispEdges"/>
<rect x="84.80" y="679.05" width="11.55" height="8.53" fill="#576bb7" shape-rendering="crispEdges"/>
<rect x="96.30" y="679.05" width="11.05" height="8.53" fill="#576bb7" shape-rendering="crispEdges"/>
<rect x="111.70" y="679.05" width="11.65" height="8.53" fill="#95a2d2" shape-rendering="crispEdges"/>
<rect x="123.30" y="679.05" width="10.55" height="8.53" fill="#6073bb" shape-rendering="crispEdges"/>
<text x="136.00" y="686.29" font-size="8.2">Creatine</text>
<rect x="59.20" y="687.52" width="11.25" height="8.53" fill="#9ea9d5" shape-rendering="crispEdges"/>
<rect x="70.40" y="687.52" width="11.15" height="8.53" fill="#da343b" shape-rendering="crispEdges"/>
<rect x="84.80" y="687.52" width="11.55" height="8.53" fill="#a7b1d9" shape-rendering="crispEdges"/>
<rect x="96.30" y="687.52" width="11.05" height="8.53" fill="#6073bb" shape-rendering="crispEdges"/>
<rect x="111.70" y="687.52" width="11.65" height="8.53" fill="#e15d62" shape-rendering="crispEdges"/>
<rect x="123.30" y="687.52" width="10.55" height="8.53" fill="#7b8ac6" shape-rendering="crispEdges"/>
<text x="136.00" y="694.76" font-size="8.2">UDP−GlcNAc</text>
<rect x="59.20" y="696.00" width="11.25" height="8.53" fill="#fbebeb" shape-rendering="crispEdges"/>
<rect x="70.40" y="696.00" width="11.15" height="8.53" fill="#da343b" shape-rendering="crispEdges"/>
<rect x="84.80" y="696.00" width="11.55" height="8.53" fill="#7282c2" shape-rendering="crispEdges"/>
<rect x="96.30" y="696.00" width="11.05" height="8.53" fill="#6073bb" shape-rendering="crispEdges"/>
<rect x="111.70" y="696.00" width="11.65" height="8.53" fill="#f4c2c4" shape-rendering="crispEdges"/>
<rect x="123.30" y="696.00" width="10.55" height="8.53" fill="#95a2d2" shape-rendering="crispEdges"/>
<text x="136.00" y="703.24" font-size="8.2">Butyrylcarnitine</text>
<rect x="59.20" y="704.47" width="11.25" height="8.53" fill="#fbebeb" shape-rendering="crispEdges"/>
<rect x="70.40" y="704.47" width="11.15" height="8.53" fill="#da343b" shape-rendering="crispEdges"/>
<rect x="84.80" y="704.47" width="11.55" height="8.53" fill="#4e63b3" shape-rendering="crispEdges"/>
<rect x="96.30" y="704.47" width="11.05" height="8.53" fill="#6073bb" shape-rendering="crispEdges"/>
<rect x="111.70" y="704.47" width="11.65" height="8.53" fill="#e3676c" shape-rendering="crispEdges"/>
<rect x="123.30" y="704.47" width="10.55" height="8.53" fill="#8c9ace" shape-rendering="crispEdges"/>
<text x="136.00" y="711.71" font-size="8.2">Glucose_6−phosphate</text>
<rect x="59.20" y="712.95" width="11.25" height="8.53" fill="#a7b1d9" shape-rendering="crispEdges"/>
<rect x="70.40" y="712.95" width="11.15" height="8.53" fill="#da343b" shape-rendering="crispEdges"/>
<rect x="84.80" y="712.95" width="11.55" height="8.53" fill="#e9858a" shape-rendering="crispEdges"/>
<rect x="96.30" y="712.95" width="11.05" height="8.53" fill="#576bb7" shape-rendering="crispEdges"/>
<rect x="111.70" y="712.95" width="11.65" height="8.53" fill="#c1c9e5" shape-rendering="crispEdges"/>
<rect x="123.30" y="712.95" width="10.55" height="8.53" fill="#d3d8ec" shape-rendering="crispEdges"/>
<text x="136.00" y="720.19" font-size="8.2">Hypoxanthine</text>
<rect x="59.20" y="721.42" width="11.25" height="8.53" fill="#fefafa" shape-rendering="crispEdges"/>
<rect x="70.40" y="721.42" width="11.15" height="8.53" fill="#da343b" shape-rendering="crispEdges"/>
<rect x="84.80" y="721.42" width="11.55" height="8.53" fill="#dce0f0" shape-rendering="crispEdges"/>
<rect x="96.30" y="721.42" width="11.05" height="8.53" fill="#576bb7" shape-rendering="crispEdges"/>
<rect x="111.70" y="721.42" width="11.65" height="8.53" fill="#fefafa" shape-rendering="crispEdges"/>
<rect x="123.30" y="721.42" width="10.55" height="8.53" fill="#e5e8f4" shape-rendering="crispEdges"/>
<text x="136.00" y="728.66" font-size="8.2">Carbamoyl_aspartate</text>
<path d="M54.00 598.54L58.60 598.54M54.00 607.01L58.60 607.01M54.00 598.54L54.00 607.01M50.50 602.77L54.00 602.77M50.50 615.49L58.60 615.49M50.50 602.77L50.50 615.49M53.00 632.44L58.60 632.44M53.00 640.91L58.60 640.91M53.00 632.44L53.00 640.91M49.00 623.96L58.60 623.96M49.00 636.67L53.00 636.67M49.00 623.96L49.00 636.67M45.60 609.13L50.50 609.13M45.60 630.32L49.00 630.32M45.60 609.13L45.60 630.32M55.50 666.34L58.60 666.34M55.50 674.81L58.60 674.81M55.50 666.34L55.50 674.81M54.00 670.58L55.50 670.58M54.00 683.29L58.60 683.29M54.00 670.58L54.00 683.29M51.50 657.86L58.60 657.86M51.50 676.93L54.00 676.93M51.50 657.86L51.50 676.93M48.00 649.39L58.60 649.39M48.00 667.40L51.50 667.40M48.00 649.39L48.00 667.40M53.00 700.24L58.60 700.24M53.00 708.71L58.60 708.71M53.00 700.24L53.00 708.71M49.50 691.76L58.60 691.76M49.50 704.47L53.00 704.47M49.50 691.76L49.50 704.47M49.00 717.19L58.60 717.19M49.00 725.66L58.60 725.66M49.00 717.19L49.00 725.66M39.00 698.12L49.50 698.12M39.00 721.42L49.00 721.42M39.00 698.12L39.00 721.42M36.00 658.39L48.00 658.39M36.00 709.77L39.00 709.77M36.00 658.39L36.00 709.77M18.10 619.72L45.60 619.72M18.10 684.08L36.00 684.08M18.10 619.72L18.10 684.08" stroke="#231f20" stroke-width="0.7" fill="none"/>
<rect x="59.20" y="733.70" width="1.61" height="5.40" fill="#3850aa" shape-rendering="crispEdges"/>
<rect x="60.71" y="733.70" width="1.61" height="5.40" fill="#4057ad" shape-rendering="crispEdges"/>
<rect x="62.22" y="733.70" width="1.61" height="5.40" fill="#485eb1" shape-rendering="crispEdges"/>
<rect x="63.72" y="733.70" width="1.61" height="5.40" fill="#5065b4" shape-rendering="crispEdges"/>
<rect x="65.23" y="733.70" width="1.61" height="5.40" fill="#596cb8" shape-rendering="crispEdges"/>
<rect x="66.74" y="733.70" width="1.61" height="5.40" fill="#6173bb" shape-rendering="crispEdges"/>
<rect x="68.25" y="733.70" width="1.61" height="5.40" fill="#697bbf" shape-rendering="crispEdges"/>
<rect x="69.76" y="733.70" width="1.61" height="5.40" fill="#7182c2" shape-rendering="crispEdges"/>
<rect x="71.26" y="733.70" width="1.61" height="5.40" fill="#7989c6" shape-rendering="crispEdges"/>
<rect x="72.77" y="733.70" width="1.61" height="5.40" fill="#8190c9" shape-rendering="crispEdges"/>
<rect x="74.28" y="733.70" width="1.61" height="5.40" fill="#8997cd" shape-rendering="crispEdges"/>
<rect x="75.79" y="733.70" width="1.61" height="5.40" fill="#919ed0" shape-rendering="crispEdges"/>
<rect x="77.30" y="733.70" width="1.61" height="5.40" fill="#9aa6d4" shape-rendering="crispEdges"/>
<rect x="78.80" y="733.70" width="1.61" height="5.40" fill="#a2add7" shape-rendering="crispEdges"/>
<rect x="80.31" y="733.70" width="1.61" height="5.40" fill="#aab4da" shape-rendering="crispEdges"/>
<rect x="81.82" y="733.70" width="1.61" height="5.40" fill="#b2bbde" shape-rendering="crispEdges"/>
<rect x="83.33" y="733.70" width="1.61" height="5.40" fill="#bac2e1" shape-rendering="crispEdges"/>
<rect x="84.84" y="733.70" width="1.61" height="5.40" fill="#c2c9e5" shape-rendering="crispEdges"/>
<rect x="86.34" y="733.70" width="1.61" height="5.40" fill="#cad0e8" shape-rendering="crispEdges"/>
<rect x="87.85" y="733.70" width="1.61" height="5.40" fill="#d2d8ec" shape-rendering="crispEdges"/>
<rect x="89.36" y="733.70" width="1.61" height="5.40" fill="#dadfef" shape-rendering="crispEdges"/>
<rect x="90.87" y="733.70" width="1.61" height="5.40" fill="#e3e6f3" shape-rendering="crispEdges"/>
<rect x="92.38" y="733.70" width="1.61" height="5.40" fill="#ebedf6" shape-rendering="crispEdges"/>
<rect x="93.88" y="733.70" width="1.61" height="5.40" fill="#f3f4fa" shape-rendering="crispEdges"/>
<rect x="95.39" y="733.70" width="1.61" height="5.40" fill="#fbfbfd" shape-rendering="crispEdges"/>
<rect x="96.90" y="733.70" width="1.61" height="5.40" fill="#fefafa" shape-rendering="crispEdges"/>
<rect x="98.41" y="733.70" width="1.61" height="5.40" fill="#fcf1f2" shape-rendering="crispEdges"/>
<rect x="99.92" y="733.70" width="1.61" height="5.40" fill="#fbe8e8" shape-rendering="crispEdges"/>
<rect x="101.42" y="733.70" width="1.61" height="5.40" fill="#f9dee0" shape-rendering="crispEdges"/>
<rect x="102.93" y="733.70" width="1.61" height="5.40" fill="#f7d5d6" shape-rendering="crispEdges"/>
<rect x="104.44" y="733.70" width="1.61" height="5.40" fill="#f6ccce" shape-rendering="crispEdges"/>
<rect x="105.95" y="733.70" width="1.61" height="5.40" fill="#f4c2c4" shape-rendering="crispEdges"/>
<rect x="107.46" y="733.70" width="1.61" height="5.40" fill="#f2b9bb" shape-rendering="crispEdges"/>
<rect x="108.96" y="733.70" width="1.61" height="5.40" fill="#f0b0b2" shape-rendering="crispEdges"/>
<rect x="110.47" y="733.70" width="1.61" height="5.40" fill="#efa6aa" shape-rendering="crispEdges"/>
<rect x="111.98" y="733.70" width="1.61" height="5.40" fill="#ed9da0" shape-rendering="crispEdges"/>
<rect x="113.49" y="733.70" width="1.61" height="5.40" fill="#eb9498" shape-rendering="crispEdges"/>
<rect x="115.00" y="733.70" width="1.61" height="5.40" fill="#ea8a8e" shape-rendering="crispEdges"/>
<rect x="116.50" y="733.70" width="1.61" height="5.40" fill="#e88186" shape-rendering="crispEdges"/>
<rect x="118.01" y="733.70" width="1.61" height="5.40" fill="#e6787c" shape-rendering="crispEdges"/>
<rect x="119.52" y="733.70" width="1.61" height="5.40" fill="#e46f74" shape-rendering="crispEdges"/>
<rect x="121.03" y="733.70" width="1.61" height="5.40" fill="#e3656b" shape-rendering="crispEdges"/>
<rect x="122.54" y="733.70" width="1.61" height="5.40" fill="#e15c62" shape-rendering="crispEdges"/>
<rect x="124.04" y="733.70" width="1.61" height="5.40" fill="#df5358" shape-rendering="crispEdges"/>
<rect x="125.55" y="733.70" width="1.61" height="5.40" fill="#dd4950" shape-rendering="crispEdges"/>
<rect x="127.06" y="733.70" width="1.61" height="5.40" fill="#dc4046" shape-rendering="crispEdges"/>
<rect x="128.57" y="733.70" width="1.61" height="5.40" fill="#da373e" shape-rendering="crispEdges"/>
<rect x="130.08" y="733.70" width="1.61" height="5.40" fill="#d82d35" shape-rendering="crispEdges"/>
<rect x="131.58" y="733.70" width="1.61" height="5.40" fill="#d7242c" shape-rendering="crispEdges"/>
<rect x="133.09" y="733.70" width="1.61" height="5.40" fill="#d51b23" shape-rendering="crispEdges"/>
<text x="61.40" y="746.60" font-size="8.2" text-anchor="middle">−2</text>
<text x="79.40" y="746.60" font-size="8.2" text-anchor="middle">−1</text>
<text x="97.50" y="746.60" font-size="8.2" text-anchor="middle">0</text>
<text x="115.20" y="746.60" font-size="8.2" text-anchor="middle">1</text>
<text x="132.70" y="746.60" font-size="8.2" text-anchor="middle">2</text>
<text x="244.60" y="549.80" font-size="11" font-weight="bold" fill="#000">H</text>
<line x1="288.20" y1="552.00" x2="288.20" y2="730.30" stroke="#c6c7d8" stroke-width="0.7"/>
<line x1="332.30" y1="552.00" x2="332.30" y2="730.30" stroke="#c6c7d8" stroke-width="0.7"/>
<line x1="376.40" y1="552.00" x2="376.40" y2="730.30" stroke="#c6c7d8" stroke-width="0.7"/>
<line x1="420.50" y1="552.00" x2="420.50" y2="730.30" stroke="#c6c7d8" stroke-width="0.7"/>
<line x1="281.20" y1="717.60" x2="459.50" y2="717.60" stroke="#c6c7d8" stroke-width="0.7"/>
<line x1="281.20" y1="689.52" x2="459.50" y2="689.52" stroke="#c6c7d8" stroke-width="0.7"/>
<line x1="281.20" y1="661.44" x2="459.50" y2="661.44" stroke="#c6c7d8" stroke-width="0.7"/>
<line x1="281.20" y1="633.36" x2="459.50" y2="633.36" stroke="#c6c7d8" stroke-width="0.7"/>
<line x1="281.20" y1="605.28" x2="459.50" y2="605.28" stroke="#c6c7d8" stroke-width="0.7"/>
<line x1="281.20" y1="577.20" x2="459.50" y2="577.20" stroke="#c6c7d8" stroke-width="0.7"/>
<line x1="281.20" y1="577.20" x2="281.20" y2="717.60" stroke="#4a4a55" stroke-width="0.8"/>
<line x1="277.80" y1="717.60" x2="281.20" y2="717.60" stroke="#4a4a55" stroke-width="0.8"/>
<text x="275.60" y="717.60" font-size="9" text-anchor="middle" transform="rotate(-90 275.60 717.60)">1</text>
<line x1="277.80" y1="689.52" x2="281.20" y2="689.52" stroke="#4a4a55" stroke-width="0.8"/>
<text x="275.60" y="689.52" font-size="9" text-anchor="middle" transform="rotate(-90 275.60 689.52)">2</text>
<line x1="277.80" y1="661.44" x2="281.20" y2="661.44" stroke="#4a4a55" stroke-width="0.8"/>
<text x="275.60" y="661.44" font-size="9" text-anchor="middle" transform="rotate(-90 275.60 661.44)">3</text>
<line x1="277.80" y1="633.36" x2="281.20" y2="633.36" stroke="#4a4a55" stroke-width="0.8"/>
<text x="275.60" y="633.36" font-size="9" text-anchor="middle" transform="rotate(-90 275.60 633.36)">4</text>
<line x1="277.80" y1="605.28" x2="281.20" y2="605.28" stroke="#4a4a55" stroke-width="0.8"/>
<text x="275.60" y="605.28" font-size="9" text-anchor="middle" transform="rotate(-90 275.60 605.28)">5</text>
<line x1="277.80" y1="577.20" x2="281.20" y2="577.20" stroke="#4a4a55" stroke-width="0.8"/>
<text x="275.60" y="577.20" font-size="9" text-anchor="middle" transform="rotate(-90 275.60 577.20)">6</text>
<line x1="288.20" y1="730.30" x2="420.50" y2="730.30" stroke="#4a4a55" stroke-width="0.8"/>
<line x1="288.20" y1="730.30" x2="288.20" y2="733.60" stroke="#4a4a55" stroke-width="0.8"/>
<text x="288.40" y="741.90" font-size="7.8" text-anchor="middle">0</text>
<line x1="332.30" y1="730.30" x2="332.30" y2="733.60" stroke="#4a4a55" stroke-width="0.8"/>
<text x="332.50" y="741.90" font-size="7.8" text-anchor="middle">0.05</text>
<line x1="376.40" y1="730.30" x2="376.40" y2="733.60" stroke="#4a4a55" stroke-width="0.8"/>
<text x="376.60" y="741.90" font-size="7.8" text-anchor="middle">0.1</text>
<line x1="420.50" y1="730.30" x2="420.50" y2="733.60" stroke="#4a4a55" stroke-width="0.8"/>
<text x="420.70" y="741.90" font-size="7.8" text-anchor="middle">0.15</text>
<text x="359.20" y="750.80" font-size="8" text-anchor="middle">Pathway impact</text>
<text x="265.00" y="650.80" font-size="8.2" text-anchor="middle" transform="rotate(-90 265.00 650.80)">−log (P)</text>
<circle cx="287.95" cy="681.50" r="2.50" fill="#d9553a" stroke="#5a4030" stroke-width="0.8"/>
<circle cx="287.95" cy="684.30" r="2.50" fill="#e06a42" stroke="#5a4030" stroke-width="0.8"/>
<circle cx="287.95" cy="692.70" r="2.60" fill="#d49042" stroke="#5a4030" stroke-width="0.8"/>
<circle cx="294.70" cy="724.10" r="4.00" fill="#faf8e6" stroke="#5a4030" stroke-width="0.8"/>
<circle cx="304.70" cy="710.20" r="4.50" fill="#f6f2b2" stroke="#5a4030" stroke-width="0.8"/>
<circle cx="287.60" cy="709.00" r="2.50" fill="#eef0a2" stroke="#5a4030" stroke-width="0.8"/>
<circle cx="292.30" cy="705.80" r="3.30" fill="#f1ea62" stroke="#5a4030" stroke-width="0.8"/>
<circle cx="308.20" cy="704.20" r="4.50" fill="#f4e852" stroke="#5a4030" stroke-width="0.8"/>
<circle cx="303.10" cy="700.60" r="3.90" fill="#f4e244" stroke="#5a4030" stroke-width="0.8"/>
<circle cx="297.90" cy="699.00" r="3.70" fill="#f5da42" stroke="#5a4030" stroke-width="0.8"/>
<circle cx="299.50" cy="694.30" r="4.10" fill="#f0b242" stroke="#5a4030" stroke-width="0.8"/>
<circle cx="329.40" cy="698.50" r="5.60" fill="#f5bb3c" stroke="#5a4030" stroke-width="0.8"/>
<circle cx="382.30" cy="684.60" r="8.50" fill="#f08025" stroke="#5a4030" stroke-width="0.8"/>
<circle cx="359.60" cy="666.50" r="6.60" fill="#e3421f" stroke="#5a4030" stroke-width="0.8"/>
<circle cx="331.80" cy="662.50" r="6.60" fill="#e8442a" stroke="#5a4030" stroke-width="0.8"/>
<circle cx="337.50" cy="622.10" r="5.90" fill="#e63a22" stroke="#5a4030" stroke-width="0.8"/>
<circle cx="384.00" cy="559.00" r="7.60" fill="#e8322a" stroke="#5a4030" stroke-width="0.8"/>
<circle cx="451.80" cy="586.70" r="10.40" fill="#e6321f" stroke="#5a4030" stroke-width="0.8"/>
<text x="395.60" y="561.90" font-size="8.1">Arginine and proline metabolism</text>
<text x="440.60" y="588.80" font-size="8.1" text-anchor="end">Glycine, serine, and threonine metabolism</text>
<text x="347.00" y="625.10" font-size="8.1">Aminoacyl-tRNA biosynthesis</text>
<text x="284.60" y="650.60" font-size="8.1">Cysteine and methionine metabolism</text>
<text x="370.00" y="669.30" font-size="8.1">Pyrimidine metabolism</text>
<text x="352.80" y="702.00" font-size="8.1">Amino sugar and nucleotide sugar metabolism</text>
</svg>
</body></html>
